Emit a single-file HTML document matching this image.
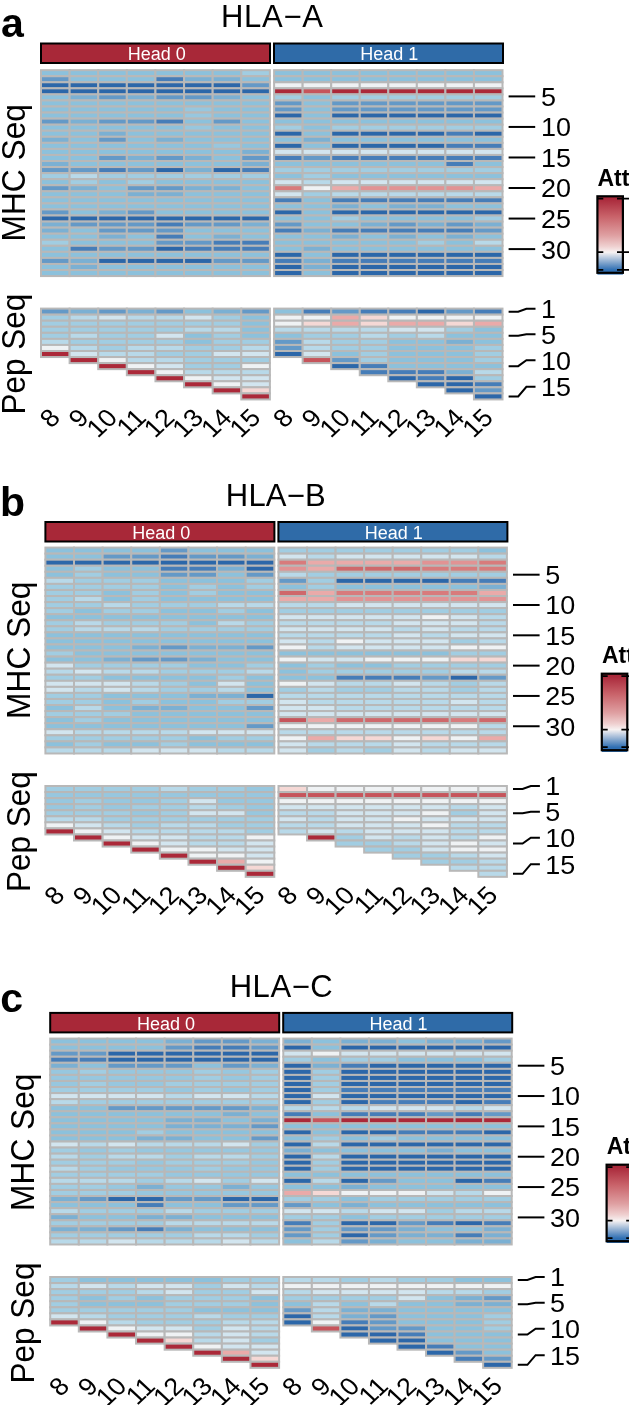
<!DOCTYPE html>
<html><head><meta charset="utf-8"><title>HLA attention heatmaps</title>
<style>html,body{margin:0;padding:0;background:#fff}svg{display:block}svg text{font-family:"Liberation Sans",sans-serif}</style></head><body>
<svg width="629" height="1405" viewBox="0 0 629 1405">
<defs><filter id="soft" x="0" y="0" width="100%" height="100%" filterUnits="userSpaceOnUse" color-interpolation-filters="sRGB"><feGaussianBlur stdDeviation="0.5"/></filter><linearGradient id="lg" x1="0" y1="0" x2="0" y2="1"><stop offset="0" stop-color="#a9283a"/><stop offset="0.03" stop-color="#a9283a"/><stop offset="0.26" stop-color="#c9636a"/><stop offset="0.5" stop-color="#dfa0a2"/><stop offset="0.64" stop-color="#efd0d0"/><stop offset="0.715" stop-color="#f7f2f2"/><stop offset="0.94" stop-color="#2f6fb3"/><stop offset="1" stop-color="#2f6fb3"/></linearGradient></defs>
<g filter="url(#soft)">
<rect x="-5" y="-5" width="639" height="1415" fill="#fff"/>
<text x="1" y="36.7" font-size="41" font-weight="bold" >a</text>
<text x="0" y="516.3" font-size="41" font-weight="bold" >b</text>
<text x="0.2" y="1012.2" font-size="41" font-weight="bold" >c</text>
<g transform="translate(0,0)">
<text x="272" y="27.3" font-size="31" textLength="102" text-anchor="middle" >HLA−A</text>
<rect x="41" y="43.5" width="229" height="19.5" fill="#a82838" stroke="#000" stroke-width="2"/>
<rect x="274" y="43.5" width="229" height="19.5" fill="#2f6ba8" stroke="#000" stroke-width="2"/>
<text x="156.8" y="60.2" font-size="18" fill="#fff" text-anchor="middle" >Head 0</text>
<text x="389.3" y="60.2" font-size="18" fill="#fff" text-anchor="middle" >Head 1</text>
<g transform="translate(0,0)">
<text transform="translate(25.4,172.8) rotate(-90) scale(1,1.05)" font-size="31.7" text-anchor="middle" >MHC Seq</text>
<text transform="translate(25.1,354.2) rotate(-90) scale(1,1.04)" font-size="31.5" text-anchor="middle" >Pep Seq</text>
<g stroke="#b8b8b8" stroke-width="2">
<rect x="41" y="70.17" width="28.61" height="6.06" fill="#8cc1dc"/>
<rect x="69.61" y="70.17" width="28.61" height="6.06" fill="#8cc1dc"/>
<rect x="98.22" y="70.17" width="28.61" height="6.06" fill="#8cc1dc"/>
<rect x="126.84" y="70.17" width="28.61" height="6.06" fill="#8cc1dc"/>
<rect x="155.45" y="70.17" width="28.61" height="6.06" fill="#8cc1dc"/>
<rect x="184.06" y="70.17" width="28.61" height="6.06" fill="#8cc1dc"/>
<rect x="212.67" y="70.17" width="28.61" height="6.06" fill="#8cc1dc"/>
<rect x="241.29" y="70.17" width="28.61" height="6.06" fill="#a1cde2"/>
<rect x="41" y="76.23" width="28.61" height="6.06" fill="#6499c7"/>
<rect x="69.61" y="76.23" width="28.61" height="6.06" fill="#8cc1dc"/>
<rect x="98.22" y="76.23" width="28.61" height="6.06" fill="#8cc1dc"/>
<rect x="126.84" y="76.23" width="28.61" height="6.06" fill="#8cc1dc"/>
<rect x="155.45" y="76.23" width="28.61" height="6.06" fill="#467db8"/>
<rect x="184.06" y="76.23" width="28.61" height="6.06" fill="#7bb0d3"/>
<rect x="212.67" y="76.23" width="28.61" height="6.06" fill="#7bb0d3"/>
<rect x="241.29" y="76.23" width="28.61" height="6.06" fill="#8cc1dc"/>
<rect x="41" y="82.28" width="28.61" height="6.06" fill="#2c67a9"/>
<rect x="69.61" y="82.28" width="28.61" height="6.06" fill="#2c67a9"/>
<rect x="98.22" y="82.28" width="28.61" height="6.06" fill="#2c67a9"/>
<rect x="126.84" y="82.28" width="28.61" height="6.06" fill="#2c67a9"/>
<rect x="155.45" y="82.28" width="28.61" height="6.06" fill="#2c67a9"/>
<rect x="184.06" y="82.28" width="28.61" height="6.06" fill="#2c67a9"/>
<rect x="212.67" y="82.28" width="28.61" height="6.06" fill="#2c67a9"/>
<rect x="241.29" y="82.28" width="28.61" height="6.06" fill="#6499c7"/>
<rect x="41" y="88.34" width="28.61" height="6.06" fill="#2c67a9"/>
<rect x="69.61" y="88.34" width="28.61" height="6.06" fill="#2c67a9"/>
<rect x="98.22" y="88.34" width="28.61" height="6.06" fill="#2c67a9"/>
<rect x="126.84" y="88.34" width="28.61" height="6.06" fill="#2c67a9"/>
<rect x="155.45" y="88.34" width="28.61" height="6.06" fill="#2c67a9"/>
<rect x="184.06" y="88.34" width="28.61" height="6.06" fill="#2c67a9"/>
<rect x="212.67" y="88.34" width="28.61" height="6.06" fill="#2c67a9"/>
<rect x="241.29" y="88.34" width="28.61" height="6.06" fill="#2c67a9"/>
<rect x="41" y="94.39" width="28.61" height="6.06" fill="#8cc1dc"/>
<rect x="69.61" y="94.39" width="28.61" height="6.06" fill="#7bb0d3"/>
<rect x="98.22" y="94.39" width="28.61" height="6.06" fill="#6499c7"/>
<rect x="126.84" y="94.39" width="28.61" height="6.06" fill="#7bb0d3"/>
<rect x="155.45" y="94.39" width="28.61" height="6.06" fill="#6499c7"/>
<rect x="184.06" y="94.39" width="28.61" height="6.06" fill="#6499c7"/>
<rect x="212.67" y="94.39" width="28.61" height="6.06" fill="#7bb0d3"/>
<rect x="241.29" y="94.39" width="28.61" height="6.06" fill="#8cc1dc"/>
<rect x="41" y="100.45" width="28.61" height="6.06" fill="#8cc1dc"/>
<rect x="69.61" y="100.45" width="28.61" height="6.06" fill="#8cc1dc"/>
<rect x="98.22" y="100.45" width="28.61" height="6.06" fill="#8cc1dc"/>
<rect x="126.84" y="100.45" width="28.61" height="6.06" fill="#8cc1dc"/>
<rect x="155.45" y="100.45" width="28.61" height="6.06" fill="#8cc1dc"/>
<rect x="184.06" y="100.45" width="28.61" height="6.06" fill="#8cc1dc"/>
<rect x="212.67" y="100.45" width="28.61" height="6.06" fill="#8cc1dc"/>
<rect x="241.29" y="100.45" width="28.61" height="6.06" fill="#8cc1dc"/>
<rect x="41" y="106.51" width="28.61" height="6.06" fill="#8cc1dc"/>
<rect x="69.61" y="106.51" width="28.61" height="6.06" fill="#8cc1dc"/>
<rect x="98.22" y="106.51" width="28.61" height="6.06" fill="#8cc1dc"/>
<rect x="126.84" y="106.51" width="28.61" height="6.06" fill="#8cc1dc"/>
<rect x="155.45" y="106.51" width="28.61" height="6.06" fill="#8cc1dc"/>
<rect x="184.06" y="106.51" width="28.61" height="6.06" fill="#97c7df"/>
<rect x="212.67" y="106.51" width="28.61" height="6.06" fill="#8cc1dc"/>
<rect x="241.29" y="106.51" width="28.61" height="6.06" fill="#8cc1dc"/>
<rect x="41" y="112.56" width="28.61" height="6.06" fill="#8cc1dc"/>
<rect x="69.61" y="112.56" width="28.61" height="6.06" fill="#8cc1dc"/>
<rect x="98.22" y="112.56" width="28.61" height="6.06" fill="#8cc1dc"/>
<rect x="126.84" y="112.56" width="28.61" height="6.06" fill="#8cc1dc"/>
<rect x="155.45" y="112.56" width="28.61" height="6.06" fill="#8cc1dc"/>
<rect x="184.06" y="112.56" width="28.61" height="6.06" fill="#97c7df"/>
<rect x="212.67" y="112.56" width="28.61" height="6.06" fill="#8cc1dc"/>
<rect x="241.29" y="112.56" width="28.61" height="6.06" fill="#8cc1dc"/>
<rect x="41" y="118.62" width="28.61" height="6.06" fill="#6499c7"/>
<rect x="69.61" y="118.62" width="28.61" height="6.06" fill="#7bb0d3"/>
<rect x="98.22" y="118.62" width="28.61" height="6.06" fill="#6499c7"/>
<rect x="126.84" y="118.62" width="28.61" height="6.06" fill="#6499c7"/>
<rect x="155.45" y="118.62" width="28.61" height="6.06" fill="#467db8"/>
<rect x="184.06" y="118.62" width="28.61" height="6.06" fill="#8cc1dc"/>
<rect x="212.67" y="118.62" width="28.61" height="6.06" fill="#6499c7"/>
<rect x="241.29" y="118.62" width="28.61" height="6.06" fill="#8cc1dc"/>
<rect x="41" y="124.67" width="28.61" height="6.06" fill="#8cc1dc"/>
<rect x="69.61" y="124.67" width="28.61" height="6.06" fill="#8cc1dc"/>
<rect x="98.22" y="124.67" width="28.61" height="6.06" fill="#8cc1dc"/>
<rect x="126.84" y="124.67" width="28.61" height="6.06" fill="#8cc1dc"/>
<rect x="155.45" y="124.67" width="28.61" height="6.06" fill="#8cc1dc"/>
<rect x="184.06" y="124.67" width="28.61" height="6.06" fill="#97c7df"/>
<rect x="212.67" y="124.67" width="28.61" height="6.06" fill="#8cc1dc"/>
<rect x="241.29" y="124.67" width="28.61" height="6.06" fill="#8cc1dc"/>
<rect x="41" y="130.73" width="28.61" height="6.06" fill="#8cc1dc"/>
<rect x="69.61" y="130.73" width="28.61" height="6.06" fill="#8cc1dc"/>
<rect x="98.22" y="130.73" width="28.61" height="6.06" fill="#7bb0d3"/>
<rect x="126.84" y="130.73" width="28.61" height="6.06" fill="#8cc1dc"/>
<rect x="155.45" y="130.73" width="28.61" height="6.06" fill="#8cc1dc"/>
<rect x="184.06" y="130.73" width="28.61" height="6.06" fill="#8cc1dc"/>
<rect x="212.67" y="130.73" width="28.61" height="6.06" fill="#8cc1dc"/>
<rect x="241.29" y="130.73" width="28.61" height="6.06" fill="#8cc1dc"/>
<rect x="41" y="136.79" width="28.61" height="6.06" fill="#7bb0d3"/>
<rect x="69.61" y="136.79" width="28.61" height="6.06" fill="#8cc1dc"/>
<rect x="98.22" y="136.79" width="28.61" height="6.06" fill="#6499c7"/>
<rect x="126.84" y="136.79" width="28.61" height="6.06" fill="#8cc1dc"/>
<rect x="155.45" y="136.79" width="28.61" height="6.06" fill="#7bb0d3"/>
<rect x="184.06" y="136.79" width="28.61" height="6.06" fill="#8cc1dc"/>
<rect x="212.67" y="136.79" width="28.61" height="6.06" fill="#8cc1dc"/>
<rect x="241.29" y="136.79" width="28.61" height="6.06" fill="#8cc1dc"/>
<rect x="41" y="142.84" width="28.61" height="6.06" fill="#8cc1dc"/>
<rect x="69.61" y="142.84" width="28.61" height="6.06" fill="#8cc1dc"/>
<rect x="98.22" y="142.84" width="28.61" height="6.06" fill="#8cc1dc"/>
<rect x="126.84" y="142.84" width="28.61" height="6.06" fill="#8cc1dc"/>
<rect x="155.45" y="142.84" width="28.61" height="6.06" fill="#8cc1dc"/>
<rect x="184.06" y="142.84" width="28.61" height="6.06" fill="#8cc1dc"/>
<rect x="212.67" y="142.84" width="28.61" height="6.06" fill="#97c7df"/>
<rect x="241.29" y="142.84" width="28.61" height="6.06" fill="#8cc1dc"/>
<rect x="41" y="148.9" width="28.61" height="6.06" fill="#8cc1dc"/>
<rect x="69.61" y="148.9" width="28.61" height="6.06" fill="#8cc1dc"/>
<rect x="98.22" y="148.9" width="28.61" height="6.06" fill="#8cc1dc"/>
<rect x="126.84" y="148.9" width="28.61" height="6.06" fill="#8cc1dc"/>
<rect x="155.45" y="148.9" width="28.61" height="6.06" fill="#8cc1dc"/>
<rect x="184.06" y="148.9" width="28.61" height="6.06" fill="#8cc1dc"/>
<rect x="212.67" y="148.9" width="28.61" height="6.06" fill="#8cc1dc"/>
<rect x="241.29" y="148.9" width="28.61" height="6.06" fill="#7bb0d3"/>
<rect x="41" y="154.95" width="28.61" height="6.06" fill="#8cc1dc"/>
<rect x="69.61" y="154.95" width="28.61" height="6.06" fill="#8cc1dc"/>
<rect x="98.22" y="154.95" width="28.61" height="6.06" fill="#6499c7"/>
<rect x="126.84" y="154.95" width="28.61" height="6.06" fill="#7bb0d3"/>
<rect x="155.45" y="154.95" width="28.61" height="6.06" fill="#6499c7"/>
<rect x="184.06" y="154.95" width="28.61" height="6.06" fill="#7bb0d3"/>
<rect x="212.67" y="154.95" width="28.61" height="6.06" fill="#8cc1dc"/>
<rect x="241.29" y="154.95" width="28.61" height="6.06" fill="#6499c7"/>
<rect x="41" y="161.01" width="28.61" height="6.06" fill="#7bb0d3"/>
<rect x="69.61" y="161.01" width="28.61" height="6.06" fill="#8cc1dc"/>
<rect x="98.22" y="161.01" width="28.61" height="6.06" fill="#8cc1dc"/>
<rect x="126.84" y="161.01" width="28.61" height="6.06" fill="#8cc1dc"/>
<rect x="155.45" y="161.01" width="28.61" height="6.06" fill="#8cc1dc"/>
<rect x="184.06" y="161.01" width="28.61" height="6.06" fill="#8cc1dc"/>
<rect x="212.67" y="161.01" width="28.61" height="6.06" fill="#8cc1dc"/>
<rect x="241.29" y="161.01" width="28.61" height="6.06" fill="#7bb0d3"/>
<rect x="41" y="167.07" width="28.61" height="6.06" fill="#6499c7"/>
<rect x="69.61" y="167.07" width="28.61" height="6.06" fill="#6499c7"/>
<rect x="98.22" y="167.07" width="28.61" height="6.06" fill="#467db8"/>
<rect x="126.84" y="167.07" width="28.61" height="6.06" fill="#6499c7"/>
<rect x="155.45" y="167.07" width="28.61" height="6.06" fill="#2c67a9"/>
<rect x="184.06" y="167.07" width="28.61" height="6.06" fill="#7bb0d3"/>
<rect x="212.67" y="167.07" width="28.61" height="6.06" fill="#2c67a9"/>
<rect x="241.29" y="167.07" width="28.61" height="6.06" fill="#467db8"/>
<rect x="41" y="173.12" width="28.61" height="6.06" fill="#a1cde2"/>
<rect x="69.61" y="173.12" width="28.61" height="6.06" fill="#b8d9e9"/>
<rect x="98.22" y="173.12" width="28.61" height="6.06" fill="#a1cde2"/>
<rect x="126.84" y="173.12" width="28.61" height="6.06" fill="#a1cde2"/>
<rect x="155.45" y="173.12" width="28.61" height="6.06" fill="#a1cde2"/>
<rect x="184.06" y="173.12" width="28.61" height="6.06" fill="#a1cde2"/>
<rect x="212.67" y="173.12" width="28.61" height="6.06" fill="#a1cde2"/>
<rect x="241.29" y="173.12" width="28.61" height="6.06" fill="#a1cde2"/>
<rect x="41" y="179.18" width="28.61" height="6.06" fill="#8cc1dc"/>
<rect x="69.61" y="179.18" width="28.61" height="6.06" fill="#a1cde2"/>
<rect x="98.22" y="179.18" width="28.61" height="6.06" fill="#8cc1dc"/>
<rect x="126.84" y="179.18" width="28.61" height="6.06" fill="#a1cde2"/>
<rect x="155.45" y="179.18" width="28.61" height="6.06" fill="#8cc1dc"/>
<rect x="184.06" y="179.18" width="28.61" height="6.06" fill="#8cc1dc"/>
<rect x="212.67" y="179.18" width="28.61" height="6.06" fill="#8cc1dc"/>
<rect x="241.29" y="179.18" width="28.61" height="6.06" fill="#8cc1dc"/>
<rect x="41" y="185.23" width="28.61" height="6.06" fill="#6499c7"/>
<rect x="69.61" y="185.23" width="28.61" height="6.06" fill="#7bb0d3"/>
<rect x="98.22" y="185.23" width="28.61" height="6.06" fill="#8cc1dc"/>
<rect x="126.84" y="185.23" width="28.61" height="6.06" fill="#6499c7"/>
<rect x="155.45" y="185.23" width="28.61" height="6.06" fill="#6499c7"/>
<rect x="184.06" y="185.23" width="28.61" height="6.06" fill="#7bb0d3"/>
<rect x="212.67" y="185.23" width="28.61" height="6.06" fill="#7bb0d3"/>
<rect x="241.29" y="185.23" width="28.61" height="6.06" fill="#8cc1dc"/>
<rect x="41" y="191.29" width="28.61" height="6.06" fill="#8cc1dc"/>
<rect x="69.61" y="191.29" width="28.61" height="6.06" fill="#8cc1dc"/>
<rect x="98.22" y="191.29" width="28.61" height="6.06" fill="#8cc1dc"/>
<rect x="126.84" y="191.29" width="28.61" height="6.06" fill="#7bb0d3"/>
<rect x="155.45" y="191.29" width="28.61" height="6.06" fill="#7bb0d3"/>
<rect x="184.06" y="191.29" width="28.61" height="6.06" fill="#8cc1dc"/>
<rect x="212.67" y="191.29" width="28.61" height="6.06" fill="#8cc1dc"/>
<rect x="241.29" y="191.29" width="28.61" height="6.06" fill="#8cc1dc"/>
<rect x="41" y="197.35" width="28.61" height="6.06" fill="#8cc1dc"/>
<rect x="69.61" y="197.35" width="28.61" height="6.06" fill="#8cc1dc"/>
<rect x="98.22" y="197.35" width="28.61" height="6.06" fill="#8cc1dc"/>
<rect x="126.84" y="197.35" width="28.61" height="6.06" fill="#8cc1dc"/>
<rect x="155.45" y="197.35" width="28.61" height="6.06" fill="#8cc1dc"/>
<rect x="184.06" y="197.35" width="28.61" height="6.06" fill="#8cc1dc"/>
<rect x="212.67" y="197.35" width="28.61" height="6.06" fill="#8cc1dc"/>
<rect x="241.29" y="197.35" width="28.61" height="6.06" fill="#8cc1dc"/>
<rect x="41" y="203.4" width="28.61" height="6.06" fill="#8cc1dc"/>
<rect x="69.61" y="203.4" width="28.61" height="6.06" fill="#8cc1dc"/>
<rect x="98.22" y="203.4" width="28.61" height="6.06" fill="#8cc1dc"/>
<rect x="126.84" y="203.4" width="28.61" height="6.06" fill="#8cc1dc"/>
<rect x="155.45" y="203.4" width="28.61" height="6.06" fill="#8cc1dc"/>
<rect x="184.06" y="203.4" width="28.61" height="6.06" fill="#8cc1dc"/>
<rect x="212.67" y="203.4" width="28.61" height="6.06" fill="#8cc1dc"/>
<rect x="241.29" y="203.4" width="28.61" height="6.06" fill="#8cc1dc"/>
<rect x="41" y="209.46" width="28.61" height="6.06" fill="#6499c7"/>
<rect x="69.61" y="209.46" width="28.61" height="6.06" fill="#8cc1dc"/>
<rect x="98.22" y="209.46" width="28.61" height="6.06" fill="#7bb0d3"/>
<rect x="126.84" y="209.46" width="28.61" height="6.06" fill="#6499c7"/>
<rect x="155.45" y="209.46" width="28.61" height="6.06" fill="#8cc1dc"/>
<rect x="184.06" y="209.46" width="28.61" height="6.06" fill="#8cc1dc"/>
<rect x="212.67" y="209.46" width="28.61" height="6.06" fill="#8cc1dc"/>
<rect x="241.29" y="209.46" width="28.61" height="6.06" fill="#8cc1dc"/>
<rect x="41" y="215.51" width="28.61" height="6.06" fill="#2c67a9"/>
<rect x="69.61" y="215.51" width="28.61" height="6.06" fill="#2c67a9"/>
<rect x="98.22" y="215.51" width="28.61" height="6.06" fill="#2c67a9"/>
<rect x="126.84" y="215.51" width="28.61" height="6.06" fill="#2c67a9"/>
<rect x="155.45" y="215.51" width="28.61" height="6.06" fill="#2c67a9"/>
<rect x="184.06" y="215.51" width="28.61" height="6.06" fill="#2c67a9"/>
<rect x="212.67" y="215.51" width="28.61" height="6.06" fill="#2c67a9"/>
<rect x="241.29" y="215.51" width="28.61" height="6.06" fill="#2c67a9"/>
<rect x="41" y="221.57" width="28.61" height="6.06" fill="#7bb0d3"/>
<rect x="69.61" y="221.57" width="28.61" height="6.06" fill="#6499c7"/>
<rect x="98.22" y="221.57" width="28.61" height="6.06" fill="#6499c7"/>
<rect x="126.84" y="221.57" width="28.61" height="6.06" fill="#6499c7"/>
<rect x="155.45" y="221.57" width="28.61" height="6.06" fill="#467db8"/>
<rect x="184.06" y="221.57" width="28.61" height="6.06" fill="#6499c7"/>
<rect x="212.67" y="221.57" width="28.61" height="6.06" fill="#6499c7"/>
<rect x="241.29" y="221.57" width="28.61" height="6.06" fill="#7bb0d3"/>
<rect x="41" y="227.63" width="28.61" height="6.06" fill="#7bb0d3"/>
<rect x="69.61" y="227.63" width="28.61" height="6.06" fill="#8cc1dc"/>
<rect x="98.22" y="227.63" width="28.61" height="6.06" fill="#6499c7"/>
<rect x="126.84" y="227.63" width="28.61" height="6.06" fill="#6499c7"/>
<rect x="155.45" y="227.63" width="28.61" height="6.06" fill="#6499c7"/>
<rect x="184.06" y="227.63" width="28.61" height="6.06" fill="#8cc1dc"/>
<rect x="212.67" y="227.63" width="28.61" height="6.06" fill="#8cc1dc"/>
<rect x="241.29" y="227.63" width="28.61" height="6.06" fill="#8cc1dc"/>
<rect x="41" y="233.68" width="28.61" height="6.06" fill="#8cc1dc"/>
<rect x="69.61" y="233.68" width="28.61" height="6.06" fill="#8cc1dc"/>
<rect x="98.22" y="233.68" width="28.61" height="6.06" fill="#7bb0d3"/>
<rect x="126.84" y="233.68" width="28.61" height="6.06" fill="#8cc1dc"/>
<rect x="155.45" y="233.68" width="28.61" height="6.06" fill="#467db8"/>
<rect x="184.06" y="233.68" width="28.61" height="6.06" fill="#8cc1dc"/>
<rect x="212.67" y="233.68" width="28.61" height="6.06" fill="#7bb0d3"/>
<rect x="241.29" y="233.68" width="28.61" height="6.06" fill="#8cc1dc"/>
<rect x="41" y="239.74" width="28.61" height="6.06" fill="#a1cde2"/>
<rect x="69.61" y="239.74" width="28.61" height="6.06" fill="#8cc1dc"/>
<rect x="98.22" y="239.74" width="28.61" height="6.06" fill="#8cc1dc"/>
<rect x="126.84" y="239.74" width="28.61" height="6.06" fill="#8cc1dc"/>
<rect x="155.45" y="239.74" width="28.61" height="6.06" fill="#6499c7"/>
<rect x="184.06" y="239.74" width="28.61" height="6.06" fill="#6499c7"/>
<rect x="212.67" y="239.74" width="28.61" height="6.06" fill="#467db8"/>
<rect x="241.29" y="239.74" width="28.61" height="6.06" fill="#467db8"/>
<rect x="41" y="245.79" width="28.61" height="6.06" fill="#8cc1dc"/>
<rect x="69.61" y="245.79" width="28.61" height="6.06" fill="#467db8"/>
<rect x="98.22" y="245.79" width="28.61" height="6.06" fill="#6499c7"/>
<rect x="126.84" y="245.79" width="28.61" height="6.06" fill="#6499c7"/>
<rect x="155.45" y="245.79" width="28.61" height="6.06" fill="#2c67a9"/>
<rect x="184.06" y="245.79" width="28.61" height="6.06" fill="#467db8"/>
<rect x="212.67" y="245.79" width="28.61" height="6.06" fill="#467db8"/>
<rect x="241.29" y="245.79" width="28.61" height="6.06" fill="#467db8"/>
<rect x="41" y="251.85" width="28.61" height="6.06" fill="#8cc1dc"/>
<rect x="69.61" y="251.85" width="28.61" height="6.06" fill="#8cc1dc"/>
<rect x="98.22" y="251.85" width="28.61" height="6.06" fill="#8cc1dc"/>
<rect x="126.84" y="251.85" width="28.61" height="6.06" fill="#8cc1dc"/>
<rect x="155.45" y="251.85" width="28.61" height="6.06" fill="#8cc1dc"/>
<rect x="184.06" y="251.85" width="28.61" height="6.06" fill="#8cc1dc"/>
<rect x="212.67" y="251.85" width="28.61" height="6.06" fill="#8cc1dc"/>
<rect x="241.29" y="251.85" width="28.61" height="6.06" fill="#8cc1dc"/>
<rect x="41" y="257.91" width="28.61" height="6.06" fill="#6499c7"/>
<rect x="69.61" y="257.91" width="28.61" height="6.06" fill="#7bb0d3"/>
<rect x="98.22" y="257.91" width="28.61" height="6.06" fill="#2c67a9"/>
<rect x="126.84" y="257.91" width="28.61" height="6.06" fill="#2c67a9"/>
<rect x="155.45" y="257.91" width="28.61" height="6.06" fill="#2c67a9"/>
<rect x="184.06" y="257.91" width="28.61" height="6.06" fill="#2c67a9"/>
<rect x="212.67" y="257.91" width="28.61" height="6.06" fill="#6499c7"/>
<rect x="241.29" y="257.91" width="28.61" height="6.06" fill="#6499c7"/>
<rect x="41" y="263.96" width="28.61" height="6.06" fill="#8cc1dc"/>
<rect x="69.61" y="263.96" width="28.61" height="6.06" fill="#7bb0d3"/>
<rect x="98.22" y="263.96" width="28.61" height="6.06" fill="#8cc1dc"/>
<rect x="126.84" y="263.96" width="28.61" height="6.06" fill="#8cc1dc"/>
<rect x="155.45" y="263.96" width="28.61" height="6.06" fill="#8cc1dc"/>
<rect x="184.06" y="263.96" width="28.61" height="6.06" fill="#8cc1dc"/>
<rect x="212.67" y="263.96" width="28.61" height="6.06" fill="#8cc1dc"/>
<rect x="241.29" y="263.96" width="28.61" height="6.06" fill="#8cc1dc"/>
<rect x="41" y="270.02" width="28.61" height="6.06" fill="#8cc1dc"/>
<rect x="69.61" y="270.02" width="28.61" height="6.06" fill="#8cc1dc"/>
<rect x="98.22" y="270.02" width="28.61" height="6.06" fill="#8cc1dc"/>
<rect x="126.84" y="270.02" width="28.61" height="6.06" fill="#8cc1dc"/>
<rect x="155.45" y="270.02" width="28.61" height="6.06" fill="#8cc1dc"/>
<rect x="184.06" y="270.02" width="28.61" height="6.06" fill="#8cc1dc"/>
<rect x="212.67" y="270.02" width="28.61" height="6.06" fill="#8cc1dc"/>
<rect x="241.29" y="270.02" width="28.61" height="6.06" fill="#8cc1dc"/>
<rect x="41" y="308.6" width="28.61" height="6.06" fill="#6499c7"/>
<rect x="41" y="314.66" width="28.61" height="6.06" fill="#a1cde2"/>
<rect x="41" y="320.71" width="28.61" height="6.06" fill="#a1cde2"/>
<rect x="41" y="326.77" width="28.61" height="6.06" fill="#a1cde2"/>
<rect x="41" y="332.82" width="28.61" height="6.06" fill="#a1cde2"/>
<rect x="41" y="338.88" width="28.61" height="6.06" fill="#b8d9e9"/>
<rect x="41" y="344.94" width="28.61" height="6.06" fill="#eff2f4"/>
<rect x="41" y="350.99" width="28.61" height="6.06" fill="#ab2939"/>
<rect x="69.61" y="308.6" width="28.61" height="6.06" fill="#7bb0d3"/>
<rect x="69.61" y="314.66" width="28.61" height="6.06" fill="#b8d9e9"/>
<rect x="69.61" y="320.71" width="28.61" height="6.06" fill="#a1cde2"/>
<rect x="69.61" y="326.77" width="28.61" height="6.06" fill="#a1cde2"/>
<rect x="69.61" y="332.82" width="28.61" height="6.06" fill="#b8d9e9"/>
<rect x="69.61" y="338.88" width="28.61" height="6.06" fill="#a1cde2"/>
<rect x="69.61" y="344.94" width="28.61" height="6.06" fill="#b8d9e9"/>
<rect x="69.61" y="350.99" width="28.61" height="6.06" fill="#d2e5ef"/>
<rect x="69.61" y="357.05" width="28.61" height="6.06" fill="#ab2939"/>
<rect x="98.22" y="308.6" width="28.61" height="6.06" fill="#6499c7"/>
<rect x="98.22" y="314.66" width="28.61" height="6.06" fill="#d2e5ef"/>
<rect x="98.22" y="320.71" width="28.61" height="6.06" fill="#a1cde2"/>
<rect x="98.22" y="326.77" width="28.61" height="6.06" fill="#a1cde2"/>
<rect x="98.22" y="332.82" width="28.61" height="6.06" fill="#a1cde2"/>
<rect x="98.22" y="338.88" width="28.61" height="6.06" fill="#a1cde2"/>
<rect x="98.22" y="344.94" width="28.61" height="6.06" fill="#a1cde2"/>
<rect x="98.22" y="350.99" width="28.61" height="6.06" fill="#b8d9e9"/>
<rect x="98.22" y="357.05" width="28.61" height="6.06" fill="#eff2f4"/>
<rect x="98.22" y="363.1" width="28.61" height="6.06" fill="#ab2939"/>
<rect x="126.84" y="308.6" width="28.61" height="6.06" fill="#7bb0d3"/>
<rect x="126.84" y="314.66" width="28.61" height="6.06" fill="#b8d9e9"/>
<rect x="126.84" y="320.71" width="28.61" height="6.06" fill="#a1cde2"/>
<rect x="126.84" y="326.77" width="28.61" height="6.06" fill="#a1cde2"/>
<rect x="126.84" y="332.82" width="28.61" height="6.06" fill="#a1cde2"/>
<rect x="126.84" y="338.88" width="28.61" height="6.06" fill="#a1cde2"/>
<rect x="126.84" y="344.94" width="28.61" height="6.06" fill="#b8d9e9"/>
<rect x="126.84" y="350.99" width="28.61" height="6.06" fill="#b8d9e9"/>
<rect x="126.84" y="357.05" width="28.61" height="6.06" fill="#b8d9e9"/>
<rect x="126.84" y="363.1" width="28.61" height="6.06" fill="#eff2f4"/>
<rect x="126.84" y="369.16" width="28.61" height="6.06" fill="#ab2939"/>
<rect x="155.45" y="308.6" width="28.61" height="6.06" fill="#6499c7"/>
<rect x="155.45" y="314.66" width="28.61" height="6.06" fill="#b8d9e9"/>
<rect x="155.45" y="320.71" width="28.61" height="6.06" fill="#a1cde2"/>
<rect x="155.45" y="326.77" width="28.61" height="6.06" fill="#a1cde2"/>
<rect x="155.45" y="332.82" width="28.61" height="6.06" fill="#d2e5ef"/>
<rect x="155.45" y="338.88" width="28.61" height="6.06" fill="#a1cde2"/>
<rect x="155.45" y="344.94" width="28.61" height="6.06" fill="#b8d9e9"/>
<rect x="155.45" y="350.99" width="28.61" height="6.06" fill="#a1cde2"/>
<rect x="155.45" y="357.05" width="28.61" height="6.06" fill="#b8d9e9"/>
<rect x="155.45" y="363.1" width="28.61" height="6.06" fill="#d2e5ef"/>
<rect x="155.45" y="369.16" width="28.61" height="6.06" fill="#eff2f4"/>
<rect x="155.45" y="375.22" width="28.61" height="6.06" fill="#ab2939"/>
<rect x="184.06" y="308.6" width="28.61" height="6.06" fill="#8cc1dc"/>
<rect x="184.06" y="314.66" width="28.61" height="6.06" fill="#d2e5ef"/>
<rect x="184.06" y="320.71" width="28.61" height="6.06" fill="#a1cde2"/>
<rect x="184.06" y="326.77" width="28.61" height="6.06" fill="#b8d9e9"/>
<rect x="184.06" y="332.82" width="28.61" height="6.06" fill="#8cc1dc"/>
<rect x="184.06" y="338.88" width="28.61" height="6.06" fill="#8cc1dc"/>
<rect x="184.06" y="344.94" width="28.61" height="6.06" fill="#a1cde2"/>
<rect x="184.06" y="350.99" width="28.61" height="6.06" fill="#a1cde2"/>
<rect x="184.06" y="357.05" width="28.61" height="6.06" fill="#a1cde2"/>
<rect x="184.06" y="363.1" width="28.61" height="6.06" fill="#a1cde2"/>
<rect x="184.06" y="369.16" width="28.61" height="6.06" fill="#b8d9e9"/>
<rect x="184.06" y="375.22" width="28.61" height="6.06" fill="#eff2f4"/>
<rect x="184.06" y="381.27" width="28.61" height="6.06" fill="#ab2939"/>
<rect x="212.67" y="308.6" width="28.61" height="6.06" fill="#7bb0d3"/>
<rect x="212.67" y="314.66" width="28.61" height="6.06" fill="#a1cde2"/>
<rect x="212.67" y="320.71" width="28.61" height="6.06" fill="#a1cde2"/>
<rect x="212.67" y="326.77" width="28.61" height="6.06" fill="#b8d9e9"/>
<rect x="212.67" y="332.82" width="28.61" height="6.06" fill="#a1cde2"/>
<rect x="212.67" y="338.88" width="28.61" height="6.06" fill="#a1cde2"/>
<rect x="212.67" y="344.94" width="28.61" height="6.06" fill="#a1cde2"/>
<rect x="212.67" y="350.99" width="28.61" height="6.06" fill="#d2e5ef"/>
<rect x="212.67" y="357.05" width="28.61" height="6.06" fill="#a1cde2"/>
<rect x="212.67" y="363.1" width="28.61" height="6.06" fill="#a1cde2"/>
<rect x="212.67" y="369.16" width="28.61" height="6.06" fill="#b8d9e9"/>
<rect x="212.67" y="375.22" width="28.61" height="6.06" fill="#d2e5ef"/>
<rect x="212.67" y="381.27" width="28.61" height="6.06" fill="#eff2f4"/>
<rect x="212.67" y="387.33" width="28.61" height="6.06" fill="#ab2939"/>
<rect x="241.29" y="308.6" width="28.61" height="6.06" fill="#6499c7"/>
<rect x="241.29" y="314.66" width="28.61" height="6.06" fill="#8cc1dc"/>
<rect x="241.29" y="320.71" width="28.61" height="6.06" fill="#8cc1dc"/>
<rect x="241.29" y="326.77" width="28.61" height="6.06" fill="#8cc1dc"/>
<rect x="241.29" y="332.82" width="28.61" height="6.06" fill="#8cc1dc"/>
<rect x="241.29" y="338.88" width="28.61" height="6.06" fill="#a1cde2"/>
<rect x="241.29" y="344.94" width="28.61" height="6.06" fill="#b8d9e9"/>
<rect x="241.29" y="350.99" width="28.61" height="6.06" fill="#d2e5ef"/>
<rect x="241.29" y="357.05" width="28.61" height="6.06" fill="#a1cde2"/>
<rect x="241.29" y="363.1" width="28.61" height="6.06" fill="#eff2f4"/>
<rect x="241.29" y="369.16" width="28.61" height="6.06" fill="#b8d9e9"/>
<rect x="241.29" y="375.22" width="28.61" height="6.06" fill="#d2e5ef"/>
<rect x="241.29" y="381.27" width="28.61" height="6.06" fill="#d2e5ef"/>
<rect x="241.29" y="387.33" width="28.61" height="6.06" fill="#f5d8d5"/>
<rect x="241.29" y="393.38" width="28.61" height="6.06" fill="#ab2939"/>
<rect x="274.1" y="70.17" width="28.55" height="6.06" fill="#8cc1dc"/>
<rect x="302.65" y="70.17" width="28.55" height="6.06" fill="#8cc1dc"/>
<rect x="331.2" y="70.17" width="28.55" height="6.06" fill="#8cc1dc"/>
<rect x="359.75" y="70.17" width="28.55" height="6.06" fill="#8cc1dc"/>
<rect x="388.3" y="70.17" width="28.55" height="6.06" fill="#8cc1dc"/>
<rect x="416.85" y="70.17" width="28.55" height="6.06" fill="#8cc1dc"/>
<rect x="445.4" y="70.17" width="28.55" height="6.06" fill="#8cc1dc"/>
<rect x="473.95" y="70.17" width="28.55" height="6.06" fill="#8cc1dc"/>
<rect x="274.1" y="76.23" width="28.55" height="6.06" fill="#8cc1dc"/>
<rect x="302.65" y="76.23" width="28.55" height="6.06" fill="#8cc1dc"/>
<rect x="331.2" y="76.23" width="28.55" height="6.06" fill="#8cc1dc"/>
<rect x="359.75" y="76.23" width="28.55" height="6.06" fill="#8cc1dc"/>
<rect x="388.3" y="76.23" width="28.55" height="6.06" fill="#8cc1dc"/>
<rect x="416.85" y="76.23" width="28.55" height="6.06" fill="#8cc1dc"/>
<rect x="445.4" y="76.23" width="28.55" height="6.06" fill="#8cc1dc"/>
<rect x="473.95" y="76.23" width="28.55" height="6.06" fill="#8cc1dc"/>
<rect x="274.1" y="82.28" width="28.55" height="6.06" fill="#eff2f4"/>
<rect x="302.65" y="82.28" width="28.55" height="6.06" fill="#eff2f4"/>
<rect x="331.2" y="82.28" width="28.55" height="6.06" fill="#eff2f4"/>
<rect x="359.75" y="82.28" width="28.55" height="6.06" fill="#eff2f4"/>
<rect x="388.3" y="82.28" width="28.55" height="6.06" fill="#eff2f4"/>
<rect x="416.85" y="82.28" width="28.55" height="6.06" fill="#eff2f4"/>
<rect x="445.4" y="82.28" width="28.55" height="6.06" fill="#eff2f4"/>
<rect x="473.95" y="82.28" width="28.55" height="6.06" fill="#eff2f4"/>
<rect x="274.1" y="88.34" width="28.55" height="6.06" fill="#ab2939"/>
<rect x="302.65" y="88.34" width="28.55" height="6.06" fill="#c6545b"/>
<rect x="331.2" y="88.34" width="28.55" height="6.06" fill="#ab2939"/>
<rect x="359.75" y="88.34" width="28.55" height="6.06" fill="#ab2939"/>
<rect x="388.3" y="88.34" width="28.55" height="6.06" fill="#ab2939"/>
<rect x="416.85" y="88.34" width="28.55" height="6.06" fill="#ab2939"/>
<rect x="445.4" y="88.34" width="28.55" height="6.06" fill="#ab2939"/>
<rect x="473.95" y="88.34" width="28.55" height="6.06" fill="#ab2939"/>
<rect x="274.1" y="94.39" width="28.55" height="6.06" fill="#a1cde2"/>
<rect x="302.65" y="94.39" width="28.55" height="6.06" fill="#8cc1dc"/>
<rect x="331.2" y="94.39" width="28.55" height="6.06" fill="#a1cde2"/>
<rect x="359.75" y="94.39" width="28.55" height="6.06" fill="#a1cde2"/>
<rect x="388.3" y="94.39" width="28.55" height="6.06" fill="#a1cde2"/>
<rect x="416.85" y="94.39" width="28.55" height="6.06" fill="#a1cde2"/>
<rect x="445.4" y="94.39" width="28.55" height="6.06" fill="#a1cde2"/>
<rect x="473.95" y="94.39" width="28.55" height="6.06" fill="#a1cde2"/>
<rect x="274.1" y="100.45" width="28.55" height="6.06" fill="#6499c7"/>
<rect x="302.65" y="100.45" width="28.55" height="6.06" fill="#8cc1dc"/>
<rect x="331.2" y="100.45" width="28.55" height="6.06" fill="#6499c7"/>
<rect x="359.75" y="100.45" width="28.55" height="6.06" fill="#6499c7"/>
<rect x="388.3" y="100.45" width="28.55" height="6.06" fill="#6499c7"/>
<rect x="416.85" y="100.45" width="28.55" height="6.06" fill="#6499c7"/>
<rect x="445.4" y="100.45" width="28.55" height="6.06" fill="#6499c7"/>
<rect x="473.95" y="100.45" width="28.55" height="6.06" fill="#6499c7"/>
<rect x="274.1" y="106.51" width="28.55" height="6.06" fill="#6499c7"/>
<rect x="302.65" y="106.51" width="28.55" height="6.06" fill="#8cc1dc"/>
<rect x="331.2" y="106.51" width="28.55" height="6.06" fill="#6499c7"/>
<rect x="359.75" y="106.51" width="28.55" height="6.06" fill="#6499c7"/>
<rect x="388.3" y="106.51" width="28.55" height="6.06" fill="#6499c7"/>
<rect x="416.85" y="106.51" width="28.55" height="6.06" fill="#6499c7"/>
<rect x="445.4" y="106.51" width="28.55" height="6.06" fill="#6499c7"/>
<rect x="473.95" y="106.51" width="28.55" height="6.06" fill="#6499c7"/>
<rect x="274.1" y="112.56" width="28.55" height="6.06" fill="#2c67a9"/>
<rect x="302.65" y="112.56" width="28.55" height="6.06" fill="#8cc1dc"/>
<rect x="331.2" y="112.56" width="28.55" height="6.06" fill="#2c67a9"/>
<rect x="359.75" y="112.56" width="28.55" height="6.06" fill="#2c67a9"/>
<rect x="388.3" y="112.56" width="28.55" height="6.06" fill="#2c67a9"/>
<rect x="416.85" y="112.56" width="28.55" height="6.06" fill="#2c67a9"/>
<rect x="445.4" y="112.56" width="28.55" height="6.06" fill="#2c67a9"/>
<rect x="473.95" y="112.56" width="28.55" height="6.06" fill="#2c67a9"/>
<rect x="274.1" y="118.62" width="28.55" height="6.06" fill="#8cc1dc"/>
<rect x="302.65" y="118.62" width="28.55" height="6.06" fill="#8cc1dc"/>
<rect x="331.2" y="118.62" width="28.55" height="6.06" fill="#8cc1dc"/>
<rect x="359.75" y="118.62" width="28.55" height="6.06" fill="#8cc1dc"/>
<rect x="388.3" y="118.62" width="28.55" height="6.06" fill="#8cc1dc"/>
<rect x="416.85" y="118.62" width="28.55" height="6.06" fill="#8cc1dc"/>
<rect x="445.4" y="118.62" width="28.55" height="6.06" fill="#8cc1dc"/>
<rect x="473.95" y="118.62" width="28.55" height="6.06" fill="#8cc1dc"/>
<rect x="274.1" y="124.67" width="28.55" height="6.06" fill="#a1cde2"/>
<rect x="302.65" y="124.67" width="28.55" height="6.06" fill="#8cc1dc"/>
<rect x="331.2" y="124.67" width="28.55" height="6.06" fill="#a1cde2"/>
<rect x="359.75" y="124.67" width="28.55" height="6.06" fill="#a1cde2"/>
<rect x="388.3" y="124.67" width="28.55" height="6.06" fill="#a1cde2"/>
<rect x="416.85" y="124.67" width="28.55" height="6.06" fill="#a1cde2"/>
<rect x="445.4" y="124.67" width="28.55" height="6.06" fill="#a1cde2"/>
<rect x="473.95" y="124.67" width="28.55" height="6.06" fill="#a1cde2"/>
<rect x="274.1" y="130.73" width="28.55" height="6.06" fill="#2c67a9"/>
<rect x="302.65" y="130.73" width="28.55" height="6.06" fill="#8cc1dc"/>
<rect x="331.2" y="130.73" width="28.55" height="6.06" fill="#2c67a9"/>
<rect x="359.75" y="130.73" width="28.55" height="6.06" fill="#2c67a9"/>
<rect x="388.3" y="130.73" width="28.55" height="6.06" fill="#2c67a9"/>
<rect x="416.85" y="130.73" width="28.55" height="6.06" fill="#2c67a9"/>
<rect x="445.4" y="130.73" width="28.55" height="6.06" fill="#467db8"/>
<rect x="473.95" y="130.73" width="28.55" height="6.06" fill="#2c67a9"/>
<rect x="274.1" y="136.79" width="28.55" height="6.06" fill="#8cc1dc"/>
<rect x="302.65" y="136.79" width="28.55" height="6.06" fill="#7bb0d3"/>
<rect x="331.2" y="136.79" width="28.55" height="6.06" fill="#8cc1dc"/>
<rect x="359.75" y="136.79" width="28.55" height="6.06" fill="#8cc1dc"/>
<rect x="388.3" y="136.79" width="28.55" height="6.06" fill="#8cc1dc"/>
<rect x="416.85" y="136.79" width="28.55" height="6.06" fill="#8cc1dc"/>
<rect x="445.4" y="136.79" width="28.55" height="6.06" fill="#8cc1dc"/>
<rect x="473.95" y="136.79" width="28.55" height="6.06" fill="#8cc1dc"/>
<rect x="274.1" y="142.84" width="28.55" height="6.06" fill="#2c67a9"/>
<rect x="302.65" y="142.84" width="28.55" height="6.06" fill="#8cc1dc"/>
<rect x="331.2" y="142.84" width="28.55" height="6.06" fill="#2c67a9"/>
<rect x="359.75" y="142.84" width="28.55" height="6.06" fill="#2c67a9"/>
<rect x="388.3" y="142.84" width="28.55" height="6.06" fill="#2c67a9"/>
<rect x="416.85" y="142.84" width="28.55" height="6.06" fill="#2c67a9"/>
<rect x="445.4" y="142.84" width="28.55" height="6.06" fill="#467db8"/>
<rect x="473.95" y="142.84" width="28.55" height="6.06" fill="#467db8"/>
<rect x="274.1" y="148.9" width="28.55" height="6.06" fill="#d2e5ef"/>
<rect x="302.65" y="148.9" width="28.55" height="6.06" fill="#d2e5ef"/>
<rect x="331.2" y="148.9" width="28.55" height="6.06" fill="#d2e5ef"/>
<rect x="359.75" y="148.9" width="28.55" height="6.06" fill="#d2e5ef"/>
<rect x="388.3" y="148.9" width="28.55" height="6.06" fill="#d2e5ef"/>
<rect x="416.85" y="148.9" width="28.55" height="6.06" fill="#d2e5ef"/>
<rect x="445.4" y="148.9" width="28.55" height="6.06" fill="#d2e5ef"/>
<rect x="473.95" y="148.9" width="28.55" height="6.06" fill="#d2e5ef"/>
<rect x="274.1" y="154.95" width="28.55" height="6.06" fill="#467db8"/>
<rect x="302.65" y="154.95" width="28.55" height="6.06" fill="#6499c7"/>
<rect x="331.2" y="154.95" width="28.55" height="6.06" fill="#467db8"/>
<rect x="359.75" y="154.95" width="28.55" height="6.06" fill="#467db8"/>
<rect x="388.3" y="154.95" width="28.55" height="6.06" fill="#467db8"/>
<rect x="416.85" y="154.95" width="28.55" height="6.06" fill="#467db8"/>
<rect x="445.4" y="154.95" width="28.55" height="6.06" fill="#467db8"/>
<rect x="473.95" y="154.95" width="28.55" height="6.06" fill="#467db8"/>
<rect x="274.1" y="161.01" width="28.55" height="6.06" fill="#8cc1dc"/>
<rect x="302.65" y="161.01" width="28.55" height="6.06" fill="#8cc1dc"/>
<rect x="331.2" y="161.01" width="28.55" height="6.06" fill="#8cc1dc"/>
<rect x="359.75" y="161.01" width="28.55" height="6.06" fill="#8cc1dc"/>
<rect x="388.3" y="161.01" width="28.55" height="6.06" fill="#8cc1dc"/>
<rect x="416.85" y="161.01" width="28.55" height="6.06" fill="#8cc1dc"/>
<rect x="445.4" y="161.01" width="28.55" height="6.06" fill="#467db8"/>
<rect x="473.95" y="161.01" width="28.55" height="6.06" fill="#8cc1dc"/>
<rect x="274.1" y="167.07" width="28.55" height="6.06" fill="#a1cde2"/>
<rect x="302.65" y="167.07" width="28.55" height="6.06" fill="#a1cde2"/>
<rect x="331.2" y="167.07" width="28.55" height="6.06" fill="#a1cde2"/>
<rect x="359.75" y="167.07" width="28.55" height="6.06" fill="#a1cde2"/>
<rect x="388.3" y="167.07" width="28.55" height="6.06" fill="#a1cde2"/>
<rect x="416.85" y="167.07" width="28.55" height="6.06" fill="#a1cde2"/>
<rect x="445.4" y="167.07" width="28.55" height="6.06" fill="#a1cde2"/>
<rect x="473.95" y="167.07" width="28.55" height="6.06" fill="#a1cde2"/>
<rect x="274.1" y="173.12" width="28.55" height="6.06" fill="#8cc1dc"/>
<rect x="302.65" y="173.12" width="28.55" height="6.06" fill="#a1cde2"/>
<rect x="331.2" y="173.12" width="28.55" height="6.06" fill="#8cc1dc"/>
<rect x="359.75" y="173.12" width="28.55" height="6.06" fill="#8cc1dc"/>
<rect x="388.3" y="173.12" width="28.55" height="6.06" fill="#8cc1dc"/>
<rect x="416.85" y="173.12" width="28.55" height="6.06" fill="#8cc1dc"/>
<rect x="445.4" y="173.12" width="28.55" height="6.06" fill="#8cc1dc"/>
<rect x="473.95" y="173.12" width="28.55" height="6.06" fill="#8cc1dc"/>
<rect x="274.1" y="179.18" width="28.55" height="6.06" fill="#d2e5ef"/>
<rect x="302.65" y="179.18" width="28.55" height="6.06" fill="#b8d9e9"/>
<rect x="331.2" y="179.18" width="28.55" height="6.06" fill="#d2e5ef"/>
<rect x="359.75" y="179.18" width="28.55" height="6.06" fill="#d2e5ef"/>
<rect x="388.3" y="179.18" width="28.55" height="6.06" fill="#d2e5ef"/>
<rect x="416.85" y="179.18" width="28.55" height="6.06" fill="#d2e5ef"/>
<rect x="445.4" y="179.18" width="28.55" height="6.06" fill="#d2e5ef"/>
<rect x="473.95" y="179.18" width="28.55" height="6.06" fill="#d2e5ef"/>
<rect x="274.1" y="185.23" width="28.55" height="6.06" fill="#d87b7c"/>
<rect x="302.65" y="185.23" width="28.55" height="6.06" fill="#eff2f4"/>
<rect x="331.2" y="185.23" width="28.55" height="6.06" fill="#eaaaa9"/>
<rect x="359.75" y="185.23" width="28.55" height="6.06" fill="#e19394"/>
<rect x="388.3" y="185.23" width="28.55" height="6.06" fill="#e19394"/>
<rect x="416.85" y="185.23" width="28.55" height="6.06" fill="#e19394"/>
<rect x="445.4" y="185.23" width="28.55" height="6.06" fill="#e19394"/>
<rect x="473.95" y="185.23" width="28.55" height="6.06" fill="#eaaaa9"/>
<rect x="274.1" y="191.29" width="28.55" height="6.06" fill="#d2e5ef"/>
<rect x="302.65" y="191.29" width="28.55" height="6.06" fill="#a1cde2"/>
<rect x="331.2" y="191.29" width="28.55" height="6.06" fill="#b8d9e9"/>
<rect x="359.75" y="191.29" width="28.55" height="6.06" fill="#b8d9e9"/>
<rect x="388.3" y="191.29" width="28.55" height="6.06" fill="#b8d9e9"/>
<rect x="416.85" y="191.29" width="28.55" height="6.06" fill="#b8d9e9"/>
<rect x="445.4" y="191.29" width="28.55" height="6.06" fill="#b8d9e9"/>
<rect x="473.95" y="191.29" width="28.55" height="6.06" fill="#b8d9e9"/>
<rect x="274.1" y="197.35" width="28.55" height="6.06" fill="#467db8"/>
<rect x="302.65" y="197.35" width="28.55" height="6.06" fill="#8cc1dc"/>
<rect x="331.2" y="197.35" width="28.55" height="6.06" fill="#467db8"/>
<rect x="359.75" y="197.35" width="28.55" height="6.06" fill="#467db8"/>
<rect x="388.3" y="197.35" width="28.55" height="6.06" fill="#467db8"/>
<rect x="416.85" y="197.35" width="28.55" height="6.06" fill="#467db8"/>
<rect x="445.4" y="197.35" width="28.55" height="6.06" fill="#467db8"/>
<rect x="473.95" y="197.35" width="28.55" height="6.06" fill="#467db8"/>
<rect x="274.1" y="203.4" width="28.55" height="6.06" fill="#8cc1dc"/>
<rect x="302.65" y="203.4" width="28.55" height="6.06" fill="#8cc1dc"/>
<rect x="331.2" y="203.4" width="28.55" height="6.06" fill="#7bb0d3"/>
<rect x="359.75" y="203.4" width="28.55" height="6.06" fill="#8cc1dc"/>
<rect x="388.3" y="203.4" width="28.55" height="6.06" fill="#7bb0d3"/>
<rect x="416.85" y="203.4" width="28.55" height="6.06" fill="#7bb0d3"/>
<rect x="445.4" y="203.4" width="28.55" height="6.06" fill="#8cc1dc"/>
<rect x="473.95" y="203.4" width="28.55" height="6.06" fill="#8cc1dc"/>
<rect x="274.1" y="209.46" width="28.55" height="6.06" fill="#2c67a9"/>
<rect x="302.65" y="209.46" width="28.55" height="6.06" fill="#8cc1dc"/>
<rect x="331.2" y="209.46" width="28.55" height="6.06" fill="#2c67a9"/>
<rect x="359.75" y="209.46" width="28.55" height="6.06" fill="#2c67a9"/>
<rect x="388.3" y="209.46" width="28.55" height="6.06" fill="#2c67a9"/>
<rect x="416.85" y="209.46" width="28.55" height="6.06" fill="#2c67a9"/>
<rect x="445.4" y="209.46" width="28.55" height="6.06" fill="#2c67a9"/>
<rect x="473.95" y="209.46" width="28.55" height="6.06" fill="#2c67a9"/>
<rect x="274.1" y="215.51" width="28.55" height="6.06" fill="#8cc1dc"/>
<rect x="302.65" y="215.51" width="28.55" height="6.06" fill="#8cc1dc"/>
<rect x="331.2" y="215.51" width="28.55" height="6.06" fill="#a1cde2"/>
<rect x="359.75" y="215.51" width="28.55" height="6.06" fill="#8cc1dc"/>
<rect x="388.3" y="215.51" width="28.55" height="6.06" fill="#8cc1dc"/>
<rect x="416.85" y="215.51" width="28.55" height="6.06" fill="#8cc1dc"/>
<rect x="445.4" y="215.51" width="28.55" height="6.06" fill="#8cc1dc"/>
<rect x="473.95" y="215.51" width="28.55" height="6.06" fill="#a1cde2"/>
<rect x="274.1" y="221.57" width="28.55" height="6.06" fill="#6499c7"/>
<rect x="302.65" y="221.57" width="28.55" height="6.06" fill="#8cc1dc"/>
<rect x="331.2" y="221.57" width="28.55" height="6.06" fill="#8cc1dc"/>
<rect x="359.75" y="221.57" width="28.55" height="6.06" fill="#7bb0d3"/>
<rect x="388.3" y="221.57" width="28.55" height="6.06" fill="#6499c7"/>
<rect x="416.85" y="221.57" width="28.55" height="6.06" fill="#7bb0d3"/>
<rect x="445.4" y="221.57" width="28.55" height="6.06" fill="#6499c7"/>
<rect x="473.95" y="221.57" width="28.55" height="6.06" fill="#7bb0d3"/>
<rect x="274.1" y="227.63" width="28.55" height="6.06" fill="#467db8"/>
<rect x="302.65" y="227.63" width="28.55" height="6.06" fill="#7bb0d3"/>
<rect x="331.2" y="227.63" width="28.55" height="6.06" fill="#467db8"/>
<rect x="359.75" y="227.63" width="28.55" height="6.06" fill="#467db8"/>
<rect x="388.3" y="227.63" width="28.55" height="6.06" fill="#467db8"/>
<rect x="416.85" y="227.63" width="28.55" height="6.06" fill="#467db8"/>
<rect x="445.4" y="227.63" width="28.55" height="6.06" fill="#467db8"/>
<rect x="473.95" y="227.63" width="28.55" height="6.06" fill="#6499c7"/>
<rect x="274.1" y="233.68" width="28.55" height="6.06" fill="#8cc1dc"/>
<rect x="302.65" y="233.68" width="28.55" height="6.06" fill="#8cc1dc"/>
<rect x="331.2" y="233.68" width="28.55" height="6.06" fill="#7bb0d3"/>
<rect x="359.75" y="233.68" width="28.55" height="6.06" fill="#8cc1dc"/>
<rect x="388.3" y="233.68" width="28.55" height="6.06" fill="#7bb0d3"/>
<rect x="416.85" y="233.68" width="28.55" height="6.06" fill="#8cc1dc"/>
<rect x="445.4" y="233.68" width="28.55" height="6.06" fill="#7bb0d3"/>
<rect x="473.95" y="233.68" width="28.55" height="6.06" fill="#8cc1dc"/>
<rect x="274.1" y="239.74" width="28.55" height="6.06" fill="#8cc1dc"/>
<rect x="302.65" y="239.74" width="28.55" height="6.06" fill="#8cc1dc"/>
<rect x="331.2" y="239.74" width="28.55" height="6.06" fill="#8cc1dc"/>
<rect x="359.75" y="239.74" width="28.55" height="6.06" fill="#8cc1dc"/>
<rect x="388.3" y="239.74" width="28.55" height="6.06" fill="#8cc1dc"/>
<rect x="416.85" y="239.74" width="28.55" height="6.06" fill="#a1cde2"/>
<rect x="445.4" y="239.74" width="28.55" height="6.06" fill="#8cc1dc"/>
<rect x="473.95" y="239.74" width="28.55" height="6.06" fill="#b8d9e9"/>
<rect x="274.1" y="245.79" width="28.55" height="6.06" fill="#8cc1dc"/>
<rect x="302.65" y="245.79" width="28.55" height="6.06" fill="#7bb0d3"/>
<rect x="331.2" y="245.79" width="28.55" height="6.06" fill="#8cc1dc"/>
<rect x="359.75" y="245.79" width="28.55" height="6.06" fill="#8cc1dc"/>
<rect x="388.3" y="245.79" width="28.55" height="6.06" fill="#8cc1dc"/>
<rect x="416.85" y="245.79" width="28.55" height="6.06" fill="#8cc1dc"/>
<rect x="445.4" y="245.79" width="28.55" height="6.06" fill="#8cc1dc"/>
<rect x="473.95" y="245.79" width="28.55" height="6.06" fill="#8cc1dc"/>
<rect x="274.1" y="251.85" width="28.55" height="6.06" fill="#2c67a9"/>
<rect x="302.65" y="251.85" width="28.55" height="6.06" fill="#8cc1dc"/>
<rect x="331.2" y="251.85" width="28.55" height="6.06" fill="#2c67a9"/>
<rect x="359.75" y="251.85" width="28.55" height="6.06" fill="#2c67a9"/>
<rect x="388.3" y="251.85" width="28.55" height="6.06" fill="#2c67a9"/>
<rect x="416.85" y="251.85" width="28.55" height="6.06" fill="#2c67a9"/>
<rect x="445.4" y="251.85" width="28.55" height="6.06" fill="#2c67a9"/>
<rect x="473.95" y="251.85" width="28.55" height="6.06" fill="#2c67a9"/>
<rect x="274.1" y="257.91" width="28.55" height="6.06" fill="#467db8"/>
<rect x="302.65" y="257.91" width="28.55" height="6.06" fill="#7bb0d3"/>
<rect x="331.2" y="257.91" width="28.55" height="6.06" fill="#467db8"/>
<rect x="359.75" y="257.91" width="28.55" height="6.06" fill="#467db8"/>
<rect x="388.3" y="257.91" width="28.55" height="6.06" fill="#467db8"/>
<rect x="416.85" y="257.91" width="28.55" height="6.06" fill="#467db8"/>
<rect x="445.4" y="257.91" width="28.55" height="6.06" fill="#467db8"/>
<rect x="473.95" y="257.91" width="28.55" height="6.06" fill="#467db8"/>
<rect x="274.1" y="263.96" width="28.55" height="6.06" fill="#2c67a9"/>
<rect x="302.65" y="263.96" width="28.55" height="6.06" fill="#7bb0d3"/>
<rect x="331.2" y="263.96" width="28.55" height="6.06" fill="#2c67a9"/>
<rect x="359.75" y="263.96" width="28.55" height="6.06" fill="#2c67a9"/>
<rect x="388.3" y="263.96" width="28.55" height="6.06" fill="#2c67a9"/>
<rect x="416.85" y="263.96" width="28.55" height="6.06" fill="#2c67a9"/>
<rect x="445.4" y="263.96" width="28.55" height="6.06" fill="#2c67a9"/>
<rect x="473.95" y="263.96" width="28.55" height="6.06" fill="#2c67a9"/>
<rect x="274.1" y="270.02" width="28.55" height="6.06" fill="#2c67a9"/>
<rect x="302.65" y="270.02" width="28.55" height="6.06" fill="#8cc1dc"/>
<rect x="331.2" y="270.02" width="28.55" height="6.06" fill="#2c67a9"/>
<rect x="359.75" y="270.02" width="28.55" height="6.06" fill="#2c67a9"/>
<rect x="388.3" y="270.02" width="28.55" height="6.06" fill="#2c67a9"/>
<rect x="416.85" y="270.02" width="28.55" height="6.06" fill="#2c67a9"/>
<rect x="445.4" y="270.02" width="28.55" height="6.06" fill="#2c67a9"/>
<rect x="473.95" y="270.02" width="28.55" height="6.06" fill="#2c67a9"/>
<rect x="274.1" y="308.6" width="28.55" height="6.06" fill="#8cc1dc"/>
<rect x="274.1" y="314.66" width="28.55" height="6.06" fill="#eff2f4"/>
<rect x="274.1" y="320.71" width="28.55" height="6.06" fill="#eff2f4"/>
<rect x="274.1" y="326.77" width="28.55" height="6.06" fill="#b8d9e9"/>
<rect x="274.1" y="332.82" width="28.55" height="6.06" fill="#8cc1dc"/>
<rect x="274.1" y="338.88" width="28.55" height="6.06" fill="#6499c7"/>
<rect x="274.1" y="344.94" width="28.55" height="6.06" fill="#6499c7"/>
<rect x="274.1" y="350.99" width="28.55" height="6.06" fill="#2c67a9"/>
<rect x="302.65" y="308.6" width="28.55" height="6.06" fill="#467db8"/>
<rect x="302.65" y="314.66" width="28.55" height="6.06" fill="#eff2f4"/>
<rect x="302.65" y="320.71" width="28.55" height="6.06" fill="#f5d8d5"/>
<rect x="302.65" y="326.77" width="28.55" height="6.06" fill="#b8d9e9"/>
<rect x="302.65" y="332.82" width="28.55" height="6.06" fill="#a1cde2"/>
<rect x="302.65" y="338.88" width="28.55" height="6.06" fill="#b8d9e9"/>
<rect x="302.65" y="344.94" width="28.55" height="6.06" fill="#b8d9e9"/>
<rect x="302.65" y="350.99" width="28.55" height="6.06" fill="#d2e5ef"/>
<rect x="302.65" y="357.05" width="28.55" height="6.06" fill="#c6545b"/>
<rect x="331.2" y="308.6" width="28.55" height="6.06" fill="#6499c7"/>
<rect x="331.2" y="314.66" width="28.55" height="6.06" fill="#eaaaa9"/>
<rect x="331.2" y="320.71" width="28.55" height="6.06" fill="#eaaaa9"/>
<rect x="331.2" y="326.77" width="28.55" height="6.06" fill="#b8d9e9"/>
<rect x="331.2" y="332.82" width="28.55" height="6.06" fill="#a1cde2"/>
<rect x="331.2" y="338.88" width="28.55" height="6.06" fill="#a1cde2"/>
<rect x="331.2" y="344.94" width="28.55" height="6.06" fill="#a1cde2"/>
<rect x="331.2" y="350.99" width="28.55" height="6.06" fill="#8cc1dc"/>
<rect x="331.2" y="357.05" width="28.55" height="6.06" fill="#6499c7"/>
<rect x="331.2" y="363.1" width="28.55" height="6.06" fill="#2c67a9"/>
<rect x="359.75" y="308.6" width="28.55" height="6.06" fill="#467db8"/>
<rect x="359.75" y="314.66" width="28.55" height="6.06" fill="#f5d8d5"/>
<rect x="359.75" y="320.71" width="28.55" height="6.06" fill="#f5d8d5"/>
<rect x="359.75" y="326.77" width="28.55" height="6.06" fill="#b8d9e9"/>
<rect x="359.75" y="332.82" width="28.55" height="6.06" fill="#b8d9e9"/>
<rect x="359.75" y="338.88" width="28.55" height="6.06" fill="#a1cde2"/>
<rect x="359.75" y="344.94" width="28.55" height="6.06" fill="#a1cde2"/>
<rect x="359.75" y="350.99" width="28.55" height="6.06" fill="#a1cde2"/>
<rect x="359.75" y="357.05" width="28.55" height="6.06" fill="#a1cde2"/>
<rect x="359.75" y="363.1" width="28.55" height="6.06" fill="#467db8"/>
<rect x="359.75" y="369.16" width="28.55" height="6.06" fill="#467db8"/>
<rect x="388.3" y="308.6" width="28.55" height="6.06" fill="#467db8"/>
<rect x="388.3" y="314.66" width="28.55" height="6.06" fill="#eff2f4"/>
<rect x="388.3" y="320.71" width="28.55" height="6.06" fill="#eaaaa9"/>
<rect x="388.3" y="326.77" width="28.55" height="6.06" fill="#d2e5ef"/>
<rect x="388.3" y="332.82" width="28.55" height="6.06" fill="#a1cde2"/>
<rect x="388.3" y="338.88" width="28.55" height="6.06" fill="#8cc1dc"/>
<rect x="388.3" y="344.94" width="28.55" height="6.06" fill="#8cc1dc"/>
<rect x="388.3" y="350.99" width="28.55" height="6.06" fill="#8cc1dc"/>
<rect x="388.3" y="357.05" width="28.55" height="6.06" fill="#8cc1dc"/>
<rect x="388.3" y="363.1" width="28.55" height="6.06" fill="#8cc1dc"/>
<rect x="388.3" y="369.16" width="28.55" height="6.06" fill="#467db8"/>
<rect x="388.3" y="375.22" width="28.55" height="6.06" fill="#2c67a9"/>
<rect x="416.85" y="308.6" width="28.55" height="6.06" fill="#2c67a9"/>
<rect x="416.85" y="314.66" width="28.55" height="6.06" fill="#eff2f4"/>
<rect x="416.85" y="320.71" width="28.55" height="6.06" fill="#eaaaa9"/>
<rect x="416.85" y="326.77" width="28.55" height="6.06" fill="#d2e5ef"/>
<rect x="416.85" y="332.82" width="28.55" height="6.06" fill="#b8d9e9"/>
<rect x="416.85" y="338.88" width="28.55" height="6.06" fill="#8cc1dc"/>
<rect x="416.85" y="344.94" width="28.55" height="6.06" fill="#8cc1dc"/>
<rect x="416.85" y="350.99" width="28.55" height="6.06" fill="#8cc1dc"/>
<rect x="416.85" y="357.05" width="28.55" height="6.06" fill="#8cc1dc"/>
<rect x="416.85" y="363.1" width="28.55" height="6.06" fill="#8cc1dc"/>
<rect x="416.85" y="369.16" width="28.55" height="6.06" fill="#467db8"/>
<rect x="416.85" y="375.22" width="28.55" height="6.06" fill="#467db8"/>
<rect x="416.85" y="381.27" width="28.55" height="6.06" fill="#2c67a9"/>
<rect x="445.4" y="308.6" width="28.55" height="6.06" fill="#6499c7"/>
<rect x="445.4" y="314.66" width="28.55" height="6.06" fill="#eff2f4"/>
<rect x="445.4" y="320.71" width="28.55" height="6.06" fill="#f5d8d5"/>
<rect x="445.4" y="326.77" width="28.55" height="6.06" fill="#a1cde2"/>
<rect x="445.4" y="332.82" width="28.55" height="6.06" fill="#8cc1dc"/>
<rect x="445.4" y="338.88" width="28.55" height="6.06" fill="#7bb0d3"/>
<rect x="445.4" y="344.94" width="28.55" height="6.06" fill="#8cc1dc"/>
<rect x="445.4" y="350.99" width="28.55" height="6.06" fill="#8cc1dc"/>
<rect x="445.4" y="357.05" width="28.55" height="6.06" fill="#8cc1dc"/>
<rect x="445.4" y="363.1" width="28.55" height="6.06" fill="#8cc1dc"/>
<rect x="445.4" y="369.16" width="28.55" height="6.06" fill="#7bb0d3"/>
<rect x="445.4" y="375.22" width="28.55" height="6.06" fill="#2c67a9"/>
<rect x="445.4" y="381.27" width="28.55" height="6.06" fill="#2c67a9"/>
<rect x="445.4" y="387.33" width="28.55" height="6.06" fill="#2c67a9"/>
<rect x="473.95" y="308.6" width="28.55" height="6.06" fill="#467db8"/>
<rect x="473.95" y="314.66" width="28.55" height="6.06" fill="#eff2f4"/>
<rect x="473.95" y="320.71" width="28.55" height="6.06" fill="#eaaaa9"/>
<rect x="473.95" y="326.77" width="28.55" height="6.06" fill="#8cc1dc"/>
<rect x="473.95" y="332.82" width="28.55" height="6.06" fill="#8cc1dc"/>
<rect x="473.95" y="338.88" width="28.55" height="6.06" fill="#8cc1dc"/>
<rect x="473.95" y="344.94" width="28.55" height="6.06" fill="#a1cde2"/>
<rect x="473.95" y="350.99" width="28.55" height="6.06" fill="#a1cde2"/>
<rect x="473.95" y="357.05" width="28.55" height="6.06" fill="#a1cde2"/>
<rect x="473.95" y="363.1" width="28.55" height="6.06" fill="#8cc1dc"/>
<rect x="473.95" y="369.16" width="28.55" height="6.06" fill="#b8d9e9"/>
<rect x="473.95" y="375.22" width="28.55" height="6.06" fill="#a1cde2"/>
<rect x="473.95" y="381.27" width="28.55" height="6.06" fill="#467db8"/>
<rect x="473.95" y="387.33" width="28.55" height="6.06" fill="#6499c7"/>
<rect x="473.95" y="393.38" width="28.55" height="6.06" fill="#2c67a9"/>
</g>
<g stroke="#000" stroke-width="2" fill="none">
<path d="M508.6 96.4 H535.2"/>
<path d="M508.6 126.94 H535.2"/>
<path d="M508.6 157.48 H535.2"/>
<path d="M508.6 188.02 H535.2"/>
<path d="M508.6 218.56 H535.2"/>
<path d="M508.6 249.1 H535.2"/>
<path d="M508.6 311.63 H518.2 L526.4 308.7 H535.5"/>
<path d="M508.6 335.85 H518.2 L526.4 334.3 H535.5"/>
<path d="M508.6 366.13 H518.2 L526.4 360.3 H535.5"/>
<path d="M508.6 396.41 H518.2 L526.4 386.8 H535.5"/>
</g>
<g font-size="25" >
<text x="540.9" y="105.8" textLength="15" lengthAdjust="spacingAndGlyphs">5</text>
<text x="540.9" y="136.34" textLength="30" lengthAdjust="spacingAndGlyphs">10</text>
<text x="540.9" y="166.88" textLength="30" lengthAdjust="spacingAndGlyphs">15</text>
<text x="540.9" y="197.42" textLength="30" lengthAdjust="spacingAndGlyphs">20</text>
<text x="540.9" y="227.96" textLength="30" lengthAdjust="spacingAndGlyphs">25</text>
<text x="540.9" y="258.5" textLength="30" lengthAdjust="spacingAndGlyphs">30</text>
<text x="540.9" y="318.1" textLength="15" lengthAdjust="spacingAndGlyphs">1</text>
<text x="540.9" y="343.7" textLength="15" lengthAdjust="spacingAndGlyphs">5</text>
<text x="540.9" y="369.7" textLength="30" lengthAdjust="spacingAndGlyphs">10</text>
<text x="540.9" y="396.2" textLength="30" lengthAdjust="spacingAndGlyphs">15</text>
</g>
<g font-size="25" text-anchor="end" >
<text transform="translate(61.71,419.2) scale(1.08,1) rotate(-45)">8</text>
<text transform="translate(90.32,419.2) scale(1.08,1) rotate(-45)">9</text>
<text transform="translate(118.93,419.2) scale(1.08,1) rotate(-45)">10</text>
<text transform="translate(147.54,419.2) scale(1.08,1) rotate(-45)">11</text>
<text transform="translate(176.16,419.2) scale(1.08,1) rotate(-45)">12</text>
<text transform="translate(204.77,419.2) scale(1.08,1) rotate(-45)">13</text>
<text transform="translate(233.38,419.2) scale(1.08,1) rotate(-45)">14</text>
<text transform="translate(261.99,419.2) scale(1.08,1) rotate(-45)">15</text>
<text transform="translate(294.77,419.2) scale(1.08,1) rotate(-45)">8</text>
<text transform="translate(323.32,419.2) scale(1.08,1) rotate(-45)">9</text>
<text transform="translate(351.88,419.2) scale(1.08,1) rotate(-45)">10</text>
<text transform="translate(380.42,419.2) scale(1.08,1) rotate(-45)">11</text>
<text transform="translate(408.98,419.2) scale(1.08,1) rotate(-45)">12</text>
<text transform="translate(437.52,419.2) scale(1.08,1) rotate(-45)">13</text>
<text transform="translate(466.07,419.2) scale(1.08,1) rotate(-45)">14</text>
<text transform="translate(494.62,419.2) scale(1.08,1) rotate(-45)">15</text>
</g>
<text x="597.5" y="185.6" font-size="23" font-weight="bold" >Att</text>
<rect x="597.4" y="196.3" width="25.5" height="78.3" fill="url(#lg)"/>
<rect x="597.4" y="196.3" width="25.5" height="76.5" fill="none" stroke="#000" stroke-width="2.2"/>
<g stroke="#000" stroke-width="1.7">
<path d="M598 198.7 h5.3 M617 198.7 H640"/>
<path d="M598 252.2 h5.3 M617 252.2 H640"/>
<path d="M598 269.8 h5.3 M617 269.8 H640"/>
</g>
</g>
</g>
<g transform="translate(4.4,478.5)">
<text x="271.4" y="27.3" font-size="31" textLength="100" text-anchor="middle" >HLA−B</text>
<rect x="41" y="43.5" width="229" height="19.5" fill="#a82838" stroke="#000" stroke-width="2"/>
<rect x="274" y="43.5" width="229" height="19.5" fill="#2f6ba8" stroke="#000" stroke-width="2"/>
<text x="156.8" y="60.2" font-size="18" fill="#fff" text-anchor="middle" >Head 0</text>
<text x="389.3" y="60.2" font-size="18" fill="#fff" text-anchor="middle" >Head 1</text>
<g transform="translate(0,-1.1)">
<text transform="translate(25.4,172.8) rotate(-90) scale(1,1.05)" font-size="31.7" text-anchor="middle" >MHC Seq</text>
<text transform="translate(25.1,354.2) rotate(-90) scale(1,1.04)" font-size="31.5" text-anchor="middle" >Pep Seq</text>
<g stroke="#b8b8b8" stroke-width="2">
<rect x="41" y="70.17" width="28.61" height="6.06" fill="#8cc1dc"/>
<rect x="69.61" y="70.17" width="28.61" height="6.06" fill="#8cc1dc"/>
<rect x="98.22" y="70.17" width="28.61" height="6.06" fill="#8cc1dc"/>
<rect x="126.84" y="70.17" width="28.61" height="6.06" fill="#8cc1dc"/>
<rect x="155.45" y="70.17" width="28.61" height="6.06" fill="#6499c7"/>
<rect x="184.06" y="70.17" width="28.61" height="6.06" fill="#8cc1dc"/>
<rect x="212.67" y="70.17" width="28.61" height="6.06" fill="#8cc1dc"/>
<rect x="241.29" y="70.17" width="28.61" height="6.06" fill="#8cc1dc"/>
<rect x="41" y="76.23" width="28.61" height="6.06" fill="#8cc1dc"/>
<rect x="69.61" y="76.23" width="28.61" height="6.06" fill="#8cc1dc"/>
<rect x="98.22" y="76.23" width="28.61" height="6.06" fill="#6499c7"/>
<rect x="126.84" y="76.23" width="28.61" height="6.06" fill="#6499c7"/>
<rect x="155.45" y="76.23" width="28.61" height="6.06" fill="#467db8"/>
<rect x="184.06" y="76.23" width="28.61" height="6.06" fill="#6499c7"/>
<rect x="212.67" y="76.23" width="28.61" height="6.06" fill="#6499c7"/>
<rect x="241.29" y="76.23" width="28.61" height="6.06" fill="#7bb0d3"/>
<rect x="41" y="82.28" width="28.61" height="6.06" fill="#2c67a9"/>
<rect x="69.61" y="82.28" width="28.61" height="6.06" fill="#2c67a9"/>
<rect x="98.22" y="82.28" width="28.61" height="6.06" fill="#2c67a9"/>
<rect x="126.84" y="82.28" width="28.61" height="6.06" fill="#2c67a9"/>
<rect x="155.45" y="82.28" width="28.61" height="6.06" fill="#2c67a9"/>
<rect x="184.06" y="82.28" width="28.61" height="6.06" fill="#2c67a9"/>
<rect x="212.67" y="82.28" width="28.61" height="6.06" fill="#2c67a9"/>
<rect x="241.29" y="82.28" width="28.61" height="6.06" fill="#2c67a9"/>
<rect x="41" y="88.34" width="28.61" height="6.06" fill="#8cc1dc"/>
<rect x="69.61" y="88.34" width="28.61" height="6.06" fill="#a1cde2"/>
<rect x="98.22" y="88.34" width="28.61" height="6.06" fill="#8cc1dc"/>
<rect x="126.84" y="88.34" width="28.61" height="6.06" fill="#8cc1dc"/>
<rect x="155.45" y="88.34" width="28.61" height="6.06" fill="#467db8"/>
<rect x="184.06" y="88.34" width="28.61" height="6.06" fill="#467db8"/>
<rect x="212.67" y="88.34" width="28.61" height="6.06" fill="#7bb0d3"/>
<rect x="241.29" y="88.34" width="28.61" height="6.06" fill="#2c67a9"/>
<rect x="41" y="94.39" width="28.61" height="6.06" fill="#8cc1dc"/>
<rect x="69.61" y="94.39" width="28.61" height="6.06" fill="#a1cde2"/>
<rect x="98.22" y="94.39" width="28.61" height="6.06" fill="#8cc1dc"/>
<rect x="126.84" y="94.39" width="28.61" height="6.06" fill="#8cc1dc"/>
<rect x="155.45" y="94.39" width="28.61" height="6.06" fill="#6499c7"/>
<rect x="184.06" y="94.39" width="28.61" height="6.06" fill="#6499c7"/>
<rect x="212.67" y="94.39" width="28.61" height="6.06" fill="#8cc1dc"/>
<rect x="241.29" y="94.39" width="28.61" height="6.06" fill="#6499c7"/>
<rect x="41" y="100.45" width="28.61" height="6.06" fill="#b8d9e9"/>
<rect x="69.61" y="100.45" width="28.61" height="6.06" fill="#a1cde2"/>
<rect x="98.22" y="100.45" width="28.61" height="6.06" fill="#a1cde2"/>
<rect x="126.84" y="100.45" width="28.61" height="6.06" fill="#a1cde2"/>
<rect x="155.45" y="100.45" width="28.61" height="6.06" fill="#8cc1dc"/>
<rect x="184.06" y="100.45" width="28.61" height="6.06" fill="#8cc1dc"/>
<rect x="212.67" y="100.45" width="28.61" height="6.06" fill="#8cc1dc"/>
<rect x="241.29" y="100.45" width="28.61" height="6.06" fill="#a1cde2"/>
<rect x="41" y="106.51" width="28.61" height="6.06" fill="#a1cde2"/>
<rect x="69.61" y="106.51" width="28.61" height="6.06" fill="#a1cde2"/>
<rect x="98.22" y="106.51" width="28.61" height="6.06" fill="#a1cde2"/>
<rect x="126.84" y="106.51" width="28.61" height="6.06" fill="#a1cde2"/>
<rect x="155.45" y="106.51" width="28.61" height="6.06" fill="#8cc1dc"/>
<rect x="184.06" y="106.51" width="28.61" height="6.06" fill="#a1cde2"/>
<rect x="212.67" y="106.51" width="28.61" height="6.06" fill="#8cc1dc"/>
<rect x="241.29" y="106.51" width="28.61" height="6.06" fill="#a1cde2"/>
<rect x="41" y="112.56" width="28.61" height="6.06" fill="#a1cde2"/>
<rect x="69.61" y="112.56" width="28.61" height="6.06" fill="#a1cde2"/>
<rect x="98.22" y="112.56" width="28.61" height="6.06" fill="#8cc1dc"/>
<rect x="126.84" y="112.56" width="28.61" height="6.06" fill="#a1cde2"/>
<rect x="155.45" y="112.56" width="28.61" height="6.06" fill="#8cc1dc"/>
<rect x="184.06" y="112.56" width="28.61" height="6.06" fill="#a1cde2"/>
<rect x="212.67" y="112.56" width="28.61" height="6.06" fill="#8cc1dc"/>
<rect x="241.29" y="112.56" width="28.61" height="6.06" fill="#8cc1dc"/>
<rect x="41" y="118.62" width="28.61" height="6.06" fill="#a1cde2"/>
<rect x="69.61" y="118.62" width="28.61" height="6.06" fill="#b8d9e9"/>
<rect x="98.22" y="118.62" width="28.61" height="6.06" fill="#8cc1dc"/>
<rect x="126.84" y="118.62" width="28.61" height="6.06" fill="#a1cde2"/>
<rect x="155.45" y="118.62" width="28.61" height="6.06" fill="#8cc1dc"/>
<rect x="184.06" y="118.62" width="28.61" height="6.06" fill="#8cc1dc"/>
<rect x="212.67" y="118.62" width="28.61" height="6.06" fill="#8cc1dc"/>
<rect x="241.29" y="118.62" width="28.61" height="6.06" fill="#8cc1dc"/>
<rect x="41" y="124.67" width="28.61" height="6.06" fill="#a1cde2"/>
<rect x="69.61" y="124.67" width="28.61" height="6.06" fill="#a1cde2"/>
<rect x="98.22" y="124.67" width="28.61" height="6.06" fill="#b8d9e9"/>
<rect x="126.84" y="124.67" width="28.61" height="6.06" fill="#a1cde2"/>
<rect x="155.45" y="124.67" width="28.61" height="6.06" fill="#a1cde2"/>
<rect x="184.06" y="124.67" width="28.61" height="6.06" fill="#a1cde2"/>
<rect x="212.67" y="124.67" width="28.61" height="6.06" fill="#b8d9e9"/>
<rect x="241.29" y="124.67" width="28.61" height="6.06" fill="#b8d9e9"/>
<rect x="41" y="130.73" width="28.61" height="6.06" fill="#a1cde2"/>
<rect x="69.61" y="130.73" width="28.61" height="6.06" fill="#8cc1dc"/>
<rect x="98.22" y="130.73" width="28.61" height="6.06" fill="#a1cde2"/>
<rect x="126.84" y="130.73" width="28.61" height="6.06" fill="#a1cde2"/>
<rect x="155.45" y="130.73" width="28.61" height="6.06" fill="#8cc1dc"/>
<rect x="184.06" y="130.73" width="28.61" height="6.06" fill="#8cc1dc"/>
<rect x="212.67" y="130.73" width="28.61" height="6.06" fill="#a1cde2"/>
<rect x="241.29" y="130.73" width="28.61" height="6.06" fill="#8cc1dc"/>
<rect x="41" y="136.79" width="28.61" height="6.06" fill="#8cc1dc"/>
<rect x="69.61" y="136.79" width="28.61" height="6.06" fill="#8cc1dc"/>
<rect x="98.22" y="136.79" width="28.61" height="6.06" fill="#8cc1dc"/>
<rect x="126.84" y="136.79" width="28.61" height="6.06" fill="#8cc1dc"/>
<rect x="155.45" y="136.79" width="28.61" height="6.06" fill="#8cc1dc"/>
<rect x="184.06" y="136.79" width="28.61" height="6.06" fill="#8cc1dc"/>
<rect x="212.67" y="136.79" width="28.61" height="6.06" fill="#8cc1dc"/>
<rect x="241.29" y="136.79" width="28.61" height="6.06" fill="#8cc1dc"/>
<rect x="41" y="142.84" width="28.61" height="6.06" fill="#a1cde2"/>
<rect x="69.61" y="142.84" width="28.61" height="6.06" fill="#b8d9e9"/>
<rect x="98.22" y="142.84" width="28.61" height="6.06" fill="#a1cde2"/>
<rect x="126.84" y="142.84" width="28.61" height="6.06" fill="#a1cde2"/>
<rect x="155.45" y="142.84" width="28.61" height="6.06" fill="#a1cde2"/>
<rect x="184.06" y="142.84" width="28.61" height="6.06" fill="#8cc1dc"/>
<rect x="212.67" y="142.84" width="28.61" height="6.06" fill="#b8d9e9"/>
<rect x="241.29" y="142.84" width="28.61" height="6.06" fill="#a1cde2"/>
<rect x="41" y="148.9" width="28.61" height="6.06" fill="#a1cde2"/>
<rect x="69.61" y="148.9" width="28.61" height="6.06" fill="#b8d9e9"/>
<rect x="98.22" y="148.9" width="28.61" height="6.06" fill="#b8d9e9"/>
<rect x="126.84" y="148.9" width="28.61" height="6.06" fill="#b8d9e9"/>
<rect x="155.45" y="148.9" width="28.61" height="6.06" fill="#a1cde2"/>
<rect x="184.06" y="148.9" width="28.61" height="6.06" fill="#a1cde2"/>
<rect x="212.67" y="148.9" width="28.61" height="6.06" fill="#a1cde2"/>
<rect x="241.29" y="148.9" width="28.61" height="6.06" fill="#a1cde2"/>
<rect x="41" y="154.95" width="28.61" height="6.06" fill="#8cc1dc"/>
<rect x="69.61" y="154.95" width="28.61" height="6.06" fill="#8cc1dc"/>
<rect x="98.22" y="154.95" width="28.61" height="6.06" fill="#8cc1dc"/>
<rect x="126.84" y="154.95" width="28.61" height="6.06" fill="#8cc1dc"/>
<rect x="155.45" y="154.95" width="28.61" height="6.06" fill="#8cc1dc"/>
<rect x="184.06" y="154.95" width="28.61" height="6.06" fill="#8cc1dc"/>
<rect x="212.67" y="154.95" width="28.61" height="6.06" fill="#8cc1dc"/>
<rect x="241.29" y="154.95" width="28.61" height="6.06" fill="#8cc1dc"/>
<rect x="41" y="161.01" width="28.61" height="6.06" fill="#8cc1dc"/>
<rect x="69.61" y="161.01" width="28.61" height="6.06" fill="#8cc1dc"/>
<rect x="98.22" y="161.01" width="28.61" height="6.06" fill="#8cc1dc"/>
<rect x="126.84" y="161.01" width="28.61" height="6.06" fill="#8cc1dc"/>
<rect x="155.45" y="161.01" width="28.61" height="6.06" fill="#8cc1dc"/>
<rect x="184.06" y="161.01" width="28.61" height="6.06" fill="#8cc1dc"/>
<rect x="212.67" y="161.01" width="28.61" height="6.06" fill="#8cc1dc"/>
<rect x="241.29" y="161.01" width="28.61" height="6.06" fill="#8cc1dc"/>
<rect x="41" y="167.07" width="28.61" height="6.06" fill="#8cc1dc"/>
<rect x="69.61" y="167.07" width="28.61" height="6.06" fill="#8cc1dc"/>
<rect x="98.22" y="167.07" width="28.61" height="6.06" fill="#8cc1dc"/>
<rect x="126.84" y="167.07" width="28.61" height="6.06" fill="#7bb0d3"/>
<rect x="155.45" y="167.07" width="28.61" height="6.06" fill="#6499c7"/>
<rect x="184.06" y="167.07" width="28.61" height="6.06" fill="#7bb0d3"/>
<rect x="212.67" y="167.07" width="28.61" height="6.06" fill="#7bb0d3"/>
<rect x="241.29" y="167.07" width="28.61" height="6.06" fill="#6499c7"/>
<rect x="41" y="173.12" width="28.61" height="6.06" fill="#a1cde2"/>
<rect x="69.61" y="173.12" width="28.61" height="6.06" fill="#8cc1dc"/>
<rect x="98.22" y="173.12" width="28.61" height="6.06" fill="#8cc1dc"/>
<rect x="126.84" y="173.12" width="28.61" height="6.06" fill="#8cc1dc"/>
<rect x="155.45" y="173.12" width="28.61" height="6.06" fill="#8cc1dc"/>
<rect x="184.06" y="173.12" width="28.61" height="6.06" fill="#8cc1dc"/>
<rect x="212.67" y="173.12" width="28.61" height="6.06" fill="#8cc1dc"/>
<rect x="241.29" y="173.12" width="28.61" height="6.06" fill="#8cc1dc"/>
<rect x="41" y="179.18" width="28.61" height="6.06" fill="#8cc1dc"/>
<rect x="69.61" y="179.18" width="28.61" height="6.06" fill="#8cc1dc"/>
<rect x="98.22" y="179.18" width="28.61" height="6.06" fill="#7bb0d3"/>
<rect x="126.84" y="179.18" width="28.61" height="6.06" fill="#6499c7"/>
<rect x="155.45" y="179.18" width="28.61" height="6.06" fill="#6499c7"/>
<rect x="184.06" y="179.18" width="28.61" height="6.06" fill="#7bb0d3"/>
<rect x="212.67" y="179.18" width="28.61" height="6.06" fill="#8cc1dc"/>
<rect x="241.29" y="179.18" width="28.61" height="6.06" fill="#8cc1dc"/>
<rect x="41" y="185.23" width="28.61" height="6.06" fill="#d2e5ef"/>
<rect x="69.61" y="185.23" width="28.61" height="6.06" fill="#a1cde2"/>
<rect x="98.22" y="185.23" width="28.61" height="6.06" fill="#a1cde2"/>
<rect x="126.84" y="185.23" width="28.61" height="6.06" fill="#a1cde2"/>
<rect x="155.45" y="185.23" width="28.61" height="6.06" fill="#a1cde2"/>
<rect x="184.06" y="185.23" width="28.61" height="6.06" fill="#8cc1dc"/>
<rect x="212.67" y="185.23" width="28.61" height="6.06" fill="#8cc1dc"/>
<rect x="241.29" y="185.23" width="28.61" height="6.06" fill="#a1cde2"/>
<rect x="41" y="191.29" width="28.61" height="6.06" fill="#b8d9e9"/>
<rect x="69.61" y="191.29" width="28.61" height="6.06" fill="#d2e5ef"/>
<rect x="98.22" y="191.29" width="28.61" height="6.06" fill="#b8d9e9"/>
<rect x="126.84" y="191.29" width="28.61" height="6.06" fill="#b8d9e9"/>
<rect x="155.45" y="191.29" width="28.61" height="6.06" fill="#a1cde2"/>
<rect x="184.06" y="191.29" width="28.61" height="6.06" fill="#a1cde2"/>
<rect x="212.67" y="191.29" width="28.61" height="6.06" fill="#a1cde2"/>
<rect x="241.29" y="191.29" width="28.61" height="6.06" fill="#b8d9e9"/>
<rect x="41" y="197.35" width="28.61" height="6.06" fill="#a1cde2"/>
<rect x="69.61" y="197.35" width="28.61" height="6.06" fill="#a1cde2"/>
<rect x="98.22" y="197.35" width="28.61" height="6.06" fill="#8cc1dc"/>
<rect x="126.84" y="197.35" width="28.61" height="6.06" fill="#8cc1dc"/>
<rect x="155.45" y="197.35" width="28.61" height="6.06" fill="#8cc1dc"/>
<rect x="184.06" y="197.35" width="28.61" height="6.06" fill="#8cc1dc"/>
<rect x="212.67" y="197.35" width="28.61" height="6.06" fill="#a1cde2"/>
<rect x="241.29" y="197.35" width="28.61" height="6.06" fill="#8cc1dc"/>
<rect x="41" y="203.4" width="28.61" height="6.06" fill="#d2e5ef"/>
<rect x="69.61" y="203.4" width="28.61" height="6.06" fill="#d2e5ef"/>
<rect x="98.22" y="203.4" width="28.61" height="6.06" fill="#d2e5ef"/>
<rect x="126.84" y="203.4" width="28.61" height="6.06" fill="#b8d9e9"/>
<rect x="155.45" y="203.4" width="28.61" height="6.06" fill="#a1cde2"/>
<rect x="184.06" y="203.4" width="28.61" height="6.06" fill="#8cc1dc"/>
<rect x="212.67" y="203.4" width="28.61" height="6.06" fill="#d2e5ef"/>
<rect x="241.29" y="203.4" width="28.61" height="6.06" fill="#8cc1dc"/>
<rect x="41" y="209.46" width="28.61" height="6.06" fill="#d2e5ef"/>
<rect x="69.61" y="209.46" width="28.61" height="6.06" fill="#b8d9e9"/>
<rect x="98.22" y="209.46" width="28.61" height="6.06" fill="#d2e5ef"/>
<rect x="126.84" y="209.46" width="28.61" height="6.06" fill="#b8d9e9"/>
<rect x="155.45" y="209.46" width="28.61" height="6.06" fill="#a1cde2"/>
<rect x="184.06" y="209.46" width="28.61" height="6.06" fill="#a1cde2"/>
<rect x="212.67" y="209.46" width="28.61" height="6.06" fill="#b8d9e9"/>
<rect x="241.29" y="209.46" width="28.61" height="6.06" fill="#8cc1dc"/>
<rect x="41" y="215.51" width="28.61" height="6.06" fill="#a1cde2"/>
<rect x="69.61" y="215.51" width="28.61" height="6.06" fill="#a1cde2"/>
<rect x="98.22" y="215.51" width="28.61" height="6.06" fill="#8cc1dc"/>
<rect x="126.84" y="215.51" width="28.61" height="6.06" fill="#8cc1dc"/>
<rect x="155.45" y="215.51" width="28.61" height="6.06" fill="#8cc1dc"/>
<rect x="184.06" y="215.51" width="28.61" height="6.06" fill="#7bb0d3"/>
<rect x="212.67" y="215.51" width="28.61" height="6.06" fill="#7bb0d3"/>
<rect x="241.29" y="215.51" width="28.61" height="6.06" fill="#2c67a9"/>
<rect x="41" y="221.57" width="28.61" height="6.06" fill="#a1cde2"/>
<rect x="69.61" y="221.57" width="28.61" height="6.06" fill="#a1cde2"/>
<rect x="98.22" y="221.57" width="28.61" height="6.06" fill="#8cc1dc"/>
<rect x="126.84" y="221.57" width="28.61" height="6.06" fill="#a1cde2"/>
<rect x="155.45" y="221.57" width="28.61" height="6.06" fill="#8cc1dc"/>
<rect x="184.06" y="221.57" width="28.61" height="6.06" fill="#8cc1dc"/>
<rect x="212.67" y="221.57" width="28.61" height="6.06" fill="#a1cde2"/>
<rect x="241.29" y="221.57" width="28.61" height="6.06" fill="#a1cde2"/>
<rect x="41" y="227.63" width="28.61" height="6.06" fill="#8cc1dc"/>
<rect x="69.61" y="227.63" width="28.61" height="6.06" fill="#b8d9e9"/>
<rect x="98.22" y="227.63" width="28.61" height="6.06" fill="#8cc1dc"/>
<rect x="126.84" y="227.63" width="28.61" height="6.06" fill="#7bb0d3"/>
<rect x="155.45" y="227.63" width="28.61" height="6.06" fill="#7bb0d3"/>
<rect x="184.06" y="227.63" width="28.61" height="6.06" fill="#8cc1dc"/>
<rect x="212.67" y="227.63" width="28.61" height="6.06" fill="#8cc1dc"/>
<rect x="241.29" y="227.63" width="28.61" height="6.06" fill="#6499c7"/>
<rect x="41" y="233.68" width="28.61" height="6.06" fill="#a1cde2"/>
<rect x="69.61" y="233.68" width="28.61" height="6.06" fill="#a1cde2"/>
<rect x="98.22" y="233.68" width="28.61" height="6.06" fill="#a1cde2"/>
<rect x="126.84" y="233.68" width="28.61" height="6.06" fill="#8cc1dc"/>
<rect x="155.45" y="233.68" width="28.61" height="6.06" fill="#8cc1dc"/>
<rect x="184.06" y="233.68" width="28.61" height="6.06" fill="#8cc1dc"/>
<rect x="212.67" y="233.68" width="28.61" height="6.06" fill="#8cc1dc"/>
<rect x="241.29" y="233.68" width="28.61" height="6.06" fill="#8cc1dc"/>
<rect x="41" y="239.74" width="28.61" height="6.06" fill="#8cc1dc"/>
<rect x="69.61" y="239.74" width="28.61" height="6.06" fill="#a1cde2"/>
<rect x="98.22" y="239.74" width="28.61" height="6.06" fill="#8cc1dc"/>
<rect x="126.84" y="239.74" width="28.61" height="6.06" fill="#8cc1dc"/>
<rect x="155.45" y="239.74" width="28.61" height="6.06" fill="#8cc1dc"/>
<rect x="184.06" y="239.74" width="28.61" height="6.06" fill="#8cc1dc"/>
<rect x="212.67" y="239.74" width="28.61" height="6.06" fill="#8cc1dc"/>
<rect x="241.29" y="239.74" width="28.61" height="6.06" fill="#8cc1dc"/>
<rect x="41" y="245.79" width="28.61" height="6.06" fill="#8cc1dc"/>
<rect x="69.61" y="245.79" width="28.61" height="6.06" fill="#8cc1dc"/>
<rect x="98.22" y="245.79" width="28.61" height="6.06" fill="#8cc1dc"/>
<rect x="126.84" y="245.79" width="28.61" height="6.06" fill="#8cc1dc"/>
<rect x="155.45" y="245.79" width="28.61" height="6.06" fill="#8cc1dc"/>
<rect x="184.06" y="245.79" width="28.61" height="6.06" fill="#8cc1dc"/>
<rect x="212.67" y="245.79" width="28.61" height="6.06" fill="#8cc1dc"/>
<rect x="241.29" y="245.79" width="28.61" height="6.06" fill="#6499c7"/>
<rect x="41" y="251.85" width="28.61" height="6.06" fill="#d2e5ef"/>
<rect x="69.61" y="251.85" width="28.61" height="6.06" fill="#b8d9e9"/>
<rect x="98.22" y="251.85" width="28.61" height="6.06" fill="#b8d9e9"/>
<rect x="126.84" y="251.85" width="28.61" height="6.06" fill="#b8d9e9"/>
<rect x="155.45" y="251.85" width="28.61" height="6.06" fill="#b8d9e9"/>
<rect x="184.06" y="251.85" width="28.61" height="6.06" fill="#d2e5ef"/>
<rect x="212.67" y="251.85" width="28.61" height="6.06" fill="#d2e5ef"/>
<rect x="241.29" y="251.85" width="28.61" height="6.06" fill="#d2e5ef"/>
<rect x="41" y="257.91" width="28.61" height="6.06" fill="#a1cde2"/>
<rect x="69.61" y="257.91" width="28.61" height="6.06" fill="#a1cde2"/>
<rect x="98.22" y="257.91" width="28.61" height="6.06" fill="#a1cde2"/>
<rect x="126.84" y="257.91" width="28.61" height="6.06" fill="#a1cde2"/>
<rect x="155.45" y="257.91" width="28.61" height="6.06" fill="#a1cde2"/>
<rect x="184.06" y="257.91" width="28.61" height="6.06" fill="#8cc1dc"/>
<rect x="212.67" y="257.91" width="28.61" height="6.06" fill="#a1cde2"/>
<rect x="241.29" y="257.91" width="28.61" height="6.06" fill="#a1cde2"/>
<rect x="41" y="263.96" width="28.61" height="6.06" fill="#8cc1dc"/>
<rect x="69.61" y="263.96" width="28.61" height="6.06" fill="#a1cde2"/>
<rect x="98.22" y="263.96" width="28.61" height="6.06" fill="#8cc1dc"/>
<rect x="126.84" y="263.96" width="28.61" height="6.06" fill="#8cc1dc"/>
<rect x="155.45" y="263.96" width="28.61" height="6.06" fill="#a1cde2"/>
<rect x="184.06" y="263.96" width="28.61" height="6.06" fill="#8cc1dc"/>
<rect x="212.67" y="263.96" width="28.61" height="6.06" fill="#8cc1dc"/>
<rect x="241.29" y="263.96" width="28.61" height="6.06" fill="#8cc1dc"/>
<rect x="41" y="270.02" width="28.61" height="6.06" fill="#b8d9e9"/>
<rect x="69.61" y="270.02" width="28.61" height="6.06" fill="#b8d9e9"/>
<rect x="98.22" y="270.02" width="28.61" height="6.06" fill="#b8d9e9"/>
<rect x="126.84" y="270.02" width="28.61" height="6.06" fill="#d2e5ef"/>
<rect x="155.45" y="270.02" width="28.61" height="6.06" fill="#d2e5ef"/>
<rect x="184.06" y="270.02" width="28.61" height="6.06" fill="#d2e5ef"/>
<rect x="212.67" y="270.02" width="28.61" height="6.06" fill="#b8d9e9"/>
<rect x="241.29" y="270.02" width="28.61" height="6.06" fill="#b8d9e9"/>
<rect x="41" y="308.6" width="28.61" height="6.06" fill="#a1cde2"/>
<rect x="41" y="314.66" width="28.61" height="6.06" fill="#97c7df"/>
<rect x="41" y="320.71" width="28.61" height="6.06" fill="#97c7df"/>
<rect x="41" y="326.77" width="28.61" height="6.06" fill="#97c7df"/>
<rect x="41" y="332.82" width="28.61" height="6.06" fill="#a1cde2"/>
<rect x="41" y="338.88" width="28.61" height="6.06" fill="#b8d9e9"/>
<rect x="41" y="344.94" width="28.61" height="6.06" fill="#eff2f4"/>
<rect x="41" y="350.99" width="28.61" height="6.06" fill="#ab2939"/>
<rect x="69.61" y="308.6" width="28.61" height="6.06" fill="#a1cde2"/>
<rect x="69.61" y="314.66" width="28.61" height="6.06" fill="#97c7df"/>
<rect x="69.61" y="320.71" width="28.61" height="6.06" fill="#a1cde2"/>
<rect x="69.61" y="326.77" width="28.61" height="6.06" fill="#a1cde2"/>
<rect x="69.61" y="332.82" width="28.61" height="6.06" fill="#a1cde2"/>
<rect x="69.61" y="338.88" width="28.61" height="6.06" fill="#b8d9e9"/>
<rect x="69.61" y="344.94" width="28.61" height="6.06" fill="#d2e5ef"/>
<rect x="69.61" y="350.99" width="28.61" height="6.06" fill="#eff2f4"/>
<rect x="69.61" y="357.05" width="28.61" height="6.06" fill="#ab2939"/>
<rect x="98.22" y="308.6" width="28.61" height="6.06" fill="#a1cde2"/>
<rect x="98.22" y="314.66" width="28.61" height="6.06" fill="#97c7df"/>
<rect x="98.22" y="320.71" width="28.61" height="6.06" fill="#97c7df"/>
<rect x="98.22" y="326.77" width="28.61" height="6.06" fill="#97c7df"/>
<rect x="98.22" y="332.82" width="28.61" height="6.06" fill="#a1cde2"/>
<rect x="98.22" y="338.88" width="28.61" height="6.06" fill="#a1cde2"/>
<rect x="98.22" y="344.94" width="28.61" height="6.06" fill="#b8d9e9"/>
<rect x="98.22" y="350.99" width="28.61" height="6.06" fill="#d2e5ef"/>
<rect x="98.22" y="357.05" width="28.61" height="6.06" fill="#eff2f4"/>
<rect x="98.22" y="363.1" width="28.61" height="6.06" fill="#ab2939"/>
<rect x="126.84" y="308.6" width="28.61" height="6.06" fill="#a1cde2"/>
<rect x="126.84" y="314.66" width="28.61" height="6.06" fill="#97c7df"/>
<rect x="126.84" y="320.71" width="28.61" height="6.06" fill="#97c7df"/>
<rect x="126.84" y="326.77" width="28.61" height="6.06" fill="#a1cde2"/>
<rect x="126.84" y="332.82" width="28.61" height="6.06" fill="#97c7df"/>
<rect x="126.84" y="338.88" width="28.61" height="6.06" fill="#a1cde2"/>
<rect x="126.84" y="344.94" width="28.61" height="6.06" fill="#a1cde2"/>
<rect x="126.84" y="350.99" width="28.61" height="6.06" fill="#b8d9e9"/>
<rect x="126.84" y="357.05" width="28.61" height="6.06" fill="#d2e5ef"/>
<rect x="126.84" y="363.1" width="28.61" height="6.06" fill="#eff2f4"/>
<rect x="126.84" y="369.16" width="28.61" height="6.06" fill="#ab2939"/>
<rect x="155.45" y="308.6" width="28.61" height="6.06" fill="#b8d9e9"/>
<rect x="155.45" y="314.66" width="28.61" height="6.06" fill="#97c7df"/>
<rect x="155.45" y="320.71" width="28.61" height="6.06" fill="#a1cde2"/>
<rect x="155.45" y="326.77" width="28.61" height="6.06" fill="#a1cde2"/>
<rect x="155.45" y="332.82" width="28.61" height="6.06" fill="#a1cde2"/>
<rect x="155.45" y="338.88" width="28.61" height="6.06" fill="#a1cde2"/>
<rect x="155.45" y="344.94" width="28.61" height="6.06" fill="#b8d9e9"/>
<rect x="155.45" y="350.99" width="28.61" height="6.06" fill="#b8d9e9"/>
<rect x="155.45" y="357.05" width="28.61" height="6.06" fill="#d2e5ef"/>
<rect x="155.45" y="363.1" width="28.61" height="6.06" fill="#d2e5ef"/>
<rect x="155.45" y="369.16" width="28.61" height="6.06" fill="#eff2f4"/>
<rect x="155.45" y="375.22" width="28.61" height="6.06" fill="#ab2939"/>
<rect x="184.06" y="308.6" width="28.61" height="6.06" fill="#a1cde2"/>
<rect x="184.06" y="314.66" width="28.61" height="6.06" fill="#97c7df"/>
<rect x="184.06" y="320.71" width="28.61" height="6.06" fill="#d2e5ef"/>
<rect x="184.06" y="326.77" width="28.61" height="6.06" fill="#b8d9e9"/>
<rect x="184.06" y="332.82" width="28.61" height="6.06" fill="#d2e5ef"/>
<rect x="184.06" y="338.88" width="28.61" height="6.06" fill="#a1cde2"/>
<rect x="184.06" y="344.94" width="28.61" height="6.06" fill="#b8d9e9"/>
<rect x="184.06" y="350.99" width="28.61" height="6.06" fill="#b8d9e9"/>
<rect x="184.06" y="357.05" width="28.61" height="6.06" fill="#b8d9e9"/>
<rect x="184.06" y="363.1" width="28.61" height="6.06" fill="#b8d9e9"/>
<rect x="184.06" y="369.16" width="28.61" height="6.06" fill="#eff2f4"/>
<rect x="184.06" y="375.22" width="28.61" height="6.06" fill="#eff2f4"/>
<rect x="184.06" y="381.27" width="28.61" height="6.06" fill="#ab2939"/>
<rect x="212.67" y="308.6" width="28.61" height="6.06" fill="#a1cde2"/>
<rect x="212.67" y="314.66" width="28.61" height="6.06" fill="#97c7df"/>
<rect x="212.67" y="320.71" width="28.61" height="6.06" fill="#97c7df"/>
<rect x="212.67" y="326.77" width="28.61" height="6.06" fill="#a1cde2"/>
<rect x="212.67" y="332.82" width="28.61" height="6.06" fill="#d2e5ef"/>
<rect x="212.67" y="338.88" width="28.61" height="6.06" fill="#a1cde2"/>
<rect x="212.67" y="344.94" width="28.61" height="6.06" fill="#a1cde2"/>
<rect x="212.67" y="350.99" width="28.61" height="6.06" fill="#b8d9e9"/>
<rect x="212.67" y="357.05" width="28.61" height="6.06" fill="#b8d9e9"/>
<rect x="212.67" y="363.1" width="28.61" height="6.06" fill="#b8d9e9"/>
<rect x="212.67" y="369.16" width="28.61" height="6.06" fill="#d2e5ef"/>
<rect x="212.67" y="375.22" width="28.61" height="6.06" fill="#eff2f4"/>
<rect x="212.67" y="381.27" width="28.61" height="6.06" fill="#eaaaa9"/>
<rect x="212.67" y="387.33" width="28.61" height="6.06" fill="#ab2939"/>
<rect x="241.29" y="308.6" width="28.61" height="6.06" fill="#97c7df"/>
<rect x="241.29" y="314.66" width="28.61" height="6.06" fill="#97c7df"/>
<rect x="241.29" y="320.71" width="28.61" height="6.06" fill="#97c7df"/>
<rect x="241.29" y="326.77" width="28.61" height="6.06" fill="#97c7df"/>
<rect x="241.29" y="332.82" width="28.61" height="6.06" fill="#97c7df"/>
<rect x="241.29" y="338.88" width="28.61" height="6.06" fill="#a1cde2"/>
<rect x="241.29" y="344.94" width="28.61" height="6.06" fill="#a1cde2"/>
<rect x="241.29" y="350.99" width="28.61" height="6.06" fill="#a1cde2"/>
<rect x="241.29" y="357.05" width="28.61" height="6.06" fill="#eff2f4"/>
<rect x="241.29" y="363.1" width="28.61" height="6.06" fill="#d2e5ef"/>
<rect x="241.29" y="369.16" width="28.61" height="6.06" fill="#d2e5ef"/>
<rect x="241.29" y="375.22" width="28.61" height="6.06" fill="#d2e5ef"/>
<rect x="241.29" y="381.27" width="28.61" height="6.06" fill="#eff2f4"/>
<rect x="241.29" y="387.33" width="28.61" height="6.06" fill="#f5d8d5"/>
<rect x="241.29" y="393.38" width="28.61" height="6.06" fill="#ab2939"/>
<rect x="274.1" y="70.17" width="28.55" height="6.06" fill="#a1cde2"/>
<rect x="302.65" y="70.17" width="28.55" height="6.06" fill="#a1cde2"/>
<rect x="331.2" y="70.17" width="28.55" height="6.06" fill="#a1cde2"/>
<rect x="359.75" y="70.17" width="28.55" height="6.06" fill="#a1cde2"/>
<rect x="388.3" y="70.17" width="28.55" height="6.06" fill="#a1cde2"/>
<rect x="416.85" y="70.17" width="28.55" height="6.06" fill="#a1cde2"/>
<rect x="445.4" y="70.17" width="28.55" height="6.06" fill="#a1cde2"/>
<rect x="473.95" y="70.17" width="28.55" height="6.06" fill="#8cc1dc"/>
<rect x="274.1" y="76.23" width="28.55" height="6.06" fill="#d2e5ef"/>
<rect x="302.65" y="76.23" width="28.55" height="6.06" fill="#b8d9e9"/>
<rect x="331.2" y="76.23" width="28.55" height="6.06" fill="#d2e5ef"/>
<rect x="359.75" y="76.23" width="28.55" height="6.06" fill="#d2e5ef"/>
<rect x="388.3" y="76.23" width="28.55" height="6.06" fill="#d2e5ef"/>
<rect x="416.85" y="76.23" width="28.55" height="6.06" fill="#d2e5ef"/>
<rect x="445.4" y="76.23" width="28.55" height="6.06" fill="#d2e5ef"/>
<rect x="473.95" y="76.23" width="28.55" height="6.06" fill="#b8d9e9"/>
<rect x="274.1" y="82.28" width="28.55" height="6.06" fill="#d87b7c"/>
<rect x="302.65" y="82.28" width="28.55" height="6.06" fill="#eaaaa9"/>
<rect x="331.2" y="82.28" width="28.55" height="6.06" fill="#eaaaa9"/>
<rect x="359.75" y="82.28" width="28.55" height="6.06" fill="#eaaaa9"/>
<rect x="388.3" y="82.28" width="28.55" height="6.06" fill="#eaaaa9"/>
<rect x="416.85" y="82.28" width="28.55" height="6.06" fill="#e19394"/>
<rect x="445.4" y="82.28" width="28.55" height="6.06" fill="#e19394"/>
<rect x="473.95" y="82.28" width="28.55" height="6.06" fill="#d87b7c"/>
<rect x="274.1" y="88.34" width="28.55" height="6.06" fill="#e19394"/>
<rect x="302.65" y="88.34" width="28.55" height="6.06" fill="#eaaaa9"/>
<rect x="331.2" y="88.34" width="28.55" height="6.06" fill="#cf686b"/>
<rect x="359.75" y="88.34" width="28.55" height="6.06" fill="#cf686b"/>
<rect x="388.3" y="88.34" width="28.55" height="6.06" fill="#cf686b"/>
<rect x="416.85" y="88.34" width="28.55" height="6.06" fill="#d87b7c"/>
<rect x="445.4" y="88.34" width="28.55" height="6.06" fill="#d87b7c"/>
<rect x="473.95" y="88.34" width="28.55" height="6.06" fill="#d87b7c"/>
<rect x="274.1" y="94.39" width="28.55" height="6.06" fill="#b8d9e9"/>
<rect x="302.65" y="94.39" width="28.55" height="6.06" fill="#a1cde2"/>
<rect x="331.2" y="94.39" width="28.55" height="6.06" fill="#a1cde2"/>
<rect x="359.75" y="94.39" width="28.55" height="6.06" fill="#a1cde2"/>
<rect x="388.3" y="94.39" width="28.55" height="6.06" fill="#a1cde2"/>
<rect x="416.85" y="94.39" width="28.55" height="6.06" fill="#a1cde2"/>
<rect x="445.4" y="94.39" width="28.55" height="6.06" fill="#a1cde2"/>
<rect x="473.95" y="94.39" width="28.55" height="6.06" fill="#a1cde2"/>
<rect x="274.1" y="100.45" width="28.55" height="6.06" fill="#6499c7"/>
<rect x="302.65" y="100.45" width="28.55" height="6.06" fill="#a1cde2"/>
<rect x="331.2" y="100.45" width="28.55" height="6.06" fill="#2c67a9"/>
<rect x="359.75" y="100.45" width="28.55" height="6.06" fill="#2c67a9"/>
<rect x="388.3" y="100.45" width="28.55" height="6.06" fill="#2c67a9"/>
<rect x="416.85" y="100.45" width="28.55" height="6.06" fill="#2c67a9"/>
<rect x="445.4" y="100.45" width="28.55" height="6.06" fill="#467db8"/>
<rect x="473.95" y="100.45" width="28.55" height="6.06" fill="#467db8"/>
<rect x="274.1" y="106.51" width="28.55" height="6.06" fill="#8cc1dc"/>
<rect x="302.65" y="106.51" width="28.55" height="6.06" fill="#a1cde2"/>
<rect x="331.2" y="106.51" width="28.55" height="6.06" fill="#8cc1dc"/>
<rect x="359.75" y="106.51" width="28.55" height="6.06" fill="#8cc1dc"/>
<rect x="388.3" y="106.51" width="28.55" height="6.06" fill="#8cc1dc"/>
<rect x="416.85" y="106.51" width="28.55" height="6.06" fill="#8cc1dc"/>
<rect x="445.4" y="106.51" width="28.55" height="6.06" fill="#8cc1dc"/>
<rect x="473.95" y="106.51" width="28.55" height="6.06" fill="#7bb0d3"/>
<rect x="274.1" y="112.56" width="28.55" height="6.06" fill="#cf686b"/>
<rect x="302.65" y="112.56" width="28.55" height="6.06" fill="#eaaaa9"/>
<rect x="331.2" y="112.56" width="28.55" height="6.06" fill="#d87b7c"/>
<rect x="359.75" y="112.56" width="28.55" height="6.06" fill="#d87b7c"/>
<rect x="388.3" y="112.56" width="28.55" height="6.06" fill="#d87b7c"/>
<rect x="416.85" y="112.56" width="28.55" height="6.06" fill="#d87b7c"/>
<rect x="445.4" y="112.56" width="28.55" height="6.06" fill="#d87b7c"/>
<rect x="473.95" y="112.56" width="28.55" height="6.06" fill="#eaaaa9"/>
<rect x="274.1" y="118.62" width="28.55" height="6.06" fill="#eaaaa9"/>
<rect x="302.65" y="118.62" width="28.55" height="6.06" fill="#eaaaa9"/>
<rect x="331.2" y="118.62" width="28.55" height="6.06" fill="#e19394"/>
<rect x="359.75" y="118.62" width="28.55" height="6.06" fill="#e19394"/>
<rect x="388.3" y="118.62" width="28.55" height="6.06" fill="#e19394"/>
<rect x="416.85" y="118.62" width="28.55" height="6.06" fill="#e19394"/>
<rect x="445.4" y="118.62" width="28.55" height="6.06" fill="#e19394"/>
<rect x="473.95" y="118.62" width="28.55" height="6.06" fill="#e19394"/>
<rect x="274.1" y="124.67" width="28.55" height="6.06" fill="#b8d9e9"/>
<rect x="302.65" y="124.67" width="28.55" height="6.06" fill="#b8d9e9"/>
<rect x="331.2" y="124.67" width="28.55" height="6.06" fill="#d2e5ef"/>
<rect x="359.75" y="124.67" width="28.55" height="6.06" fill="#d2e5ef"/>
<rect x="388.3" y="124.67" width="28.55" height="6.06" fill="#d2e5ef"/>
<rect x="416.85" y="124.67" width="28.55" height="6.06" fill="#d2e5ef"/>
<rect x="445.4" y="124.67" width="28.55" height="6.06" fill="#d2e5ef"/>
<rect x="473.95" y="124.67" width="28.55" height="6.06" fill="#d2e5ef"/>
<rect x="274.1" y="130.73" width="28.55" height="6.06" fill="#a1cde2"/>
<rect x="302.65" y="130.73" width="28.55" height="6.06" fill="#a1cde2"/>
<rect x="331.2" y="130.73" width="28.55" height="6.06" fill="#a1cde2"/>
<rect x="359.75" y="130.73" width="28.55" height="6.06" fill="#a1cde2"/>
<rect x="388.3" y="130.73" width="28.55" height="6.06" fill="#a1cde2"/>
<rect x="416.85" y="130.73" width="28.55" height="6.06" fill="#a1cde2"/>
<rect x="445.4" y="130.73" width="28.55" height="6.06" fill="#a1cde2"/>
<rect x="473.95" y="130.73" width="28.55" height="6.06" fill="#a1cde2"/>
<rect x="274.1" y="136.79" width="28.55" height="6.06" fill="#d2e5ef"/>
<rect x="302.65" y="136.79" width="28.55" height="6.06" fill="#d2e5ef"/>
<rect x="331.2" y="136.79" width="28.55" height="6.06" fill="#d2e5ef"/>
<rect x="359.75" y="136.79" width="28.55" height="6.06" fill="#d2e5ef"/>
<rect x="388.3" y="136.79" width="28.55" height="6.06" fill="#d2e5ef"/>
<rect x="416.85" y="136.79" width="28.55" height="6.06" fill="#eff2f4"/>
<rect x="445.4" y="136.79" width="28.55" height="6.06" fill="#d2e5ef"/>
<rect x="473.95" y="136.79" width="28.55" height="6.06" fill="#b8d9e9"/>
<rect x="274.1" y="142.84" width="28.55" height="6.06" fill="#b8d9e9"/>
<rect x="302.65" y="142.84" width="28.55" height="6.06" fill="#b8d9e9"/>
<rect x="331.2" y="142.84" width="28.55" height="6.06" fill="#b8d9e9"/>
<rect x="359.75" y="142.84" width="28.55" height="6.06" fill="#b8d9e9"/>
<rect x="388.3" y="142.84" width="28.55" height="6.06" fill="#d2e5ef"/>
<rect x="416.85" y="142.84" width="28.55" height="6.06" fill="#d2e5ef"/>
<rect x="445.4" y="142.84" width="28.55" height="6.06" fill="#d2e5ef"/>
<rect x="473.95" y="142.84" width="28.55" height="6.06" fill="#b8d9e9"/>
<rect x="274.1" y="148.9" width="28.55" height="6.06" fill="#d2e5ef"/>
<rect x="302.65" y="148.9" width="28.55" height="6.06" fill="#d2e5ef"/>
<rect x="331.2" y="148.9" width="28.55" height="6.06" fill="#d2e5ef"/>
<rect x="359.75" y="148.9" width="28.55" height="6.06" fill="#d2e5ef"/>
<rect x="388.3" y="148.9" width="28.55" height="6.06" fill="#b8d9e9"/>
<rect x="416.85" y="148.9" width="28.55" height="6.06" fill="#d2e5ef"/>
<rect x="445.4" y="148.9" width="28.55" height="6.06" fill="#b8d9e9"/>
<rect x="473.95" y="148.9" width="28.55" height="6.06" fill="#b8d9e9"/>
<rect x="274.1" y="154.95" width="28.55" height="6.06" fill="#b8d9e9"/>
<rect x="302.65" y="154.95" width="28.55" height="6.06" fill="#b8d9e9"/>
<rect x="331.2" y="154.95" width="28.55" height="6.06" fill="#b8d9e9"/>
<rect x="359.75" y="154.95" width="28.55" height="6.06" fill="#b8d9e9"/>
<rect x="388.3" y="154.95" width="28.55" height="6.06" fill="#d2e5ef"/>
<rect x="416.85" y="154.95" width="28.55" height="6.06" fill="#b8d9e9"/>
<rect x="445.4" y="154.95" width="28.55" height="6.06" fill="#d2e5ef"/>
<rect x="473.95" y="154.95" width="28.55" height="6.06" fill="#d2e5ef"/>
<rect x="274.1" y="161.01" width="28.55" height="6.06" fill="#d2e5ef"/>
<rect x="302.65" y="161.01" width="28.55" height="6.06" fill="#b8d9e9"/>
<rect x="331.2" y="161.01" width="28.55" height="6.06" fill="#eff2f4"/>
<rect x="359.75" y="161.01" width="28.55" height="6.06" fill="#d2e5ef"/>
<rect x="388.3" y="161.01" width="28.55" height="6.06" fill="#d2e5ef"/>
<rect x="416.85" y="161.01" width="28.55" height="6.06" fill="#d2e5ef"/>
<rect x="445.4" y="161.01" width="28.55" height="6.06" fill="#a1cde2"/>
<rect x="473.95" y="161.01" width="28.55" height="6.06" fill="#b8d9e9"/>
<rect x="274.1" y="167.07" width="28.55" height="6.06" fill="#eff2f4"/>
<rect x="302.65" y="167.07" width="28.55" height="6.06" fill="#b8d9e9"/>
<rect x="331.2" y="167.07" width="28.55" height="6.06" fill="#d2e5ef"/>
<rect x="359.75" y="167.07" width="28.55" height="6.06" fill="#d2e5ef"/>
<rect x="388.3" y="167.07" width="28.55" height="6.06" fill="#d2e5ef"/>
<rect x="416.85" y="167.07" width="28.55" height="6.06" fill="#d2e5ef"/>
<rect x="445.4" y="167.07" width="28.55" height="6.06" fill="#eff2f4"/>
<rect x="473.95" y="167.07" width="28.55" height="6.06" fill="#eff2f4"/>
<rect x="274.1" y="173.12" width="28.55" height="6.06" fill="#8cc1dc"/>
<rect x="302.65" y="173.12" width="28.55" height="6.06" fill="#8cc1dc"/>
<rect x="331.2" y="173.12" width="28.55" height="6.06" fill="#8cc1dc"/>
<rect x="359.75" y="173.12" width="28.55" height="6.06" fill="#8cc1dc"/>
<rect x="388.3" y="173.12" width="28.55" height="6.06" fill="#8cc1dc"/>
<rect x="416.85" y="173.12" width="28.55" height="6.06" fill="#8cc1dc"/>
<rect x="445.4" y="173.12" width="28.55" height="6.06" fill="#a1cde2"/>
<rect x="473.95" y="173.12" width="28.55" height="6.06" fill="#a1cde2"/>
<rect x="274.1" y="179.18" width="28.55" height="6.06" fill="#eff2f4"/>
<rect x="302.65" y="179.18" width="28.55" height="6.06" fill="#d2e5ef"/>
<rect x="331.2" y="179.18" width="28.55" height="6.06" fill="#d2e5ef"/>
<rect x="359.75" y="179.18" width="28.55" height="6.06" fill="#eff2f4"/>
<rect x="388.3" y="179.18" width="28.55" height="6.06" fill="#eff2f4"/>
<rect x="416.85" y="179.18" width="28.55" height="6.06" fill="#eff2f4"/>
<rect x="445.4" y="179.18" width="28.55" height="6.06" fill="#f5d8d5"/>
<rect x="473.95" y="179.18" width="28.55" height="6.06" fill="#f5d8d5"/>
<rect x="274.1" y="185.23" width="28.55" height="6.06" fill="#8cc1dc"/>
<rect x="302.65" y="185.23" width="28.55" height="6.06" fill="#a1cde2"/>
<rect x="331.2" y="185.23" width="28.55" height="6.06" fill="#8cc1dc"/>
<rect x="359.75" y="185.23" width="28.55" height="6.06" fill="#8cc1dc"/>
<rect x="388.3" y="185.23" width="28.55" height="6.06" fill="#a1cde2"/>
<rect x="416.85" y="185.23" width="28.55" height="6.06" fill="#a1cde2"/>
<rect x="445.4" y="185.23" width="28.55" height="6.06" fill="#a1cde2"/>
<rect x="473.95" y="185.23" width="28.55" height="6.06" fill="#a1cde2"/>
<rect x="274.1" y="191.29" width="28.55" height="6.06" fill="#8cc1dc"/>
<rect x="302.65" y="191.29" width="28.55" height="6.06" fill="#a1cde2"/>
<rect x="331.2" y="191.29" width="28.55" height="6.06" fill="#a1cde2"/>
<rect x="359.75" y="191.29" width="28.55" height="6.06" fill="#a1cde2"/>
<rect x="388.3" y="191.29" width="28.55" height="6.06" fill="#a1cde2"/>
<rect x="416.85" y="191.29" width="28.55" height="6.06" fill="#a1cde2"/>
<rect x="445.4" y="191.29" width="28.55" height="6.06" fill="#b8d9e9"/>
<rect x="473.95" y="191.29" width="28.55" height="6.06" fill="#b8d9e9"/>
<rect x="274.1" y="197.35" width="28.55" height="6.06" fill="#8cc1dc"/>
<rect x="302.65" y="197.35" width="28.55" height="6.06" fill="#8cc1dc"/>
<rect x="331.2" y="197.35" width="28.55" height="6.06" fill="#467db8"/>
<rect x="359.75" y="197.35" width="28.55" height="6.06" fill="#467db8"/>
<rect x="388.3" y="197.35" width="28.55" height="6.06" fill="#467db8"/>
<rect x="416.85" y="197.35" width="28.55" height="6.06" fill="#6499c7"/>
<rect x="445.4" y="197.35" width="28.55" height="6.06" fill="#2c67a9"/>
<rect x="473.95" y="197.35" width="28.55" height="6.06" fill="#6499c7"/>
<rect x="274.1" y="203.4" width="28.55" height="6.06" fill="#eff2f4"/>
<rect x="302.65" y="203.4" width="28.55" height="6.06" fill="#d2e5ef"/>
<rect x="331.2" y="203.4" width="28.55" height="6.06" fill="#b8d9e9"/>
<rect x="359.75" y="203.4" width="28.55" height="6.06" fill="#b8d9e9"/>
<rect x="388.3" y="203.4" width="28.55" height="6.06" fill="#d2e5ef"/>
<rect x="416.85" y="203.4" width="28.55" height="6.06" fill="#b8d9e9"/>
<rect x="445.4" y="203.4" width="28.55" height="6.06" fill="#a1cde2"/>
<rect x="473.95" y="203.4" width="28.55" height="6.06" fill="#b8d9e9"/>
<rect x="274.1" y="209.46" width="28.55" height="6.06" fill="#a1cde2"/>
<rect x="302.65" y="209.46" width="28.55" height="6.06" fill="#b8d9e9"/>
<rect x="331.2" y="209.46" width="28.55" height="6.06" fill="#a1cde2"/>
<rect x="359.75" y="209.46" width="28.55" height="6.06" fill="#a1cde2"/>
<rect x="388.3" y="209.46" width="28.55" height="6.06" fill="#b8d9e9"/>
<rect x="416.85" y="209.46" width="28.55" height="6.06" fill="#b8d9e9"/>
<rect x="445.4" y="209.46" width="28.55" height="6.06" fill="#a1cde2"/>
<rect x="473.95" y="209.46" width="28.55" height="6.06" fill="#b8d9e9"/>
<rect x="274.1" y="215.51" width="28.55" height="6.06" fill="#b8d9e9"/>
<rect x="302.65" y="215.51" width="28.55" height="6.06" fill="#b8d9e9"/>
<rect x="331.2" y="215.51" width="28.55" height="6.06" fill="#b8d9e9"/>
<rect x="359.75" y="215.51" width="28.55" height="6.06" fill="#b8d9e9"/>
<rect x="388.3" y="215.51" width="28.55" height="6.06" fill="#b8d9e9"/>
<rect x="416.85" y="215.51" width="28.55" height="6.06" fill="#b8d9e9"/>
<rect x="445.4" y="215.51" width="28.55" height="6.06" fill="#b8d9e9"/>
<rect x="473.95" y="215.51" width="28.55" height="6.06" fill="#b8d9e9"/>
<rect x="274.1" y="221.57" width="28.55" height="6.06" fill="#d2e5ef"/>
<rect x="302.65" y="221.57" width="28.55" height="6.06" fill="#b8d9e9"/>
<rect x="331.2" y="221.57" width="28.55" height="6.06" fill="#b8d9e9"/>
<rect x="359.75" y="221.57" width="28.55" height="6.06" fill="#b8d9e9"/>
<rect x="388.3" y="221.57" width="28.55" height="6.06" fill="#b8d9e9"/>
<rect x="416.85" y="221.57" width="28.55" height="6.06" fill="#b8d9e9"/>
<rect x="445.4" y="221.57" width="28.55" height="6.06" fill="#d2e5ef"/>
<rect x="473.95" y="221.57" width="28.55" height="6.06" fill="#b8d9e9"/>
<rect x="274.1" y="227.63" width="28.55" height="6.06" fill="#d2e5ef"/>
<rect x="302.65" y="227.63" width="28.55" height="6.06" fill="#d2e5ef"/>
<rect x="331.2" y="227.63" width="28.55" height="6.06" fill="#b8d9e9"/>
<rect x="359.75" y="227.63" width="28.55" height="6.06" fill="#b8d9e9"/>
<rect x="388.3" y="227.63" width="28.55" height="6.06" fill="#b8d9e9"/>
<rect x="416.85" y="227.63" width="28.55" height="6.06" fill="#b8d9e9"/>
<rect x="445.4" y="227.63" width="28.55" height="6.06" fill="#b8d9e9"/>
<rect x="473.95" y="227.63" width="28.55" height="6.06" fill="#b8d9e9"/>
<rect x="274.1" y="233.68" width="28.55" height="6.06" fill="#d2e5ef"/>
<rect x="302.65" y="233.68" width="28.55" height="6.06" fill="#d2e5ef"/>
<rect x="331.2" y="233.68" width="28.55" height="6.06" fill="#d2e5ef"/>
<rect x="359.75" y="233.68" width="28.55" height="6.06" fill="#d2e5ef"/>
<rect x="388.3" y="233.68" width="28.55" height="6.06" fill="#d2e5ef"/>
<rect x="416.85" y="233.68" width="28.55" height="6.06" fill="#d2e5ef"/>
<rect x="445.4" y="233.68" width="28.55" height="6.06" fill="#d2e5ef"/>
<rect x="473.95" y="233.68" width="28.55" height="6.06" fill="#d2e5ef"/>
<rect x="274.1" y="239.74" width="28.55" height="6.06" fill="#c6545b"/>
<rect x="302.65" y="239.74" width="28.55" height="6.06" fill="#eaaaa9"/>
<rect x="331.2" y="239.74" width="28.55" height="6.06" fill="#cf686b"/>
<rect x="359.75" y="239.74" width="28.55" height="6.06" fill="#cf686b"/>
<rect x="388.3" y="239.74" width="28.55" height="6.06" fill="#cf686b"/>
<rect x="416.85" y="239.74" width="28.55" height="6.06" fill="#cf686b"/>
<rect x="445.4" y="239.74" width="28.55" height="6.06" fill="#d87b7c"/>
<rect x="473.95" y="239.74" width="28.55" height="6.06" fill="#cf686b"/>
<rect x="274.1" y="245.79" width="28.55" height="6.06" fill="#eff2f4"/>
<rect x="302.65" y="245.79" width="28.55" height="6.06" fill="#eff2f4"/>
<rect x="331.2" y="245.79" width="28.55" height="6.06" fill="#eff2f4"/>
<rect x="359.75" y="245.79" width="28.55" height="6.06" fill="#eff2f4"/>
<rect x="388.3" y="245.79" width="28.55" height="6.06" fill="#eff2f4"/>
<rect x="416.85" y="245.79" width="28.55" height="6.06" fill="#eff2f4"/>
<rect x="445.4" y="245.79" width="28.55" height="6.06" fill="#eff2f4"/>
<rect x="473.95" y="245.79" width="28.55" height="6.06" fill="#b8d9e9"/>
<rect x="274.1" y="251.85" width="28.55" height="6.06" fill="#b8d9e9"/>
<rect x="302.65" y="251.85" width="28.55" height="6.06" fill="#b8d9e9"/>
<rect x="331.2" y="251.85" width="28.55" height="6.06" fill="#b8d9e9"/>
<rect x="359.75" y="251.85" width="28.55" height="6.06" fill="#b8d9e9"/>
<rect x="388.3" y="251.85" width="28.55" height="6.06" fill="#b8d9e9"/>
<rect x="416.85" y="251.85" width="28.55" height="6.06" fill="#b8d9e9"/>
<rect x="445.4" y="251.85" width="28.55" height="6.06" fill="#b8d9e9"/>
<rect x="473.95" y="251.85" width="28.55" height="6.06" fill="#b8d9e9"/>
<rect x="274.1" y="257.91" width="28.55" height="6.06" fill="#eff2f4"/>
<rect x="302.65" y="257.91" width="28.55" height="6.06" fill="#eaaaa9"/>
<rect x="331.2" y="257.91" width="28.55" height="6.06" fill="#f5d8d5"/>
<rect x="359.75" y="257.91" width="28.55" height="6.06" fill="#f5d8d5"/>
<rect x="388.3" y="257.91" width="28.55" height="6.06" fill="#eff2f4"/>
<rect x="416.85" y="257.91" width="28.55" height="6.06" fill="#f5d8d5"/>
<rect x="445.4" y="257.91" width="28.55" height="6.06" fill="#eff2f4"/>
<rect x="473.95" y="257.91" width="28.55" height="6.06" fill="#eaaaa9"/>
<rect x="274.1" y="263.96" width="28.55" height="6.06" fill="#d2e5ef"/>
<rect x="302.65" y="263.96" width="28.55" height="6.06" fill="#b8d9e9"/>
<rect x="331.2" y="263.96" width="28.55" height="6.06" fill="#b8d9e9"/>
<rect x="359.75" y="263.96" width="28.55" height="6.06" fill="#b8d9e9"/>
<rect x="388.3" y="263.96" width="28.55" height="6.06" fill="#d2e5ef"/>
<rect x="416.85" y="263.96" width="28.55" height="6.06" fill="#b8d9e9"/>
<rect x="445.4" y="263.96" width="28.55" height="6.06" fill="#b8d9e9"/>
<rect x="473.95" y="263.96" width="28.55" height="6.06" fill="#b8d9e9"/>
<rect x="274.1" y="270.02" width="28.55" height="6.06" fill="#d2e5ef"/>
<rect x="302.65" y="270.02" width="28.55" height="6.06" fill="#a1cde2"/>
<rect x="331.2" y="270.02" width="28.55" height="6.06" fill="#b8d9e9"/>
<rect x="359.75" y="270.02" width="28.55" height="6.06" fill="#a1cde2"/>
<rect x="388.3" y="270.02" width="28.55" height="6.06" fill="#d2e5ef"/>
<rect x="416.85" y="270.02" width="28.55" height="6.06" fill="#b8d9e9"/>
<rect x="445.4" y="270.02" width="28.55" height="6.06" fill="#d2e5ef"/>
<rect x="473.95" y="270.02" width="28.55" height="6.06" fill="#d2e5ef"/>
<rect x="274.1" y="308.6" width="28.55" height="6.06" fill="#f5d8d5"/>
<rect x="274.1" y="314.66" width="28.55" height="6.06" fill="#c6545b"/>
<rect x="274.1" y="320.71" width="28.55" height="6.06" fill="#eff2f4"/>
<rect x="274.1" y="326.77" width="28.55" height="6.06" fill="#d2e5ef"/>
<rect x="274.1" y="332.82" width="28.55" height="6.06" fill="#b8d9e9"/>
<rect x="274.1" y="338.88" width="28.55" height="6.06" fill="#d2e5ef"/>
<rect x="274.1" y="344.94" width="28.55" height="6.06" fill="#b8d9e9"/>
<rect x="274.1" y="350.99" width="28.55" height="6.06" fill="#b8d9e9"/>
<rect x="302.65" y="308.6" width="28.55" height="6.06" fill="#eff2f4"/>
<rect x="302.65" y="314.66" width="28.55" height="6.06" fill="#c6545b"/>
<rect x="302.65" y="320.71" width="28.55" height="6.06" fill="#eff2f4"/>
<rect x="302.65" y="326.77" width="28.55" height="6.06" fill="#d2e5ef"/>
<rect x="302.65" y="332.82" width="28.55" height="6.06" fill="#b8d9e9"/>
<rect x="302.65" y="338.88" width="28.55" height="6.06" fill="#b8d9e9"/>
<rect x="302.65" y="344.94" width="28.55" height="6.06" fill="#b8d9e9"/>
<rect x="302.65" y="350.99" width="28.55" height="6.06" fill="#d2e5ef"/>
<rect x="302.65" y="357.05" width="28.55" height="6.06" fill="#ab2939"/>
<rect x="331.2" y="308.6" width="28.55" height="6.06" fill="#eff2f4"/>
<rect x="331.2" y="314.66" width="28.55" height="6.06" fill="#c6545b"/>
<rect x="331.2" y="320.71" width="28.55" height="6.06" fill="#eff2f4"/>
<rect x="331.2" y="326.77" width="28.55" height="6.06" fill="#d2e5ef"/>
<rect x="331.2" y="332.82" width="28.55" height="6.06" fill="#d2e5ef"/>
<rect x="331.2" y="338.88" width="28.55" height="6.06" fill="#d2e5ef"/>
<rect x="331.2" y="344.94" width="28.55" height="6.06" fill="#d2e5ef"/>
<rect x="331.2" y="350.99" width="28.55" height="6.06" fill="#b8d9e9"/>
<rect x="331.2" y="357.05" width="28.55" height="6.06" fill="#a1cde2"/>
<rect x="331.2" y="363.1" width="28.55" height="6.06" fill="#a1cde2"/>
<rect x="359.75" y="308.6" width="28.55" height="6.06" fill="#eff2f4"/>
<rect x="359.75" y="314.66" width="28.55" height="6.06" fill="#c6545b"/>
<rect x="359.75" y="320.71" width="28.55" height="6.06" fill="#eff2f4"/>
<rect x="359.75" y="326.77" width="28.55" height="6.06" fill="#d2e5ef"/>
<rect x="359.75" y="332.82" width="28.55" height="6.06" fill="#d2e5ef"/>
<rect x="359.75" y="338.88" width="28.55" height="6.06" fill="#d2e5ef"/>
<rect x="359.75" y="344.94" width="28.55" height="6.06" fill="#d2e5ef"/>
<rect x="359.75" y="350.99" width="28.55" height="6.06" fill="#d2e5ef"/>
<rect x="359.75" y="357.05" width="28.55" height="6.06" fill="#d2e5ef"/>
<rect x="359.75" y="363.1" width="28.55" height="6.06" fill="#a1cde2"/>
<rect x="359.75" y="369.16" width="28.55" height="6.06" fill="#a1cde2"/>
<rect x="388.3" y="308.6" width="28.55" height="6.06" fill="#eff2f4"/>
<rect x="388.3" y="314.66" width="28.55" height="6.06" fill="#c6545b"/>
<rect x="388.3" y="320.71" width="28.55" height="6.06" fill="#eff2f4"/>
<rect x="388.3" y="326.77" width="28.55" height="6.06" fill="#d2e5ef"/>
<rect x="388.3" y="332.82" width="28.55" height="6.06" fill="#d2e5ef"/>
<rect x="388.3" y="338.88" width="28.55" height="6.06" fill="#eff2f4"/>
<rect x="388.3" y="344.94" width="28.55" height="6.06" fill="#d2e5ef"/>
<rect x="388.3" y="350.99" width="28.55" height="6.06" fill="#d2e5ef"/>
<rect x="388.3" y="357.05" width="28.55" height="6.06" fill="#b8d9e9"/>
<rect x="388.3" y="363.1" width="28.55" height="6.06" fill="#b8d9e9"/>
<rect x="388.3" y="369.16" width="28.55" height="6.06" fill="#a1cde2"/>
<rect x="388.3" y="375.22" width="28.55" height="6.06" fill="#a1cde2"/>
<rect x="416.85" y="308.6" width="28.55" height="6.06" fill="#eff2f4"/>
<rect x="416.85" y="314.66" width="28.55" height="6.06" fill="#c6545b"/>
<rect x="416.85" y="320.71" width="28.55" height="6.06" fill="#eff2f4"/>
<rect x="416.85" y="326.77" width="28.55" height="6.06" fill="#d2e5ef"/>
<rect x="416.85" y="332.82" width="28.55" height="6.06" fill="#eff2f4"/>
<rect x="416.85" y="338.88" width="28.55" height="6.06" fill="#d2e5ef"/>
<rect x="416.85" y="344.94" width="28.55" height="6.06" fill="#eff2f4"/>
<rect x="416.85" y="350.99" width="28.55" height="6.06" fill="#d2e5ef"/>
<rect x="416.85" y="357.05" width="28.55" height="6.06" fill="#d2e5ef"/>
<rect x="416.85" y="363.1" width="28.55" height="6.06" fill="#d2e5ef"/>
<rect x="416.85" y="369.16" width="28.55" height="6.06" fill="#d2e5ef"/>
<rect x="416.85" y="375.22" width="28.55" height="6.06" fill="#a1cde2"/>
<rect x="416.85" y="381.27" width="28.55" height="6.06" fill="#a1cde2"/>
<rect x="445.4" y="308.6" width="28.55" height="6.06" fill="#eff2f4"/>
<rect x="445.4" y="314.66" width="28.55" height="6.06" fill="#c6545b"/>
<rect x="445.4" y="320.71" width="28.55" height="6.06" fill="#eff2f4"/>
<rect x="445.4" y="326.77" width="28.55" height="6.06" fill="#b8d9e9"/>
<rect x="445.4" y="332.82" width="28.55" height="6.06" fill="#a1cde2"/>
<rect x="445.4" y="338.88" width="28.55" height="6.06" fill="#d2e5ef"/>
<rect x="445.4" y="344.94" width="28.55" height="6.06" fill="#b8d9e9"/>
<rect x="445.4" y="350.99" width="28.55" height="6.06" fill="#b8d9e9"/>
<rect x="445.4" y="357.05" width="28.55" height="6.06" fill="#b8d9e9"/>
<rect x="445.4" y="363.1" width="28.55" height="6.06" fill="#eff2f4"/>
<rect x="445.4" y="369.16" width="28.55" height="6.06" fill="#eff2f4"/>
<rect x="445.4" y="375.22" width="28.55" height="6.06" fill="#b8d9e9"/>
<rect x="445.4" y="381.27" width="28.55" height="6.06" fill="#a1cde2"/>
<rect x="445.4" y="387.33" width="28.55" height="6.06" fill="#b8d9e9"/>
<rect x="473.95" y="308.6" width="28.55" height="6.06" fill="#eff2f4"/>
<rect x="473.95" y="314.66" width="28.55" height="6.06" fill="#c6545b"/>
<rect x="473.95" y="320.71" width="28.55" height="6.06" fill="#eff2f4"/>
<rect x="473.95" y="326.77" width="28.55" height="6.06" fill="#d2e5ef"/>
<rect x="473.95" y="332.82" width="28.55" height="6.06" fill="#d2e5ef"/>
<rect x="473.95" y="338.88" width="28.55" height="6.06" fill="#d2e5ef"/>
<rect x="473.95" y="344.94" width="28.55" height="6.06" fill="#b8d9e9"/>
<rect x="473.95" y="350.99" width="28.55" height="6.06" fill="#b8d9e9"/>
<rect x="473.95" y="357.05" width="28.55" height="6.06" fill="#eff2f4"/>
<rect x="473.95" y="363.1" width="28.55" height="6.06" fill="#d2e5ef"/>
<rect x="473.95" y="369.16" width="28.55" height="6.06" fill="#eff2f4"/>
<rect x="473.95" y="375.22" width="28.55" height="6.06" fill="#d2e5ef"/>
<rect x="473.95" y="381.27" width="28.55" height="6.06" fill="#b8d9e9"/>
<rect x="473.95" y="387.33" width="28.55" height="6.06" fill="#b8d9e9"/>
<rect x="473.95" y="393.38" width="28.55" height="6.06" fill="#b8d9e9"/>
</g>
<g stroke="#000" stroke-width="2" fill="none">
<path d="M508.6 97.3 H535.2"/>
<path d="M508.6 127.61 H535.2"/>
<path d="M508.6 157.92 H535.2"/>
<path d="M508.6 188.23 H535.2"/>
<path d="M508.6 218.54 H535.2"/>
<path d="M508.6 248.85 H535.2"/>
<path d="M508.6 311.63 H518.2 L526.4 308.7 H535.5"/>
<path d="M508.6 335.85 H518.2 L526.4 334.3 H535.5"/>
<path d="M508.6 366.13 H518.2 L526.4 360.3 H535.5"/>
<path d="M508.6 396.41 H518.2 L526.4 386.8 H535.5"/>
</g>
<g font-size="25" >
<text x="540.9" y="106.7" textLength="15" lengthAdjust="spacingAndGlyphs">5</text>
<text x="540.9" y="137.01" textLength="30" lengthAdjust="spacingAndGlyphs">10</text>
<text x="540.9" y="167.32" textLength="30" lengthAdjust="spacingAndGlyphs">15</text>
<text x="540.9" y="197.63" textLength="30" lengthAdjust="spacingAndGlyphs">20</text>
<text x="540.9" y="227.94" textLength="30" lengthAdjust="spacingAndGlyphs">25</text>
<text x="540.9" y="258.25" textLength="30" lengthAdjust="spacingAndGlyphs">30</text>
<text x="540.9" y="318.1" textLength="15" lengthAdjust="spacingAndGlyphs">1</text>
<text x="540.9" y="343.7" textLength="15" lengthAdjust="spacingAndGlyphs">5</text>
<text x="540.9" y="369.7" textLength="30" lengthAdjust="spacingAndGlyphs">10</text>
<text x="540.9" y="396.2" textLength="30" lengthAdjust="spacingAndGlyphs">15</text>
</g>
<g font-size="25" text-anchor="end" >
<text transform="translate(61.71,419.2) scale(1.08,1) rotate(-45)">8</text>
<text transform="translate(90.32,419.2) scale(1.08,1) rotate(-45)">9</text>
<text transform="translate(118.93,419.2) scale(1.08,1) rotate(-45)">10</text>
<text transform="translate(147.54,419.2) scale(1.08,1) rotate(-45)">11</text>
<text transform="translate(176.16,419.2) scale(1.08,1) rotate(-45)">12</text>
<text transform="translate(204.77,419.2) scale(1.08,1) rotate(-45)">13</text>
<text transform="translate(233.38,419.2) scale(1.08,1) rotate(-45)">14</text>
<text transform="translate(261.99,419.2) scale(1.08,1) rotate(-45)">15</text>
<text transform="translate(294.77,419.2) scale(1.08,1) rotate(-45)">8</text>
<text transform="translate(323.32,419.2) scale(1.08,1) rotate(-45)">9</text>
<text transform="translate(351.88,419.2) scale(1.08,1) rotate(-45)">10</text>
<text transform="translate(380.42,419.2) scale(1.08,1) rotate(-45)">11</text>
<text transform="translate(408.98,419.2) scale(1.08,1) rotate(-45)">12</text>
<text transform="translate(437.52,419.2) scale(1.08,1) rotate(-45)">13</text>
<text transform="translate(466.07,419.2) scale(1.08,1) rotate(-45)">14</text>
<text transform="translate(494.62,419.2) scale(1.08,1) rotate(-45)">15</text>
</g>
<text x="597.5" y="185.6" font-size="23" font-weight="bold" >Att</text>
<rect x="597.4" y="196.3" width="25.5" height="78.3" fill="url(#lg)"/>
<rect x="597.4" y="196.3" width="25.5" height="76.5" fill="none" stroke="#000" stroke-width="2.2"/>
<g stroke="#000" stroke-width="1.7">
<path d="M598 198.7 h5.3 M617 198.7 H640"/>
<path d="M598 252.2 h5.3 M617 252.2 H640"/>
<path d="M598 269.8 h5.3 M617 269.8 H640"/>
</g>
</g>
</g>
<g transform="translate(9.2,969.4)">
<text x="272" y="27.3" font-size="31" textLength="103" text-anchor="middle" >HLA−C</text>
<rect x="41" y="43.5" width="229" height="19.5" fill="#a82838" stroke="#000" stroke-width="2"/>
<rect x="274" y="43.5" width="229" height="19.5" fill="#2f6ba8" stroke="#000" stroke-width="2"/>
<text x="156.8" y="60.2" font-size="18" fill="#fff" text-anchor="middle" >Head 0</text>
<text x="389.3" y="60.2" font-size="18" fill="#fff" text-anchor="middle" >Head 1</text>
<g transform="translate(0,-1)">
<text transform="translate(25,173.8) rotate(-90) scale(1,1.05)" font-size="31.7" text-anchor="middle" >MHC Seq</text>
<text transform="translate(24.7,354.6) rotate(-90) scale(1,1.04)" font-size="31.5" text-anchor="middle" >Pep Seq</text>
<g stroke="#b8b8b8" stroke-width="2">
<rect x="41" y="70.17" width="28.61" height="6.06" fill="#8cc1dc"/>
<rect x="69.61" y="70.17" width="28.61" height="6.06" fill="#8cc1dc"/>
<rect x="98.22" y="70.17" width="28.61" height="6.06" fill="#8cc1dc"/>
<rect x="126.84" y="70.17" width="28.61" height="6.06" fill="#8cc1dc"/>
<rect x="155.45" y="70.17" width="28.61" height="6.06" fill="#7bb0d3"/>
<rect x="184.06" y="70.17" width="28.61" height="6.06" fill="#6499c7"/>
<rect x="212.67" y="70.17" width="28.61" height="6.06" fill="#6499c7"/>
<rect x="241.29" y="70.17" width="28.61" height="6.06" fill="#7bb0d3"/>
<rect x="41" y="76.23" width="28.61" height="6.06" fill="#8cc1dc"/>
<rect x="69.61" y="76.23" width="28.61" height="6.06" fill="#8cc1dc"/>
<rect x="98.22" y="76.23" width="28.61" height="6.06" fill="#8cc1dc"/>
<rect x="126.84" y="76.23" width="28.61" height="6.06" fill="#8cc1dc"/>
<rect x="155.45" y="76.23" width="28.61" height="6.06" fill="#6499c7"/>
<rect x="184.06" y="76.23" width="28.61" height="6.06" fill="#467db8"/>
<rect x="212.67" y="76.23" width="28.61" height="6.06" fill="#467db8"/>
<rect x="241.29" y="76.23" width="28.61" height="6.06" fill="#6499c7"/>
<rect x="41" y="82.28" width="28.61" height="6.06" fill="#6499c7"/>
<rect x="69.61" y="82.28" width="28.61" height="6.06" fill="#6499c7"/>
<rect x="98.22" y="82.28" width="28.61" height="6.06" fill="#2c67a9"/>
<rect x="126.84" y="82.28" width="28.61" height="6.06" fill="#2c67a9"/>
<rect x="155.45" y="82.28" width="28.61" height="6.06" fill="#2c67a9"/>
<rect x="184.06" y="82.28" width="28.61" height="6.06" fill="#2c67a9"/>
<rect x="212.67" y="82.28" width="28.61" height="6.06" fill="#2c67a9"/>
<rect x="241.29" y="82.28" width="28.61" height="6.06" fill="#2c67a9"/>
<rect x="41" y="88.34" width="28.61" height="6.06" fill="#467db8"/>
<rect x="69.61" y="88.34" width="28.61" height="6.06" fill="#467db8"/>
<rect x="98.22" y="88.34" width="28.61" height="6.06" fill="#2c67a9"/>
<rect x="126.84" y="88.34" width="28.61" height="6.06" fill="#2c67a9"/>
<rect x="155.45" y="88.34" width="28.61" height="6.06" fill="#2c67a9"/>
<rect x="184.06" y="88.34" width="28.61" height="6.06" fill="#2c67a9"/>
<rect x="212.67" y="88.34" width="28.61" height="6.06" fill="#2c67a9"/>
<rect x="241.29" y="88.34" width="28.61" height="6.06" fill="#2c67a9"/>
<rect x="41" y="94.39" width="28.61" height="6.06" fill="#7bb0d3"/>
<rect x="69.61" y="94.39" width="28.61" height="6.06" fill="#8cc1dc"/>
<rect x="98.22" y="94.39" width="28.61" height="6.06" fill="#6499c7"/>
<rect x="126.84" y="94.39" width="28.61" height="6.06" fill="#6499c7"/>
<rect x="155.45" y="94.39" width="28.61" height="6.06" fill="#6499c7"/>
<rect x="184.06" y="94.39" width="28.61" height="6.06" fill="#8cc1dc"/>
<rect x="212.67" y="94.39" width="28.61" height="6.06" fill="#6499c7"/>
<rect x="241.29" y="94.39" width="28.61" height="6.06" fill="#7bb0d3"/>
<rect x="41" y="100.45" width="28.61" height="6.06" fill="#97c7df"/>
<rect x="69.61" y="100.45" width="28.61" height="6.06" fill="#a1cde2"/>
<rect x="98.22" y="100.45" width="28.61" height="6.06" fill="#97c7df"/>
<rect x="126.84" y="100.45" width="28.61" height="6.06" fill="#97c7df"/>
<rect x="155.45" y="100.45" width="28.61" height="6.06" fill="#97c7df"/>
<rect x="184.06" y="100.45" width="28.61" height="6.06" fill="#a1cde2"/>
<rect x="212.67" y="100.45" width="28.61" height="6.06" fill="#97c7df"/>
<rect x="241.29" y="100.45" width="28.61" height="6.06" fill="#a1cde2"/>
<rect x="41" y="106.51" width="28.61" height="6.06" fill="#97c7df"/>
<rect x="69.61" y="106.51" width="28.61" height="6.06" fill="#97c7df"/>
<rect x="98.22" y="106.51" width="28.61" height="6.06" fill="#97c7df"/>
<rect x="126.84" y="106.51" width="28.61" height="6.06" fill="#97c7df"/>
<rect x="155.45" y="106.51" width="28.61" height="6.06" fill="#97c7df"/>
<rect x="184.06" y="106.51" width="28.61" height="6.06" fill="#a1cde2"/>
<rect x="212.67" y="106.51" width="28.61" height="6.06" fill="#97c7df"/>
<rect x="241.29" y="106.51" width="28.61" height="6.06" fill="#a1cde2"/>
<rect x="41" y="112.56" width="28.61" height="6.06" fill="#97c7df"/>
<rect x="69.61" y="112.56" width="28.61" height="6.06" fill="#a1cde2"/>
<rect x="98.22" y="112.56" width="28.61" height="6.06" fill="#97c7df"/>
<rect x="126.84" y="112.56" width="28.61" height="6.06" fill="#97c7df"/>
<rect x="155.45" y="112.56" width="28.61" height="6.06" fill="#a1cde2"/>
<rect x="184.06" y="112.56" width="28.61" height="6.06" fill="#a1cde2"/>
<rect x="212.67" y="112.56" width="28.61" height="6.06" fill="#a1cde2"/>
<rect x="241.29" y="112.56" width="28.61" height="6.06" fill="#a1cde2"/>
<rect x="41" y="118.62" width="28.61" height="6.06" fill="#a1cde2"/>
<rect x="69.61" y="118.62" width="28.61" height="6.06" fill="#a1cde2"/>
<rect x="98.22" y="118.62" width="28.61" height="6.06" fill="#a1cde2"/>
<rect x="126.84" y="118.62" width="28.61" height="6.06" fill="#a1cde2"/>
<rect x="155.45" y="118.62" width="28.61" height="6.06" fill="#97c7df"/>
<rect x="184.06" y="118.62" width="28.61" height="6.06" fill="#a1cde2"/>
<rect x="212.67" y="118.62" width="28.61" height="6.06" fill="#97c7df"/>
<rect x="241.29" y="118.62" width="28.61" height="6.06" fill="#a1cde2"/>
<rect x="41" y="124.67" width="28.61" height="6.06" fill="#d2e5ef"/>
<rect x="69.61" y="124.67" width="28.61" height="6.06" fill="#d2e5ef"/>
<rect x="98.22" y="124.67" width="28.61" height="6.06" fill="#d2e5ef"/>
<rect x="126.84" y="124.67" width="28.61" height="6.06" fill="#d2e5ef"/>
<rect x="155.45" y="124.67" width="28.61" height="6.06" fill="#b8d9e9"/>
<rect x="184.06" y="124.67" width="28.61" height="6.06" fill="#d2e5ef"/>
<rect x="212.67" y="124.67" width="28.61" height="6.06" fill="#d2e5ef"/>
<rect x="241.29" y="124.67" width="28.61" height="6.06" fill="#b8d9e9"/>
<rect x="41" y="130.73" width="28.61" height="6.06" fill="#b8d9e9"/>
<rect x="69.61" y="130.73" width="28.61" height="6.06" fill="#a1cde2"/>
<rect x="98.22" y="130.73" width="28.61" height="6.06" fill="#a1cde2"/>
<rect x="126.84" y="130.73" width="28.61" height="6.06" fill="#a1cde2"/>
<rect x="155.45" y="130.73" width="28.61" height="6.06" fill="#a1cde2"/>
<rect x="184.06" y="130.73" width="28.61" height="6.06" fill="#a1cde2"/>
<rect x="212.67" y="130.73" width="28.61" height="6.06" fill="#a1cde2"/>
<rect x="241.29" y="130.73" width="28.61" height="6.06" fill="#a1cde2"/>
<rect x="41" y="136.79" width="28.61" height="6.06" fill="#8cc1dc"/>
<rect x="69.61" y="136.79" width="28.61" height="6.06" fill="#8cc1dc"/>
<rect x="98.22" y="136.79" width="28.61" height="6.06" fill="#6499c7"/>
<rect x="126.84" y="136.79" width="28.61" height="6.06" fill="#6499c7"/>
<rect x="155.45" y="136.79" width="28.61" height="6.06" fill="#6499c7"/>
<rect x="184.06" y="136.79" width="28.61" height="6.06" fill="#6499c7"/>
<rect x="212.67" y="136.79" width="28.61" height="6.06" fill="#6499c7"/>
<rect x="241.29" y="136.79" width="28.61" height="6.06" fill="#7bb0d3"/>
<rect x="41" y="142.84" width="28.61" height="6.06" fill="#8cc1dc"/>
<rect x="69.61" y="142.84" width="28.61" height="6.06" fill="#8cc1dc"/>
<rect x="98.22" y="142.84" width="28.61" height="6.06" fill="#8cc1dc"/>
<rect x="126.84" y="142.84" width="28.61" height="6.06" fill="#8cc1dc"/>
<rect x="155.45" y="142.84" width="28.61" height="6.06" fill="#8cc1dc"/>
<rect x="184.06" y="142.84" width="28.61" height="6.06" fill="#8cc1dc"/>
<rect x="212.67" y="142.84" width="28.61" height="6.06" fill="#7bb0d3"/>
<rect x="241.29" y="142.84" width="28.61" height="6.06" fill="#8cc1dc"/>
<rect x="41" y="148.9" width="28.61" height="6.06" fill="#8cc1dc"/>
<rect x="69.61" y="148.9" width="28.61" height="6.06" fill="#8cc1dc"/>
<rect x="98.22" y="148.9" width="28.61" height="6.06" fill="#8cc1dc"/>
<rect x="126.84" y="148.9" width="28.61" height="6.06" fill="#8cc1dc"/>
<rect x="155.45" y="148.9" width="28.61" height="6.06" fill="#7bb0d3"/>
<rect x="184.06" y="148.9" width="28.61" height="6.06" fill="#7bb0d3"/>
<rect x="212.67" y="148.9" width="28.61" height="6.06" fill="#8cc1dc"/>
<rect x="241.29" y="148.9" width="28.61" height="6.06" fill="#7bb0d3"/>
<rect x="41" y="154.95" width="28.61" height="6.06" fill="#8cc1dc"/>
<rect x="69.61" y="154.95" width="28.61" height="6.06" fill="#8cc1dc"/>
<rect x="98.22" y="154.95" width="28.61" height="6.06" fill="#8cc1dc"/>
<rect x="126.84" y="154.95" width="28.61" height="6.06" fill="#8cc1dc"/>
<rect x="155.45" y="154.95" width="28.61" height="6.06" fill="#7bb0d3"/>
<rect x="184.06" y="154.95" width="28.61" height="6.06" fill="#7bb0d3"/>
<rect x="212.67" y="154.95" width="28.61" height="6.06" fill="#7bb0d3"/>
<rect x="241.29" y="154.95" width="28.61" height="6.06" fill="#6499c7"/>
<rect x="41" y="161.01" width="28.61" height="6.06" fill="#8cc1dc"/>
<rect x="69.61" y="161.01" width="28.61" height="6.06" fill="#8cc1dc"/>
<rect x="98.22" y="161.01" width="28.61" height="6.06" fill="#8cc1dc"/>
<rect x="126.84" y="161.01" width="28.61" height="6.06" fill="#a1cde2"/>
<rect x="155.45" y="161.01" width="28.61" height="6.06" fill="#8cc1dc"/>
<rect x="184.06" y="161.01" width="28.61" height="6.06" fill="#8cc1dc"/>
<rect x="212.67" y="161.01" width="28.61" height="6.06" fill="#8cc1dc"/>
<rect x="241.29" y="161.01" width="28.61" height="6.06" fill="#8cc1dc"/>
<rect x="41" y="167.07" width="28.61" height="6.06" fill="#8cc1dc"/>
<rect x="69.61" y="167.07" width="28.61" height="6.06" fill="#8cc1dc"/>
<rect x="98.22" y="167.07" width="28.61" height="6.06" fill="#8cc1dc"/>
<rect x="126.84" y="167.07" width="28.61" height="6.06" fill="#7bb0d3"/>
<rect x="155.45" y="167.07" width="28.61" height="6.06" fill="#7bb0d3"/>
<rect x="184.06" y="167.07" width="28.61" height="6.06" fill="#8cc1dc"/>
<rect x="212.67" y="167.07" width="28.61" height="6.06" fill="#8cc1dc"/>
<rect x="241.29" y="167.07" width="28.61" height="6.06" fill="#6499c7"/>
<rect x="41" y="173.12" width="28.61" height="6.06" fill="#d2e5ef"/>
<rect x="69.61" y="173.12" width="28.61" height="6.06" fill="#b8d9e9"/>
<rect x="98.22" y="173.12" width="28.61" height="6.06" fill="#d2e5ef"/>
<rect x="126.84" y="173.12" width="28.61" height="6.06" fill="#b8d9e9"/>
<rect x="155.45" y="173.12" width="28.61" height="6.06" fill="#b8d9e9"/>
<rect x="184.06" y="173.12" width="28.61" height="6.06" fill="#b8d9e9"/>
<rect x="212.67" y="173.12" width="28.61" height="6.06" fill="#d2e5ef"/>
<rect x="241.29" y="173.12" width="28.61" height="6.06" fill="#a1cde2"/>
<rect x="41" y="179.18" width="28.61" height="6.06" fill="#a1cde2"/>
<rect x="69.61" y="179.18" width="28.61" height="6.06" fill="#97c7df"/>
<rect x="98.22" y="179.18" width="28.61" height="6.06" fill="#a1cde2"/>
<rect x="126.84" y="179.18" width="28.61" height="6.06" fill="#97c7df"/>
<rect x="155.45" y="179.18" width="28.61" height="6.06" fill="#97c7df"/>
<rect x="184.06" y="179.18" width="28.61" height="6.06" fill="#97c7df"/>
<rect x="212.67" y="179.18" width="28.61" height="6.06" fill="#97c7df"/>
<rect x="241.29" y="179.18" width="28.61" height="6.06" fill="#97c7df"/>
<rect x="41" y="185.23" width="28.61" height="6.06" fill="#b8d9e9"/>
<rect x="69.61" y="185.23" width="28.61" height="6.06" fill="#a1cde2"/>
<rect x="98.22" y="185.23" width="28.61" height="6.06" fill="#b8d9e9"/>
<rect x="126.84" y="185.23" width="28.61" height="6.06" fill="#b8d9e9"/>
<rect x="155.45" y="185.23" width="28.61" height="6.06" fill="#a1cde2"/>
<rect x="184.06" y="185.23" width="28.61" height="6.06" fill="#b8d9e9"/>
<rect x="212.67" y="185.23" width="28.61" height="6.06" fill="#b8d9e9"/>
<rect x="241.29" y="185.23" width="28.61" height="6.06" fill="#a1cde2"/>
<rect x="41" y="191.29" width="28.61" height="6.06" fill="#a1cde2"/>
<rect x="69.61" y="191.29" width="28.61" height="6.06" fill="#a1cde2"/>
<rect x="98.22" y="191.29" width="28.61" height="6.06" fill="#a1cde2"/>
<rect x="126.84" y="191.29" width="28.61" height="6.06" fill="#97c7df"/>
<rect x="155.45" y="191.29" width="28.61" height="6.06" fill="#a1cde2"/>
<rect x="184.06" y="191.29" width="28.61" height="6.06" fill="#a1cde2"/>
<rect x="212.67" y="191.29" width="28.61" height="6.06" fill="#a1cde2"/>
<rect x="241.29" y="191.29" width="28.61" height="6.06" fill="#97c7df"/>
<rect x="41" y="197.35" width="28.61" height="6.06" fill="#b8d9e9"/>
<rect x="69.61" y="197.35" width="28.61" height="6.06" fill="#a1cde2"/>
<rect x="98.22" y="197.35" width="28.61" height="6.06" fill="#97c7df"/>
<rect x="126.84" y="197.35" width="28.61" height="6.06" fill="#97c7df"/>
<rect x="155.45" y="197.35" width="28.61" height="6.06" fill="#97c7df"/>
<rect x="184.06" y="197.35" width="28.61" height="6.06" fill="#a1cde2"/>
<rect x="212.67" y="197.35" width="28.61" height="6.06" fill="#97c7df"/>
<rect x="241.29" y="197.35" width="28.61" height="6.06" fill="#97c7df"/>
<rect x="41" y="203.4" width="28.61" height="6.06" fill="#a1cde2"/>
<rect x="69.61" y="203.4" width="28.61" height="6.06" fill="#a1cde2"/>
<rect x="98.22" y="203.4" width="28.61" height="6.06" fill="#a1cde2"/>
<rect x="126.84" y="203.4" width="28.61" height="6.06" fill="#a1cde2"/>
<rect x="155.45" y="203.4" width="28.61" height="6.06" fill="#97c7df"/>
<rect x="184.06" y="203.4" width="28.61" height="6.06" fill="#97c7df"/>
<rect x="212.67" y="203.4" width="28.61" height="6.06" fill="#97c7df"/>
<rect x="241.29" y="203.4" width="28.61" height="6.06" fill="#97c7df"/>
<rect x="41" y="209.46" width="28.61" height="6.06" fill="#b8d9e9"/>
<rect x="69.61" y="209.46" width="28.61" height="6.06" fill="#b8d9e9"/>
<rect x="98.22" y="209.46" width="28.61" height="6.06" fill="#b8d9e9"/>
<rect x="126.84" y="209.46" width="28.61" height="6.06" fill="#a1cde2"/>
<rect x="155.45" y="209.46" width="28.61" height="6.06" fill="#b8d9e9"/>
<rect x="184.06" y="209.46" width="28.61" height="6.06" fill="#d2e5ef"/>
<rect x="212.67" y="209.46" width="28.61" height="6.06" fill="#a1cde2"/>
<rect x="241.29" y="209.46" width="28.61" height="6.06" fill="#d2e5ef"/>
<rect x="41" y="215.51" width="28.61" height="6.06" fill="#a1cde2"/>
<rect x="69.61" y="215.51" width="28.61" height="6.06" fill="#a1cde2"/>
<rect x="98.22" y="215.51" width="28.61" height="6.06" fill="#97c7df"/>
<rect x="126.84" y="215.51" width="28.61" height="6.06" fill="#7bb0d3"/>
<rect x="155.45" y="215.51" width="28.61" height="6.06" fill="#97c7df"/>
<rect x="184.06" y="215.51" width="28.61" height="6.06" fill="#97c7df"/>
<rect x="212.67" y="215.51" width="28.61" height="6.06" fill="#7bb0d3"/>
<rect x="241.29" y="215.51" width="28.61" height="6.06" fill="#97c7df"/>
<rect x="41" y="221.57" width="28.61" height="6.06" fill="#a1cde2"/>
<rect x="69.61" y="221.57" width="28.61" height="6.06" fill="#a1cde2"/>
<rect x="98.22" y="221.57" width="28.61" height="6.06" fill="#a1cde2"/>
<rect x="126.84" y="221.57" width="28.61" height="6.06" fill="#97c7df"/>
<rect x="155.45" y="221.57" width="28.61" height="6.06" fill="#97c7df"/>
<rect x="184.06" y="221.57" width="28.61" height="6.06" fill="#97c7df"/>
<rect x="212.67" y="221.57" width="28.61" height="6.06" fill="#97c7df"/>
<rect x="241.29" y="221.57" width="28.61" height="6.06" fill="#97c7df"/>
<rect x="41" y="227.63" width="28.61" height="6.06" fill="#7bb0d3"/>
<rect x="69.61" y="227.63" width="28.61" height="6.06" fill="#6499c7"/>
<rect x="98.22" y="227.63" width="28.61" height="6.06" fill="#2c67a9"/>
<rect x="126.84" y="227.63" width="28.61" height="6.06" fill="#2c67a9"/>
<rect x="155.45" y="227.63" width="28.61" height="6.06" fill="#6499c7"/>
<rect x="184.06" y="227.63" width="28.61" height="6.06" fill="#6499c7"/>
<rect x="212.67" y="227.63" width="28.61" height="6.06" fill="#2c67a9"/>
<rect x="241.29" y="227.63" width="28.61" height="6.06" fill="#2c67a9"/>
<rect x="41" y="233.68" width="28.61" height="6.06" fill="#8cc1dc"/>
<rect x="69.61" y="233.68" width="28.61" height="6.06" fill="#8cc1dc"/>
<rect x="98.22" y="233.68" width="28.61" height="6.06" fill="#8cc1dc"/>
<rect x="126.84" y="233.68" width="28.61" height="6.06" fill="#467db8"/>
<rect x="155.45" y="233.68" width="28.61" height="6.06" fill="#8cc1dc"/>
<rect x="184.06" y="233.68" width="28.61" height="6.06" fill="#8cc1dc"/>
<rect x="212.67" y="233.68" width="28.61" height="6.06" fill="#6499c7"/>
<rect x="241.29" y="233.68" width="28.61" height="6.06" fill="#6499c7"/>
<rect x="41" y="239.74" width="28.61" height="6.06" fill="#b8d9e9"/>
<rect x="69.61" y="239.74" width="28.61" height="6.06" fill="#a1cde2"/>
<rect x="98.22" y="239.74" width="28.61" height="6.06" fill="#a1cde2"/>
<rect x="126.84" y="239.74" width="28.61" height="6.06" fill="#a1cde2"/>
<rect x="155.45" y="239.74" width="28.61" height="6.06" fill="#b8d9e9"/>
<rect x="184.06" y="239.74" width="28.61" height="6.06" fill="#a1cde2"/>
<rect x="212.67" y="239.74" width="28.61" height="6.06" fill="#a1cde2"/>
<rect x="241.29" y="239.74" width="28.61" height="6.06" fill="#a1cde2"/>
<rect x="41" y="245.79" width="28.61" height="6.06" fill="#7bb0d3"/>
<rect x="69.61" y="245.79" width="28.61" height="6.06" fill="#8cc1dc"/>
<rect x="98.22" y="245.79" width="28.61" height="6.06" fill="#8cc1dc"/>
<rect x="126.84" y="245.79" width="28.61" height="6.06" fill="#7bb0d3"/>
<rect x="155.45" y="245.79" width="28.61" height="6.06" fill="#7bb0d3"/>
<rect x="184.06" y="245.79" width="28.61" height="6.06" fill="#8cc1dc"/>
<rect x="212.67" y="245.79" width="28.61" height="6.06" fill="#8cc1dc"/>
<rect x="241.29" y="245.79" width="28.61" height="6.06" fill="#8cc1dc"/>
<rect x="41" y="251.85" width="28.61" height="6.06" fill="#a1cde2"/>
<rect x="69.61" y="251.85" width="28.61" height="6.06" fill="#a1cde2"/>
<rect x="98.22" y="251.85" width="28.61" height="6.06" fill="#a1cde2"/>
<rect x="126.84" y="251.85" width="28.61" height="6.06" fill="#a1cde2"/>
<rect x="155.45" y="251.85" width="28.61" height="6.06" fill="#b8d9e9"/>
<rect x="184.06" y="251.85" width="28.61" height="6.06" fill="#b8d9e9"/>
<rect x="212.67" y="251.85" width="28.61" height="6.06" fill="#b8d9e9"/>
<rect x="241.29" y="251.85" width="28.61" height="6.06" fill="#b8d9e9"/>
<rect x="41" y="257.91" width="28.61" height="6.06" fill="#7bb0d3"/>
<rect x="69.61" y="257.91" width="28.61" height="6.06" fill="#7bb0d3"/>
<rect x="98.22" y="257.91" width="28.61" height="6.06" fill="#6499c7"/>
<rect x="126.84" y="257.91" width="28.61" height="6.06" fill="#467db8"/>
<rect x="155.45" y="257.91" width="28.61" height="6.06" fill="#7bb0d3"/>
<rect x="184.06" y="257.91" width="28.61" height="6.06" fill="#8cc1dc"/>
<rect x="212.67" y="257.91" width="28.61" height="6.06" fill="#8cc1dc"/>
<rect x="241.29" y="257.91" width="28.61" height="6.06" fill="#8cc1dc"/>
<rect x="41" y="263.96" width="28.61" height="6.06" fill="#a1cde2"/>
<rect x="69.61" y="263.96" width="28.61" height="6.06" fill="#a1cde2"/>
<rect x="98.22" y="263.96" width="28.61" height="6.06" fill="#a1cde2"/>
<rect x="126.84" y="263.96" width="28.61" height="6.06" fill="#a1cde2"/>
<rect x="155.45" y="263.96" width="28.61" height="6.06" fill="#a1cde2"/>
<rect x="184.06" y="263.96" width="28.61" height="6.06" fill="#b8d9e9"/>
<rect x="212.67" y="263.96" width="28.61" height="6.06" fill="#b8d9e9"/>
<rect x="241.29" y="263.96" width="28.61" height="6.06" fill="#a1cde2"/>
<rect x="41" y="270.02" width="28.61" height="6.06" fill="#b8d9e9"/>
<rect x="69.61" y="270.02" width="28.61" height="6.06" fill="#b8d9e9"/>
<rect x="98.22" y="270.02" width="28.61" height="6.06" fill="#d2e5ef"/>
<rect x="126.84" y="270.02" width="28.61" height="6.06" fill="#b8d9e9"/>
<rect x="155.45" y="270.02" width="28.61" height="6.06" fill="#b8d9e9"/>
<rect x="184.06" y="270.02" width="28.61" height="6.06" fill="#b8d9e9"/>
<rect x="212.67" y="270.02" width="28.61" height="6.06" fill="#d2e5ef"/>
<rect x="241.29" y="270.02" width="28.61" height="6.06" fill="#b8d9e9"/>
<rect x="41" y="308.6" width="28.61" height="6.06" fill="#a1cde2"/>
<rect x="41" y="314.66" width="28.61" height="6.06" fill="#b8d9e9"/>
<rect x="41" y="320.71" width="28.61" height="6.06" fill="#a1cde2"/>
<rect x="41" y="326.77" width="28.61" height="6.06" fill="#a1cde2"/>
<rect x="41" y="332.82" width="28.61" height="6.06" fill="#a1cde2"/>
<rect x="41" y="338.88" width="28.61" height="6.06" fill="#a1cde2"/>
<rect x="41" y="344.94" width="28.61" height="6.06" fill="#d2e5ef"/>
<rect x="41" y="350.99" width="28.61" height="6.06" fill="#ab2939"/>
<rect x="69.61" y="308.6" width="28.61" height="6.06" fill="#8cc1dc"/>
<rect x="69.61" y="314.66" width="28.61" height="6.06" fill="#d2e5ef"/>
<rect x="69.61" y="320.71" width="28.61" height="6.06" fill="#a1cde2"/>
<rect x="69.61" y="326.77" width="28.61" height="6.06" fill="#8cc1dc"/>
<rect x="69.61" y="332.82" width="28.61" height="6.06" fill="#8cc1dc"/>
<rect x="69.61" y="338.88" width="28.61" height="6.06" fill="#a1cde2"/>
<rect x="69.61" y="344.94" width="28.61" height="6.06" fill="#b8d9e9"/>
<rect x="69.61" y="350.99" width="28.61" height="6.06" fill="#eff2f4"/>
<rect x="69.61" y="357.05" width="28.61" height="6.06" fill="#ab2939"/>
<rect x="98.22" y="308.6" width="28.61" height="6.06" fill="#8cc1dc"/>
<rect x="98.22" y="314.66" width="28.61" height="6.06" fill="#b8d9e9"/>
<rect x="98.22" y="320.71" width="28.61" height="6.06" fill="#a1cde2"/>
<rect x="98.22" y="326.77" width="28.61" height="6.06" fill="#a1cde2"/>
<rect x="98.22" y="332.82" width="28.61" height="6.06" fill="#8cc1dc"/>
<rect x="98.22" y="338.88" width="28.61" height="6.06" fill="#a1cde2"/>
<rect x="98.22" y="344.94" width="28.61" height="6.06" fill="#a1cde2"/>
<rect x="98.22" y="350.99" width="28.61" height="6.06" fill="#b8d9e9"/>
<rect x="98.22" y="357.05" width="28.61" height="6.06" fill="#eff2f4"/>
<rect x="98.22" y="363.1" width="28.61" height="6.06" fill="#ab2939"/>
<rect x="126.84" y="308.6" width="28.61" height="6.06" fill="#8cc1dc"/>
<rect x="126.84" y="314.66" width="28.61" height="6.06" fill="#d2e5ef"/>
<rect x="126.84" y="320.71" width="28.61" height="6.06" fill="#b8d9e9"/>
<rect x="126.84" y="326.77" width="28.61" height="6.06" fill="#8cc1dc"/>
<rect x="126.84" y="332.82" width="28.61" height="6.06" fill="#8cc1dc"/>
<rect x="126.84" y="338.88" width="28.61" height="6.06" fill="#a1cde2"/>
<rect x="126.84" y="344.94" width="28.61" height="6.06" fill="#a1cde2"/>
<rect x="126.84" y="350.99" width="28.61" height="6.06" fill="#a1cde2"/>
<rect x="126.84" y="357.05" width="28.61" height="6.06" fill="#d2e5ef"/>
<rect x="126.84" y="363.1" width="28.61" height="6.06" fill="#eff2f4"/>
<rect x="126.84" y="369.16" width="28.61" height="6.06" fill="#ab2939"/>
<rect x="155.45" y="308.6" width="28.61" height="6.06" fill="#8cc1dc"/>
<rect x="155.45" y="314.66" width="28.61" height="6.06" fill="#d2e5ef"/>
<rect x="155.45" y="320.71" width="28.61" height="6.06" fill="#d2e5ef"/>
<rect x="155.45" y="326.77" width="28.61" height="6.06" fill="#a1cde2"/>
<rect x="155.45" y="332.82" width="28.61" height="6.06" fill="#a1cde2"/>
<rect x="155.45" y="338.88" width="28.61" height="6.06" fill="#a1cde2"/>
<rect x="155.45" y="344.94" width="28.61" height="6.06" fill="#a1cde2"/>
<rect x="155.45" y="350.99" width="28.61" height="6.06" fill="#a1cde2"/>
<rect x="155.45" y="357.05" width="28.61" height="6.06" fill="#d2e5ef"/>
<rect x="155.45" y="363.1" width="28.61" height="6.06" fill="#eff2f4"/>
<rect x="155.45" y="369.16" width="28.61" height="6.06" fill="#f5d8d5"/>
<rect x="155.45" y="375.22" width="28.61" height="6.06" fill="#ab2939"/>
<rect x="184.06" y="308.6" width="28.61" height="6.06" fill="#8cc1dc"/>
<rect x="184.06" y="314.66" width="28.61" height="6.06" fill="#a1cde2"/>
<rect x="184.06" y="320.71" width="28.61" height="6.06" fill="#a1cde2"/>
<rect x="184.06" y="326.77" width="28.61" height="6.06" fill="#a1cde2"/>
<rect x="184.06" y="332.82" width="28.61" height="6.06" fill="#a1cde2"/>
<rect x="184.06" y="338.88" width="28.61" height="6.06" fill="#8cc1dc"/>
<rect x="184.06" y="344.94" width="28.61" height="6.06" fill="#b8d9e9"/>
<rect x="184.06" y="350.99" width="28.61" height="6.06" fill="#a1cde2"/>
<rect x="184.06" y="357.05" width="28.61" height="6.06" fill="#a1cde2"/>
<rect x="184.06" y="363.1" width="28.61" height="6.06" fill="#b8d9e9"/>
<rect x="184.06" y="369.16" width="28.61" height="6.06" fill="#b8d9e9"/>
<rect x="184.06" y="375.22" width="28.61" height="6.06" fill="#eff2f4"/>
<rect x="184.06" y="381.27" width="28.61" height="6.06" fill="#ab2939"/>
<rect x="212.67" y="308.6" width="28.61" height="6.06" fill="#a1cde2"/>
<rect x="212.67" y="314.66" width="28.61" height="6.06" fill="#d2e5ef"/>
<rect x="212.67" y="320.71" width="28.61" height="6.06" fill="#a1cde2"/>
<rect x="212.67" y="326.77" width="28.61" height="6.06" fill="#a1cde2"/>
<rect x="212.67" y="332.82" width="28.61" height="6.06" fill="#a1cde2"/>
<rect x="212.67" y="338.88" width="28.61" height="6.06" fill="#8cc1dc"/>
<rect x="212.67" y="344.94" width="28.61" height="6.06" fill="#a1cde2"/>
<rect x="212.67" y="350.99" width="28.61" height="6.06" fill="#b8d9e9"/>
<rect x="212.67" y="357.05" width="28.61" height="6.06" fill="#d2e5ef"/>
<rect x="212.67" y="363.1" width="28.61" height="6.06" fill="#d2e5ef"/>
<rect x="212.67" y="369.16" width="28.61" height="6.06" fill="#d2e5ef"/>
<rect x="212.67" y="375.22" width="28.61" height="6.06" fill="#d2e5ef"/>
<rect x="212.67" y="381.27" width="28.61" height="6.06" fill="#eaaaa9"/>
<rect x="212.67" y="387.33" width="28.61" height="6.06" fill="#ab2939"/>
<rect x="241.29" y="308.6" width="28.61" height="6.06" fill="#a1cde2"/>
<rect x="241.29" y="314.66" width="28.61" height="6.06" fill="#b8d9e9"/>
<rect x="241.29" y="320.71" width="28.61" height="6.06" fill="#d2e5ef"/>
<rect x="241.29" y="326.77" width="28.61" height="6.06" fill="#8cc1dc"/>
<rect x="241.29" y="332.82" width="28.61" height="6.06" fill="#8cc1dc"/>
<rect x="241.29" y="338.88" width="28.61" height="6.06" fill="#8cc1dc"/>
<rect x="241.29" y="344.94" width="28.61" height="6.06" fill="#a1cde2"/>
<rect x="241.29" y="350.99" width="28.61" height="6.06" fill="#b8d9e9"/>
<rect x="241.29" y="357.05" width="28.61" height="6.06" fill="#b8d9e9"/>
<rect x="241.29" y="363.1" width="28.61" height="6.06" fill="#b8d9e9"/>
<rect x="241.29" y="369.16" width="28.61" height="6.06" fill="#a1cde2"/>
<rect x="241.29" y="375.22" width="28.61" height="6.06" fill="#d2e5ef"/>
<rect x="241.29" y="381.27" width="28.61" height="6.06" fill="#d2e5ef"/>
<rect x="241.29" y="387.33" width="28.61" height="6.06" fill="#f5d8d5"/>
<rect x="241.29" y="393.38" width="28.61" height="6.06" fill="#ab2939"/>
<rect x="274.1" y="70.17" width="28.55" height="6.06" fill="#7bb0d3"/>
<rect x="302.65" y="70.17" width="28.55" height="6.06" fill="#8cc1dc"/>
<rect x="331.2" y="70.17" width="28.55" height="6.06" fill="#7bb0d3"/>
<rect x="359.75" y="70.17" width="28.55" height="6.06" fill="#7bb0d3"/>
<rect x="388.3" y="70.17" width="28.55" height="6.06" fill="#8cc1dc"/>
<rect x="416.85" y="70.17" width="28.55" height="6.06" fill="#7bb0d3"/>
<rect x="445.4" y="70.17" width="28.55" height="6.06" fill="#7bb0d3"/>
<rect x="473.95" y="70.17" width="28.55" height="6.06" fill="#6499c7"/>
<rect x="274.1" y="76.23" width="28.55" height="6.06" fill="#2c67a9"/>
<rect x="302.65" y="76.23" width="28.55" height="6.06" fill="#8cc1dc"/>
<rect x="331.2" y="76.23" width="28.55" height="6.06" fill="#2c67a9"/>
<rect x="359.75" y="76.23" width="28.55" height="6.06" fill="#2c67a9"/>
<rect x="388.3" y="76.23" width="28.55" height="6.06" fill="#2c67a9"/>
<rect x="416.85" y="76.23" width="28.55" height="6.06" fill="#2c67a9"/>
<rect x="445.4" y="76.23" width="28.55" height="6.06" fill="#2c67a9"/>
<rect x="473.95" y="76.23" width="28.55" height="6.06" fill="#2c67a9"/>
<rect x="274.1" y="82.28" width="28.55" height="6.06" fill="#d2e5ef"/>
<rect x="302.65" y="82.28" width="28.55" height="6.06" fill="#eff2f4"/>
<rect x="331.2" y="82.28" width="28.55" height="6.06" fill="#d2e5ef"/>
<rect x="359.75" y="82.28" width="28.55" height="6.06" fill="#d2e5ef"/>
<rect x="388.3" y="82.28" width="28.55" height="6.06" fill="#d2e5ef"/>
<rect x="416.85" y="82.28" width="28.55" height="6.06" fill="#d2e5ef"/>
<rect x="445.4" y="82.28" width="28.55" height="6.06" fill="#d2e5ef"/>
<rect x="473.95" y="82.28" width="28.55" height="6.06" fill="#d2e5ef"/>
<rect x="274.1" y="88.34" width="28.55" height="6.06" fill="#a1cde2"/>
<rect x="302.65" y="88.34" width="28.55" height="6.06" fill="#8cc1dc"/>
<rect x="331.2" y="88.34" width="28.55" height="6.06" fill="#a1cde2"/>
<rect x="359.75" y="88.34" width="28.55" height="6.06" fill="#a1cde2"/>
<rect x="388.3" y="88.34" width="28.55" height="6.06" fill="#8cc1dc"/>
<rect x="416.85" y="88.34" width="28.55" height="6.06" fill="#8cc1dc"/>
<rect x="445.4" y="88.34" width="28.55" height="6.06" fill="#8cc1dc"/>
<rect x="473.95" y="88.34" width="28.55" height="6.06" fill="#a1cde2"/>
<rect x="274.1" y="94.39" width="28.55" height="6.06" fill="#2c67a9"/>
<rect x="302.65" y="94.39" width="28.55" height="6.06" fill="#7bb0d3"/>
<rect x="331.2" y="94.39" width="28.55" height="6.06" fill="#467db8"/>
<rect x="359.75" y="94.39" width="28.55" height="6.06" fill="#2c67a9"/>
<rect x="388.3" y="94.39" width="28.55" height="6.06" fill="#2c67a9"/>
<rect x="416.85" y="94.39" width="28.55" height="6.06" fill="#2c67a9"/>
<rect x="445.4" y="94.39" width="28.55" height="6.06" fill="#2c67a9"/>
<rect x="473.95" y="94.39" width="28.55" height="6.06" fill="#2c67a9"/>
<rect x="274.1" y="100.45" width="28.55" height="6.06" fill="#2c67a9"/>
<rect x="302.65" y="100.45" width="28.55" height="6.06" fill="#a1cde2"/>
<rect x="331.2" y="100.45" width="28.55" height="6.06" fill="#2c67a9"/>
<rect x="359.75" y="100.45" width="28.55" height="6.06" fill="#2c67a9"/>
<rect x="388.3" y="100.45" width="28.55" height="6.06" fill="#2c67a9"/>
<rect x="416.85" y="100.45" width="28.55" height="6.06" fill="#2c67a9"/>
<rect x="445.4" y="100.45" width="28.55" height="6.06" fill="#2c67a9"/>
<rect x="473.95" y="100.45" width="28.55" height="6.06" fill="#2c67a9"/>
<rect x="274.1" y="106.51" width="28.55" height="6.06" fill="#2c67a9"/>
<rect x="302.65" y="106.51" width="28.55" height="6.06" fill="#a1cde2"/>
<rect x="331.2" y="106.51" width="28.55" height="6.06" fill="#2c67a9"/>
<rect x="359.75" y="106.51" width="28.55" height="6.06" fill="#2c67a9"/>
<rect x="388.3" y="106.51" width="28.55" height="6.06" fill="#2c67a9"/>
<rect x="416.85" y="106.51" width="28.55" height="6.06" fill="#2c67a9"/>
<rect x="445.4" y="106.51" width="28.55" height="6.06" fill="#2c67a9"/>
<rect x="473.95" y="106.51" width="28.55" height="6.06" fill="#2c67a9"/>
<rect x="274.1" y="112.56" width="28.55" height="6.06" fill="#2c67a9"/>
<rect x="302.65" y="112.56" width="28.55" height="6.06" fill="#a1cde2"/>
<rect x="331.2" y="112.56" width="28.55" height="6.06" fill="#2c67a9"/>
<rect x="359.75" y="112.56" width="28.55" height="6.06" fill="#2c67a9"/>
<rect x="388.3" y="112.56" width="28.55" height="6.06" fill="#2c67a9"/>
<rect x="416.85" y="112.56" width="28.55" height="6.06" fill="#2c67a9"/>
<rect x="445.4" y="112.56" width="28.55" height="6.06" fill="#2c67a9"/>
<rect x="473.95" y="112.56" width="28.55" height="6.06" fill="#2c67a9"/>
<rect x="274.1" y="118.62" width="28.55" height="6.06" fill="#2c67a9"/>
<rect x="302.65" y="118.62" width="28.55" height="6.06" fill="#a1cde2"/>
<rect x="331.2" y="118.62" width="28.55" height="6.06" fill="#467db8"/>
<rect x="359.75" y="118.62" width="28.55" height="6.06" fill="#467db8"/>
<rect x="388.3" y="118.62" width="28.55" height="6.06" fill="#467db8"/>
<rect x="416.85" y="118.62" width="28.55" height="6.06" fill="#467db8"/>
<rect x="445.4" y="118.62" width="28.55" height="6.06" fill="#467db8"/>
<rect x="473.95" y="118.62" width="28.55" height="6.06" fill="#467db8"/>
<rect x="274.1" y="124.67" width="28.55" height="6.06" fill="#2c67a9"/>
<rect x="302.65" y="124.67" width="28.55" height="6.06" fill="#d2e5ef"/>
<rect x="331.2" y="124.67" width="28.55" height="6.06" fill="#2c67a9"/>
<rect x="359.75" y="124.67" width="28.55" height="6.06" fill="#2c67a9"/>
<rect x="388.3" y="124.67" width="28.55" height="6.06" fill="#2c67a9"/>
<rect x="416.85" y="124.67" width="28.55" height="6.06" fill="#2c67a9"/>
<rect x="445.4" y="124.67" width="28.55" height="6.06" fill="#2c67a9"/>
<rect x="473.95" y="124.67" width="28.55" height="6.06" fill="#2c67a9"/>
<rect x="274.1" y="130.73" width="28.55" height="6.06" fill="#2c67a9"/>
<rect x="302.65" y="130.73" width="28.55" height="6.06" fill="#a1cde2"/>
<rect x="331.2" y="130.73" width="28.55" height="6.06" fill="#2c67a9"/>
<rect x="359.75" y="130.73" width="28.55" height="6.06" fill="#467db8"/>
<rect x="388.3" y="130.73" width="28.55" height="6.06" fill="#467db8"/>
<rect x="416.85" y="130.73" width="28.55" height="6.06" fill="#467db8"/>
<rect x="445.4" y="130.73" width="28.55" height="6.06" fill="#2c67a9"/>
<rect x="473.95" y="130.73" width="28.55" height="6.06" fill="#467db8"/>
<rect x="274.1" y="136.79" width="28.55" height="6.06" fill="#b8d9e9"/>
<rect x="302.65" y="136.79" width="28.55" height="6.06" fill="#b8d9e9"/>
<rect x="331.2" y="136.79" width="28.55" height="6.06" fill="#b8d9e9"/>
<rect x="359.75" y="136.79" width="28.55" height="6.06" fill="#d2e5ef"/>
<rect x="388.3" y="136.79" width="28.55" height="6.06" fill="#d2e5ef"/>
<rect x="416.85" y="136.79" width="28.55" height="6.06" fill="#d2e5ef"/>
<rect x="445.4" y="136.79" width="28.55" height="6.06" fill="#b8d9e9"/>
<rect x="473.95" y="136.79" width="28.55" height="6.06" fill="#d2e5ef"/>
<rect x="274.1" y="142.84" width="28.55" height="6.06" fill="#467db8"/>
<rect x="302.65" y="142.84" width="28.55" height="6.06" fill="#8cc1dc"/>
<rect x="331.2" y="142.84" width="28.55" height="6.06" fill="#467db8"/>
<rect x="359.75" y="142.84" width="28.55" height="6.06" fill="#467db8"/>
<rect x="388.3" y="142.84" width="28.55" height="6.06" fill="#467db8"/>
<rect x="416.85" y="142.84" width="28.55" height="6.06" fill="#6499c7"/>
<rect x="445.4" y="142.84" width="28.55" height="6.06" fill="#467db8"/>
<rect x="473.95" y="142.84" width="28.55" height="6.06" fill="#6499c7"/>
<rect x="274.1" y="148.9" width="28.55" height="6.06" fill="#ab2939"/>
<rect x="302.65" y="148.9" width="28.55" height="6.06" fill="#c6545b"/>
<rect x="331.2" y="148.9" width="28.55" height="6.06" fill="#ab2939"/>
<rect x="359.75" y="148.9" width="28.55" height="6.06" fill="#ab2939"/>
<rect x="388.3" y="148.9" width="28.55" height="6.06" fill="#ab2939"/>
<rect x="416.85" y="148.9" width="28.55" height="6.06" fill="#ab2939"/>
<rect x="445.4" y="148.9" width="28.55" height="6.06" fill="#ab2939"/>
<rect x="473.95" y="148.9" width="28.55" height="6.06" fill="#ab2939"/>
<rect x="274.1" y="154.95" width="28.55" height="6.06" fill="#8cc1dc"/>
<rect x="302.65" y="154.95" width="28.55" height="6.06" fill="#8cc1dc"/>
<rect x="331.2" y="154.95" width="28.55" height="6.06" fill="#8cc1dc"/>
<rect x="359.75" y="154.95" width="28.55" height="6.06" fill="#8cc1dc"/>
<rect x="388.3" y="154.95" width="28.55" height="6.06" fill="#8cc1dc"/>
<rect x="416.85" y="154.95" width="28.55" height="6.06" fill="#8cc1dc"/>
<rect x="445.4" y="154.95" width="28.55" height="6.06" fill="#8cc1dc"/>
<rect x="473.95" y="154.95" width="28.55" height="6.06" fill="#8cc1dc"/>
<rect x="274.1" y="161.01" width="28.55" height="6.06" fill="#2c67a9"/>
<rect x="302.65" y="161.01" width="28.55" height="6.06" fill="#8cc1dc"/>
<rect x="331.2" y="161.01" width="28.55" height="6.06" fill="#2c67a9"/>
<rect x="359.75" y="161.01" width="28.55" height="6.06" fill="#2c67a9"/>
<rect x="388.3" y="161.01" width="28.55" height="6.06" fill="#467db8"/>
<rect x="416.85" y="161.01" width="28.55" height="6.06" fill="#467db8"/>
<rect x="445.4" y="161.01" width="28.55" height="6.06" fill="#467db8"/>
<rect x="473.95" y="161.01" width="28.55" height="6.06" fill="#2c67a9"/>
<rect x="274.1" y="167.07" width="28.55" height="6.06" fill="#8cc1dc"/>
<rect x="302.65" y="167.07" width="28.55" height="6.06" fill="#a1cde2"/>
<rect x="331.2" y="167.07" width="28.55" height="6.06" fill="#8cc1dc"/>
<rect x="359.75" y="167.07" width="28.55" height="6.06" fill="#a1cde2"/>
<rect x="388.3" y="167.07" width="28.55" height="6.06" fill="#8cc1dc"/>
<rect x="416.85" y="167.07" width="28.55" height="6.06" fill="#8cc1dc"/>
<rect x="445.4" y="167.07" width="28.55" height="6.06" fill="#8cc1dc"/>
<rect x="473.95" y="167.07" width="28.55" height="6.06" fill="#8cc1dc"/>
<rect x="274.1" y="173.12" width="28.55" height="6.06" fill="#2c67a9"/>
<rect x="302.65" y="173.12" width="28.55" height="6.06" fill="#b8d9e9"/>
<rect x="331.2" y="173.12" width="28.55" height="6.06" fill="#2c67a9"/>
<rect x="359.75" y="173.12" width="28.55" height="6.06" fill="#2c67a9"/>
<rect x="388.3" y="173.12" width="28.55" height="6.06" fill="#2c67a9"/>
<rect x="416.85" y="173.12" width="28.55" height="6.06" fill="#2c67a9"/>
<rect x="445.4" y="173.12" width="28.55" height="6.06" fill="#2c67a9"/>
<rect x="473.95" y="173.12" width="28.55" height="6.06" fill="#2c67a9"/>
<rect x="274.1" y="179.18" width="28.55" height="6.06" fill="#7bb0d3"/>
<rect x="302.65" y="179.18" width="28.55" height="6.06" fill="#8cc1dc"/>
<rect x="331.2" y="179.18" width="28.55" height="6.06" fill="#8cc1dc"/>
<rect x="359.75" y="179.18" width="28.55" height="6.06" fill="#8cc1dc"/>
<rect x="388.3" y="179.18" width="28.55" height="6.06" fill="#8cc1dc"/>
<rect x="416.85" y="179.18" width="28.55" height="6.06" fill="#7bb0d3"/>
<rect x="445.4" y="179.18" width="28.55" height="6.06" fill="#8cc1dc"/>
<rect x="473.95" y="179.18" width="28.55" height="6.06" fill="#8cc1dc"/>
<rect x="274.1" y="185.23" width="28.55" height="6.06" fill="#2c67a9"/>
<rect x="302.65" y="185.23" width="28.55" height="6.06" fill="#b8d9e9"/>
<rect x="331.2" y="185.23" width="28.55" height="6.06" fill="#2c67a9"/>
<rect x="359.75" y="185.23" width="28.55" height="6.06" fill="#2c67a9"/>
<rect x="388.3" y="185.23" width="28.55" height="6.06" fill="#2c67a9"/>
<rect x="416.85" y="185.23" width="28.55" height="6.06" fill="#2c67a9"/>
<rect x="445.4" y="185.23" width="28.55" height="6.06" fill="#2c67a9"/>
<rect x="473.95" y="185.23" width="28.55" height="6.06" fill="#2c67a9"/>
<rect x="274.1" y="191.29" width="28.55" height="6.06" fill="#2c67a9"/>
<rect x="302.65" y="191.29" width="28.55" height="6.06" fill="#a1cde2"/>
<rect x="331.2" y="191.29" width="28.55" height="6.06" fill="#2c67a9"/>
<rect x="359.75" y="191.29" width="28.55" height="6.06" fill="#2c67a9"/>
<rect x="388.3" y="191.29" width="28.55" height="6.06" fill="#2c67a9"/>
<rect x="416.85" y="191.29" width="28.55" height="6.06" fill="#2c67a9"/>
<rect x="445.4" y="191.29" width="28.55" height="6.06" fill="#2c67a9"/>
<rect x="473.95" y="191.29" width="28.55" height="6.06" fill="#2c67a9"/>
<rect x="274.1" y="197.35" width="28.55" height="6.06" fill="#2c67a9"/>
<rect x="302.65" y="197.35" width="28.55" height="6.06" fill="#a1cde2"/>
<rect x="331.2" y="197.35" width="28.55" height="6.06" fill="#2c67a9"/>
<rect x="359.75" y="197.35" width="28.55" height="6.06" fill="#2c67a9"/>
<rect x="388.3" y="197.35" width="28.55" height="6.06" fill="#2c67a9"/>
<rect x="416.85" y="197.35" width="28.55" height="6.06" fill="#2c67a9"/>
<rect x="445.4" y="197.35" width="28.55" height="6.06" fill="#2c67a9"/>
<rect x="473.95" y="197.35" width="28.55" height="6.06" fill="#2c67a9"/>
<rect x="274.1" y="203.4" width="28.55" height="6.06" fill="#8cc1dc"/>
<rect x="302.65" y="203.4" width="28.55" height="6.06" fill="#8cc1dc"/>
<rect x="331.2" y="203.4" width="28.55" height="6.06" fill="#8cc1dc"/>
<rect x="359.75" y="203.4" width="28.55" height="6.06" fill="#8cc1dc"/>
<rect x="388.3" y="203.4" width="28.55" height="6.06" fill="#8cc1dc"/>
<rect x="416.85" y="203.4" width="28.55" height="6.06" fill="#8cc1dc"/>
<rect x="445.4" y="203.4" width="28.55" height="6.06" fill="#8cc1dc"/>
<rect x="473.95" y="203.4" width="28.55" height="6.06" fill="#8cc1dc"/>
<rect x="274.1" y="209.46" width="28.55" height="6.06" fill="#2c67a9"/>
<rect x="302.65" y="209.46" width="28.55" height="6.06" fill="#b8d9e9"/>
<rect x="331.2" y="209.46" width="28.55" height="6.06" fill="#2c67a9"/>
<rect x="359.75" y="209.46" width="28.55" height="6.06" fill="#6499c7"/>
<rect x="388.3" y="209.46" width="28.55" height="6.06" fill="#8cc1dc"/>
<rect x="416.85" y="209.46" width="28.55" height="6.06" fill="#8cc1dc"/>
<rect x="445.4" y="209.46" width="28.55" height="6.06" fill="#2c67a9"/>
<rect x="473.95" y="209.46" width="28.55" height="6.06" fill="#467db8"/>
<rect x="274.1" y="215.51" width="28.55" height="6.06" fill="#8cc1dc"/>
<rect x="302.65" y="215.51" width="28.55" height="6.06" fill="#8cc1dc"/>
<rect x="331.2" y="215.51" width="28.55" height="6.06" fill="#7bb0d3"/>
<rect x="359.75" y="215.51" width="28.55" height="6.06" fill="#8cc1dc"/>
<rect x="388.3" y="215.51" width="28.55" height="6.06" fill="#8cc1dc"/>
<rect x="416.85" y="215.51" width="28.55" height="6.06" fill="#8cc1dc"/>
<rect x="445.4" y="215.51" width="28.55" height="6.06" fill="#8cc1dc"/>
<rect x="473.95" y="215.51" width="28.55" height="6.06" fill="#8cc1dc"/>
<rect x="274.1" y="221.57" width="28.55" height="6.06" fill="#eaaaa9"/>
<rect x="302.65" y="221.57" width="28.55" height="6.06" fill="#f5d8d5"/>
<rect x="331.2" y="221.57" width="28.55" height="6.06" fill="#eff2f4"/>
<rect x="359.75" y="221.57" width="28.55" height="6.06" fill="#eff2f4"/>
<rect x="388.3" y="221.57" width="28.55" height="6.06" fill="#eff2f4"/>
<rect x="416.85" y="221.57" width="28.55" height="6.06" fill="#d2e5ef"/>
<rect x="445.4" y="221.57" width="28.55" height="6.06" fill="#b8d9e9"/>
<rect x="473.95" y="221.57" width="28.55" height="6.06" fill="#eff2f4"/>
<rect x="274.1" y="227.63" width="28.55" height="6.06" fill="#a1cde2"/>
<rect x="302.65" y="227.63" width="28.55" height="6.06" fill="#a1cde2"/>
<rect x="331.2" y="227.63" width="28.55" height="6.06" fill="#8cc1dc"/>
<rect x="359.75" y="227.63" width="28.55" height="6.06" fill="#a1cde2"/>
<rect x="388.3" y="227.63" width="28.55" height="6.06" fill="#a1cde2"/>
<rect x="416.85" y="227.63" width="28.55" height="6.06" fill="#a1cde2"/>
<rect x="445.4" y="227.63" width="28.55" height="6.06" fill="#a1cde2"/>
<rect x="473.95" y="227.63" width="28.55" height="6.06" fill="#a1cde2"/>
<rect x="274.1" y="233.68" width="28.55" height="6.06" fill="#6499c7"/>
<rect x="302.65" y="233.68" width="28.55" height="6.06" fill="#8cc1dc"/>
<rect x="331.2" y="233.68" width="28.55" height="6.06" fill="#7bb0d3"/>
<rect x="359.75" y="233.68" width="28.55" height="6.06" fill="#8cc1dc"/>
<rect x="388.3" y="233.68" width="28.55" height="6.06" fill="#8cc1dc"/>
<rect x="416.85" y="233.68" width="28.55" height="6.06" fill="#8cc1dc"/>
<rect x="445.4" y="233.68" width="28.55" height="6.06" fill="#8cc1dc"/>
<rect x="473.95" y="233.68" width="28.55" height="6.06" fill="#8cc1dc"/>
<rect x="274.1" y="239.74" width="28.55" height="6.06" fill="#d2e5ef"/>
<rect x="302.65" y="239.74" width="28.55" height="6.06" fill="#d2e5ef"/>
<rect x="331.2" y="239.74" width="28.55" height="6.06" fill="#b8d9e9"/>
<rect x="359.75" y="239.74" width="28.55" height="6.06" fill="#d2e5ef"/>
<rect x="388.3" y="239.74" width="28.55" height="6.06" fill="#d2e5ef"/>
<rect x="416.85" y="239.74" width="28.55" height="6.06" fill="#a1cde2"/>
<rect x="445.4" y="239.74" width="28.55" height="6.06" fill="#b8d9e9"/>
<rect x="473.95" y="239.74" width="28.55" height="6.06" fill="#b8d9e9"/>
<rect x="274.1" y="245.79" width="28.55" height="6.06" fill="#a1cde2"/>
<rect x="302.65" y="245.79" width="28.55" height="6.06" fill="#a1cde2"/>
<rect x="331.2" y="245.79" width="28.55" height="6.06" fill="#8cc1dc"/>
<rect x="359.75" y="245.79" width="28.55" height="6.06" fill="#a1cde2"/>
<rect x="388.3" y="245.79" width="28.55" height="6.06" fill="#a1cde2"/>
<rect x="416.85" y="245.79" width="28.55" height="6.06" fill="#a1cde2"/>
<rect x="445.4" y="245.79" width="28.55" height="6.06" fill="#a1cde2"/>
<rect x="473.95" y="245.79" width="28.55" height="6.06" fill="#a1cde2"/>
<rect x="274.1" y="251.85" width="28.55" height="6.06" fill="#467db8"/>
<rect x="302.65" y="251.85" width="28.55" height="6.06" fill="#a1cde2"/>
<rect x="331.2" y="251.85" width="28.55" height="6.06" fill="#2c67a9"/>
<rect x="359.75" y="251.85" width="28.55" height="6.06" fill="#2c67a9"/>
<rect x="388.3" y="251.85" width="28.55" height="6.06" fill="#6499c7"/>
<rect x="416.85" y="251.85" width="28.55" height="6.06" fill="#467db8"/>
<rect x="445.4" y="251.85" width="28.55" height="6.06" fill="#2c67a9"/>
<rect x="473.95" y="251.85" width="28.55" height="6.06" fill="#467db8"/>
<rect x="274.1" y="257.91" width="28.55" height="6.06" fill="#6499c7"/>
<rect x="302.65" y="257.91" width="28.55" height="6.06" fill="#a1cde2"/>
<rect x="331.2" y="257.91" width="28.55" height="6.06" fill="#6499c7"/>
<rect x="359.75" y="257.91" width="28.55" height="6.06" fill="#6499c7"/>
<rect x="388.3" y="257.91" width="28.55" height="6.06" fill="#7bb0d3"/>
<rect x="416.85" y="257.91" width="28.55" height="6.06" fill="#8cc1dc"/>
<rect x="445.4" y="257.91" width="28.55" height="6.06" fill="#8cc1dc"/>
<rect x="473.95" y="257.91" width="28.55" height="6.06" fill="#7bb0d3"/>
<rect x="274.1" y="263.96" width="28.55" height="6.06" fill="#6499c7"/>
<rect x="302.65" y="263.96" width="28.55" height="6.06" fill="#a1cde2"/>
<rect x="331.2" y="263.96" width="28.55" height="6.06" fill="#2c67a9"/>
<rect x="359.75" y="263.96" width="28.55" height="6.06" fill="#6499c7"/>
<rect x="388.3" y="263.96" width="28.55" height="6.06" fill="#7bb0d3"/>
<rect x="416.85" y="263.96" width="28.55" height="6.06" fill="#7bb0d3"/>
<rect x="445.4" y="263.96" width="28.55" height="6.06" fill="#467db8"/>
<rect x="473.95" y="263.96" width="28.55" height="6.06" fill="#7bb0d3"/>
<rect x="274.1" y="270.02" width="28.55" height="6.06" fill="#8cc1dc"/>
<rect x="302.65" y="270.02" width="28.55" height="6.06" fill="#b8d9e9"/>
<rect x="331.2" y="270.02" width="28.55" height="6.06" fill="#6499c7"/>
<rect x="359.75" y="270.02" width="28.55" height="6.06" fill="#7bb0d3"/>
<rect x="388.3" y="270.02" width="28.55" height="6.06" fill="#8cc1dc"/>
<rect x="416.85" y="270.02" width="28.55" height="6.06" fill="#8cc1dc"/>
<rect x="445.4" y="270.02" width="28.55" height="6.06" fill="#7bb0d3"/>
<rect x="473.95" y="270.02" width="28.55" height="6.06" fill="#7bb0d3"/>
<rect x="274.1" y="308.6" width="28.55" height="6.06" fill="#b8d9e9"/>
<rect x="274.1" y="314.66" width="28.55" height="6.06" fill="#eff2f4"/>
<rect x="274.1" y="320.71" width="28.55" height="6.06" fill="#b8d9e9"/>
<rect x="274.1" y="326.77" width="28.55" height="6.06" fill="#a1cde2"/>
<rect x="274.1" y="332.82" width="28.55" height="6.06" fill="#8cc1dc"/>
<rect x="274.1" y="338.88" width="28.55" height="6.06" fill="#6499c7"/>
<rect x="274.1" y="344.94" width="28.55" height="6.06" fill="#2c67a9"/>
<rect x="274.1" y="350.99" width="28.55" height="6.06" fill="#2c67a9"/>
<rect x="302.65" y="308.6" width="28.55" height="6.06" fill="#b8d9e9"/>
<rect x="302.65" y="314.66" width="28.55" height="6.06" fill="#eff2f4"/>
<rect x="302.65" y="320.71" width="28.55" height="6.06" fill="#d2e5ef"/>
<rect x="302.65" y="326.77" width="28.55" height="6.06" fill="#a1cde2"/>
<rect x="302.65" y="332.82" width="28.55" height="6.06" fill="#b8d9e9"/>
<rect x="302.65" y="338.88" width="28.55" height="6.06" fill="#b8d9e9"/>
<rect x="302.65" y="344.94" width="28.55" height="6.06" fill="#b8d9e9"/>
<rect x="302.65" y="350.99" width="28.55" height="6.06" fill="#eff2f4"/>
<rect x="302.65" y="357.05" width="28.55" height="6.06" fill="#c6545b"/>
<rect x="331.2" y="308.6" width="28.55" height="6.06" fill="#a1cde2"/>
<rect x="331.2" y="314.66" width="28.55" height="6.06" fill="#eff2f4"/>
<rect x="331.2" y="320.71" width="28.55" height="6.06" fill="#d2e5ef"/>
<rect x="331.2" y="326.77" width="28.55" height="6.06" fill="#a1cde2"/>
<rect x="331.2" y="332.82" width="28.55" height="6.06" fill="#8cc1dc"/>
<rect x="331.2" y="338.88" width="28.55" height="6.06" fill="#7bb0d3"/>
<rect x="331.2" y="344.94" width="28.55" height="6.06" fill="#7bb0d3"/>
<rect x="331.2" y="350.99" width="28.55" height="6.06" fill="#467db8"/>
<rect x="331.2" y="357.05" width="28.55" height="6.06" fill="#2c67a9"/>
<rect x="331.2" y="363.1" width="28.55" height="6.06" fill="#2c67a9"/>
<rect x="359.75" y="308.6" width="28.55" height="6.06" fill="#b8d9e9"/>
<rect x="359.75" y="314.66" width="28.55" height="6.06" fill="#eff2f4"/>
<rect x="359.75" y="320.71" width="28.55" height="6.06" fill="#d2e5ef"/>
<rect x="359.75" y="326.77" width="28.55" height="6.06" fill="#a1cde2"/>
<rect x="359.75" y="332.82" width="28.55" height="6.06" fill="#b8d9e9"/>
<rect x="359.75" y="338.88" width="28.55" height="6.06" fill="#7bb0d3"/>
<rect x="359.75" y="344.94" width="28.55" height="6.06" fill="#6499c7"/>
<rect x="359.75" y="350.99" width="28.55" height="6.06" fill="#6499c7"/>
<rect x="359.75" y="357.05" width="28.55" height="6.06" fill="#6499c7"/>
<rect x="359.75" y="363.1" width="28.55" height="6.06" fill="#2c67a9"/>
<rect x="359.75" y="369.16" width="28.55" height="6.06" fill="#2c67a9"/>
<rect x="388.3" y="308.6" width="28.55" height="6.06" fill="#a1cde2"/>
<rect x="388.3" y="314.66" width="28.55" height="6.06" fill="#eff2f4"/>
<rect x="388.3" y="320.71" width="28.55" height="6.06" fill="#d2e5ef"/>
<rect x="388.3" y="326.77" width="28.55" height="6.06" fill="#d2e5ef"/>
<rect x="388.3" y="332.82" width="28.55" height="6.06" fill="#8cc1dc"/>
<rect x="388.3" y="338.88" width="28.55" height="6.06" fill="#8cc1dc"/>
<rect x="388.3" y="344.94" width="28.55" height="6.06" fill="#8cc1dc"/>
<rect x="388.3" y="350.99" width="28.55" height="6.06" fill="#8cc1dc"/>
<rect x="388.3" y="357.05" width="28.55" height="6.06" fill="#6499c7"/>
<rect x="388.3" y="363.1" width="28.55" height="6.06" fill="#467db8"/>
<rect x="388.3" y="369.16" width="28.55" height="6.06" fill="#2c67a9"/>
<rect x="388.3" y="375.22" width="28.55" height="6.06" fill="#2c67a9"/>
<rect x="416.85" y="308.6" width="28.55" height="6.06" fill="#a1cde2"/>
<rect x="416.85" y="314.66" width="28.55" height="6.06" fill="#eff2f4"/>
<rect x="416.85" y="320.71" width="28.55" height="6.06" fill="#b8d9e9"/>
<rect x="416.85" y="326.77" width="28.55" height="6.06" fill="#8cc1dc"/>
<rect x="416.85" y="332.82" width="28.55" height="6.06" fill="#8cc1dc"/>
<rect x="416.85" y="338.88" width="28.55" height="6.06" fill="#8cc1dc"/>
<rect x="416.85" y="344.94" width="28.55" height="6.06" fill="#8cc1dc"/>
<rect x="416.85" y="350.99" width="28.55" height="6.06" fill="#8cc1dc"/>
<rect x="416.85" y="357.05" width="28.55" height="6.06" fill="#8cc1dc"/>
<rect x="416.85" y="363.1" width="28.55" height="6.06" fill="#8cc1dc"/>
<rect x="416.85" y="369.16" width="28.55" height="6.06" fill="#8cc1dc"/>
<rect x="416.85" y="375.22" width="28.55" height="6.06" fill="#467db8"/>
<rect x="416.85" y="381.27" width="28.55" height="6.06" fill="#2c67a9"/>
<rect x="445.4" y="308.6" width="28.55" height="6.06" fill="#8cc1dc"/>
<rect x="445.4" y="314.66" width="28.55" height="6.06" fill="#eff2f4"/>
<rect x="445.4" y="320.71" width="28.55" height="6.06" fill="#b8d9e9"/>
<rect x="445.4" y="326.77" width="28.55" height="6.06" fill="#7bb0d3"/>
<rect x="445.4" y="332.82" width="28.55" height="6.06" fill="#7bb0d3"/>
<rect x="445.4" y="338.88" width="28.55" height="6.06" fill="#8cc1dc"/>
<rect x="445.4" y="344.94" width="28.55" height="6.06" fill="#8cc1dc"/>
<rect x="445.4" y="350.99" width="28.55" height="6.06" fill="#8cc1dc"/>
<rect x="445.4" y="357.05" width="28.55" height="6.06" fill="#8cc1dc"/>
<rect x="445.4" y="363.1" width="28.55" height="6.06" fill="#8cc1dc"/>
<rect x="445.4" y="369.16" width="28.55" height="6.06" fill="#8cc1dc"/>
<rect x="445.4" y="375.22" width="28.55" height="6.06" fill="#8cc1dc"/>
<rect x="445.4" y="381.27" width="28.55" height="6.06" fill="#6499c7"/>
<rect x="445.4" y="387.33" width="28.55" height="6.06" fill="#467db8"/>
<rect x="473.95" y="308.6" width="28.55" height="6.06" fill="#8cc1dc"/>
<rect x="473.95" y="314.66" width="28.55" height="6.06" fill="#eff2f4"/>
<rect x="473.95" y="320.71" width="28.55" height="6.06" fill="#a1cde2"/>
<rect x="473.95" y="326.77" width="28.55" height="6.06" fill="#6499c7"/>
<rect x="473.95" y="332.82" width="28.55" height="6.06" fill="#7bb0d3"/>
<rect x="473.95" y="338.88" width="28.55" height="6.06" fill="#8cc1dc"/>
<rect x="473.95" y="344.94" width="28.55" height="6.06" fill="#a1cde2"/>
<rect x="473.95" y="350.99" width="28.55" height="6.06" fill="#a1cde2"/>
<rect x="473.95" y="357.05" width="28.55" height="6.06" fill="#a1cde2"/>
<rect x="473.95" y="363.1" width="28.55" height="6.06" fill="#8cc1dc"/>
<rect x="473.95" y="369.16" width="28.55" height="6.06" fill="#8cc1dc"/>
<rect x="473.95" y="375.22" width="28.55" height="6.06" fill="#8cc1dc"/>
<rect x="473.95" y="381.27" width="28.55" height="6.06" fill="#8cc1dc"/>
<rect x="473.95" y="387.33" width="28.55" height="6.06" fill="#6499c7"/>
<rect x="473.95" y="393.38" width="28.55" height="6.06" fill="#2c67a9"/>
</g>
<g stroke="#000" stroke-width="2" fill="none">
<path d="M508.6 97.3 H535.2"/>
<path d="M508.6 127.64 H535.2"/>
<path d="M508.6 157.98 H535.2"/>
<path d="M508.6 188.32 H535.2"/>
<path d="M508.6 218.66 H535.2"/>
<path d="M508.6 249 H535.2"/>
<path d="M508.6 311.63 H518.2 L526.4 308.7 H535.5"/>
<path d="M508.6 335.85 H518.2 L526.4 334.3 H535.5"/>
<path d="M508.6 366.13 H518.2 L526.4 360.3 H535.5"/>
<path d="M508.6 396.41 H518.2 L526.4 386.8 H535.5"/>
</g>
<g font-size="25" >
<text x="540.9" y="106.7" textLength="15" lengthAdjust="spacingAndGlyphs">5</text>
<text x="540.9" y="137.04" textLength="30" lengthAdjust="spacingAndGlyphs">10</text>
<text x="540.9" y="167.38" textLength="30" lengthAdjust="spacingAndGlyphs">15</text>
<text x="540.9" y="197.72" textLength="30" lengthAdjust="spacingAndGlyphs">20</text>
<text x="540.9" y="228.06" textLength="30" lengthAdjust="spacingAndGlyphs">25</text>
<text x="540.9" y="258.4" textLength="30" lengthAdjust="spacingAndGlyphs">30</text>
<text x="540.9" y="318.1" textLength="15" lengthAdjust="spacingAndGlyphs">1</text>
<text x="540.9" y="343.7" textLength="15" lengthAdjust="spacingAndGlyphs">5</text>
<text x="540.9" y="369.7" textLength="30" lengthAdjust="spacingAndGlyphs">10</text>
<text x="540.9" y="396.2" textLength="30" lengthAdjust="spacingAndGlyphs">15</text>
</g>
<g font-size="25" text-anchor="end" >
<text transform="translate(61.71,419.2) scale(1.08,1) rotate(-45)">8</text>
<text transform="translate(90.32,419.2) scale(1.08,1) rotate(-45)">9</text>
<text transform="translate(118.93,419.2) scale(1.08,1) rotate(-45)">10</text>
<text transform="translate(147.54,419.2) scale(1.08,1) rotate(-45)">11</text>
<text transform="translate(176.16,419.2) scale(1.08,1) rotate(-45)">12</text>
<text transform="translate(204.77,419.2) scale(1.08,1) rotate(-45)">13</text>
<text transform="translate(233.38,419.2) scale(1.08,1) rotate(-45)">14</text>
<text transform="translate(261.99,419.2) scale(1.08,1) rotate(-45)">15</text>
<text transform="translate(294.77,419.2) scale(1.08,1) rotate(-45)">8</text>
<text transform="translate(323.32,419.2) scale(1.08,1) rotate(-45)">9</text>
<text transform="translate(351.88,419.2) scale(1.08,1) rotate(-45)">10</text>
<text transform="translate(380.42,419.2) scale(1.08,1) rotate(-45)">11</text>
<text transform="translate(408.98,419.2) scale(1.08,1) rotate(-45)">12</text>
<text transform="translate(437.52,419.2) scale(1.08,1) rotate(-45)">13</text>
<text transform="translate(466.07,419.2) scale(1.08,1) rotate(-45)">14</text>
<text transform="translate(494.62,419.2) scale(1.08,1) rotate(-45)">15</text>
</g>
<text x="597.5" y="185.6" font-size="23" font-weight="bold" >Att</text>
<rect x="597.4" y="196.3" width="25.5" height="78.3" fill="url(#lg)"/>
<rect x="597.4" y="196.3" width="25.5" height="76.5" fill="none" stroke="#000" stroke-width="2.2"/>
<g stroke="#000" stroke-width="1.7">
<path d="M598 198.7 h5.3 M617 198.7 H640"/>
<path d="M598 252.2 h5.3 M617 252.2 H640"/>
<path d="M598 269.8 h5.3 M617 269.8 H640"/>
</g>
</g>
</g>
</g>
</svg></body></html>
